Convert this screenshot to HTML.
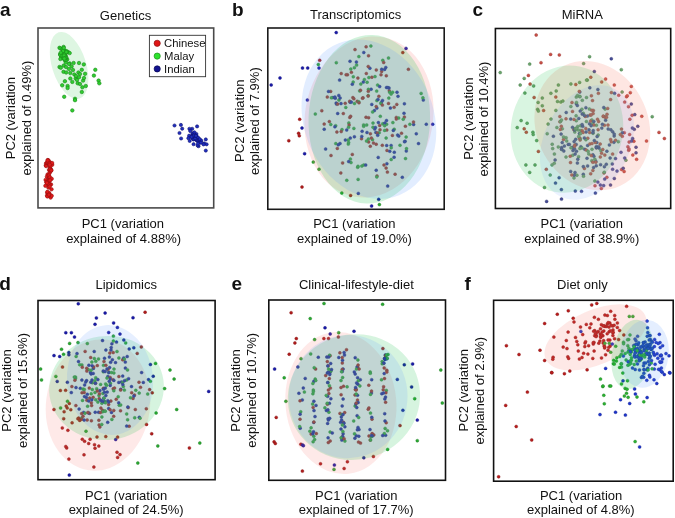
<!DOCTYPE html>
<html><head><meta charset="utf-8"><title>PCA plots</title>
<style>html,body{margin:0;padding:0;background:#fff;width:675px;height:518px;overflow:hidden}svg{display:block}</style>
</head><body>
<svg width="675" height="518" viewBox="0 0 675 518">
<rect width="675" height="518" fill="#fff"/>
<clipPath id="clipa"><rect x="38.0" y="28.0" width="175.7" height="179.9"/></clipPath>
<g clip-path="url(#clipa)">
<ellipse cx="69.1" cy="65.4" rx="17.0" ry="34.7" transform="rotate(-17.5 69.1 65.4)" fill="#5ad26e" fill-opacity="0.2"/>
<g fill="#30cc30" stroke="#1a8c1a" stroke-width="0.6">
<circle cx="61.2" cy="57.0" r="1.75"/>
<circle cx="64.7" cy="51.3" r="1.75"/>
<circle cx="60.5" cy="54.6" r="1.75"/>
<circle cx="65.2" cy="60.4" r="1.75"/>
<circle cx="59.5" cy="47.8" r="1.75"/>
<circle cx="65.1" cy="56.9" r="1.75"/>
<circle cx="67.2" cy="59.4" r="1.75"/>
<circle cx="62.7" cy="53.0" r="1.75"/>
<circle cx="68.0" cy="52.0" r="1.75"/>
<circle cx="60.5" cy="48.5" r="1.75"/>
<circle cx="63.5" cy="55.3" r="1.75"/>
<circle cx="62.5" cy="54.3" r="1.75"/>
<circle cx="64.4" cy="58.2" r="1.75"/>
<circle cx="65.6" cy="55.3" r="1.75"/>
<circle cx="60.4" cy="59.0" r="1.75"/>
<circle cx="60.2" cy="54.0" r="1.75"/>
<circle cx="60.3" cy="55.0" r="1.75"/>
<circle cx="61.9" cy="55.9" r="1.75"/>
<circle cx="69.7" cy="53.1" r="1.75"/>
<circle cx="63.6" cy="46.9" r="1.75"/>
<circle cx="63.3" cy="58.3" r="1.75"/>
<circle cx="63.4" cy="56.6" r="1.75"/>
<circle cx="62.4" cy="48.9" r="1.75"/>
<circle cx="63.5" cy="49.8" r="1.75"/>
<circle cx="66.4" cy="51.1" r="1.75"/>
<circle cx="64.6" cy="54.3" r="1.75"/>
<circle cx="64.5" cy="50.8" r="1.75"/>
<circle cx="65.0" cy="53.5" r="1.75"/>
<circle cx="66.3" cy="57.5" r="1.75"/>
<circle cx="62.7" cy="50.1" r="1.75"/>
<circle cx="65.2" cy="56.8" r="1.75"/>
<circle cx="66.1" cy="51.9" r="1.75"/>
<circle cx="64.8" cy="57.1" r="1.75"/>
<circle cx="64.0" cy="55.6" r="1.75"/>
<circle cx="63.0" cy="51.1" r="1.75"/>
<circle cx="60.8" cy="52.7" r="1.75"/>
<circle cx="65.8" cy="62.6" r="1.75"/>
<circle cx="66.1" cy="60.0" r="1.75"/>
<circle cx="65.4" cy="58.1" r="1.75"/>
<circle cx="64.3" cy="58.7" r="1.75"/>
<circle cx="66.4" cy="52.1" r="1.75"/>
<circle cx="63.7" cy="65.6" r="1.75"/>
<circle cx="64.6" cy="59.8" r="1.75"/>
<circle cx="63.8" cy="47.9" r="1.75"/>
<circle cx="69.7" cy="63.4" r="1.75"/>
<circle cx="64.3" cy="58.6" r="1.75"/>
<circle cx="59.5" cy="67.0" r="1.75"/>
<circle cx="60.8" cy="67.7" r="1.75"/>
<circle cx="63.5" cy="71.8" r="1.75"/>
<circle cx="66.2" cy="72.5" r="1.75"/>
<circle cx="70.3" cy="73.1" r="1.75"/>
<circle cx="68.9" cy="69.1" r="1.75"/>
<circle cx="71.6" cy="66.4" r="1.75"/>
<circle cx="73.6" cy="63.0" r="1.75"/>
<circle cx="79.0" cy="63.0" r="1.75"/>
<circle cx="83.8" cy="64.4" r="1.75"/>
<circle cx="74.3" cy="74.5" r="1.75"/>
<circle cx="78.4" cy="72.5" r="1.75"/>
<circle cx="81.8" cy="69.8" r="1.75"/>
<circle cx="85.1" cy="73.8" r="1.75"/>
<circle cx="75.7" cy="78.5" r="1.75"/>
<circle cx="79.0" cy="77.2" r="1.75"/>
<circle cx="83.1" cy="80.6" r="1.75"/>
<circle cx="70.3" cy="78.5" r="1.75"/>
<circle cx="72.3" cy="81.9" r="1.75"/>
<circle cx="64.9" cy="81.2" r="1.75"/>
<circle cx="62.2" cy="85.3" r="1.75"/>
<circle cx="67.6" cy="86.0" r="1.75"/>
<circle cx="67.6" cy="88.0" r="1.75"/>
<circle cx="77.7" cy="83.3" r="1.75"/>
<circle cx="82.4" cy="87.3" r="1.75"/>
<circle cx="85.8" cy="86.0" r="1.75"/>
<circle cx="81.8" cy="92.0" r="1.75"/>
<circle cx="64.2" cy="96.8" r="1.75"/>
<circle cx="75.0" cy="98.8" r="1.75"/>
<circle cx="75.0" cy="100.2" r="1.75"/>
<circle cx="95.3" cy="69.8" r="1.75"/>
<circle cx="93.9" cy="75.6" r="1.75"/>
<circle cx="98.6" cy="80.6" r="1.75"/>
<circle cx="99.3" cy="83.3" r="1.75"/>
<circle cx="72.3" cy="110.4" r="1.75"/>
<circle cx="76.0" cy="76.0" r="1.75"/>
<circle cx="80.0" cy="74.0" r="1.75"/>
<circle cx="77.0" cy="80.0" r="1.75"/>
<circle cx="66.0" cy="67.0" r="1.75"/>
<circle cx="69.0" cy="64.0" r="1.75"/>
<circle cx="73.0" cy="70.0" r="1.75"/>
<circle cx="80.0" cy="84.0" r="1.75"/>
<circle cx="84.0" cy="78.0" r="1.75"/>
</g>
<g fill="#e01a1a" stroke="#9a1010" stroke-width="0.6">
<circle cx="51.0" cy="184.4" r="1.75"/>
<circle cx="50.5" cy="195.7" r="1.75"/>
<circle cx="48.4" cy="187.6" r="1.75"/>
<circle cx="50.1" cy="184.7" r="1.75"/>
<circle cx="47.6" cy="174.5" r="1.75"/>
<circle cx="51.5" cy="189.3" r="1.75"/>
<circle cx="49.6" cy="194.2" r="1.75"/>
<circle cx="49.6" cy="173.0" r="1.75"/>
<circle cx="48.4" cy="183.6" r="1.75"/>
<circle cx="52.2" cy="164.8" r="1.75"/>
<circle cx="45.8" cy="165.4" r="1.75"/>
<circle cx="47.7" cy="184.4" r="1.75"/>
<circle cx="49.9" cy="162.2" r="1.75"/>
<circle cx="49.9" cy="167.0" r="1.75"/>
<circle cx="50.6" cy="197.6" r="1.75"/>
<circle cx="48.3" cy="176.1" r="1.75"/>
<circle cx="45.4" cy="185.8" r="1.75"/>
<circle cx="46.1" cy="163.3" r="1.75"/>
<circle cx="46.2" cy="166.1" r="1.75"/>
<circle cx="47.1" cy="162.7" r="1.75"/>
<circle cx="50.3" cy="166.6" r="1.75"/>
<circle cx="46.9" cy="176.7" r="1.75"/>
<circle cx="49.3" cy="178.5" r="1.75"/>
<circle cx="52.1" cy="163.0" r="1.75"/>
<circle cx="49.0" cy="169.9" r="1.75"/>
<circle cx="47.8" cy="160.1" r="1.75"/>
<circle cx="48.5" cy="179.5" r="1.75"/>
<circle cx="47.6" cy="162.6" r="1.75"/>
<circle cx="45.6" cy="179.9" r="1.75"/>
<circle cx="49.0" cy="176.8" r="1.75"/>
<circle cx="46.5" cy="182.2" r="1.75"/>
<circle cx="48.8" cy="162.7" r="1.75"/>
<circle cx="47.2" cy="192.8" r="1.75"/>
<circle cx="48.8" cy="195.6" r="1.75"/>
<circle cx="49.6" cy="186.4" r="1.75"/>
<circle cx="49.1" cy="181.3" r="1.75"/>
<circle cx="51.7" cy="195.8" r="1.75"/>
<circle cx="49.0" cy="175.5" r="1.75"/>
<circle cx="47.1" cy="195.6" r="1.75"/>
<circle cx="50.7" cy="169.3" r="1.75"/>
<circle cx="48.2" cy="183.5" r="1.75"/>
<circle cx="49.8" cy="177.3" r="1.75"/>
<circle cx="48.5" cy="160.4" r="1.75"/>
<circle cx="50.6" cy="171.2" r="1.75"/>
<circle cx="51.2" cy="170.0" r="1.75"/>
<circle cx="48.3" cy="195.5" r="1.75"/>
<circle cx="47.6" cy="160.4" r="1.75"/>
<circle cx="49.8" cy="164.7" r="1.75"/>
<circle cx="49.1" cy="193.0" r="1.75"/>
<circle cx="50.0" cy="169.3" r="1.75"/>
<circle cx="48.6" cy="194.8" r="1.75"/>
<circle cx="51.3" cy="170.4" r="1.75"/>
<circle cx="48.7" cy="180.9" r="1.75"/>
<circle cx="46.7" cy="182.2" r="1.75"/>
<circle cx="51.7" cy="178.8" r="1.75"/>
<circle cx="47.4" cy="191.8" r="1.75"/>
<circle cx="47.3" cy="196.4" r="1.75"/>
<circle cx="50.1" cy="180.3" r="1.75"/>
<circle cx="48.9" cy="194.7" r="1.75"/>
<circle cx="46.9" cy="182.9" r="1.75"/>
</g>
<g fill="#1f30c0" stroke="#101070" stroke-width="0.6">
<circle cx="195.4" cy="138.3" r="1.6"/>
<circle cx="195.9" cy="137.0" r="1.6"/>
<circle cx="195.4" cy="138.5" r="1.6"/>
<circle cx="199.3" cy="140.9" r="1.6"/>
<circle cx="206.6" cy="144.3" r="1.6"/>
<circle cx="193.5" cy="139.0" r="1.6"/>
<circle cx="196.0" cy="136.2" r="1.6"/>
<circle cx="193.6" cy="138.3" r="1.6"/>
<circle cx="200.7" cy="141.0" r="1.6"/>
<circle cx="196.7" cy="137.9" r="1.6"/>
<circle cx="198.3" cy="141.3" r="1.6"/>
<circle cx="193.3" cy="139.4" r="1.6"/>
<circle cx="193.9" cy="136.7" r="1.6"/>
<circle cx="193.8" cy="134.1" r="1.6"/>
<circle cx="192.2" cy="128.8" r="1.6"/>
<circle cx="195.1" cy="134.6" r="1.6"/>
<circle cx="204.2" cy="143.4" r="1.6"/>
<circle cx="189.4" cy="128.8" r="1.6"/>
<circle cx="196.1" cy="139.9" r="1.6"/>
<circle cx="193.6" cy="144.2" r="1.6"/>
<circle cx="196.4" cy="134.0" r="1.6"/>
<circle cx="192.3" cy="138.0" r="1.6"/>
<circle cx="196.3" cy="138.8" r="1.6"/>
<circle cx="195.1" cy="138.9" r="1.6"/>
<circle cx="190.2" cy="131.0" r="1.6"/>
<circle cx="193.5" cy="133.8" r="1.6"/>
<circle cx="193.6" cy="135.4" r="1.6"/>
<circle cx="197.5" cy="140.9" r="1.6"/>
<circle cx="193.6" cy="139.0" r="1.6"/>
<circle cx="197.3" cy="138.5" r="1.6"/>
<circle cx="197.6" cy="140.1" r="1.6"/>
<circle cx="193.9" cy="136.6" r="1.6"/>
<circle cx="200.1" cy="142.5" r="1.6"/>
<circle cx="193.8" cy="136.0" r="1.6"/>
<circle cx="192.8" cy="134.2" r="1.6"/>
<circle cx="201.2" cy="140.5" r="1.6"/>
<circle cx="196.4" cy="136.8" r="1.6"/>
<circle cx="198.5" cy="146.2" r="1.6"/>
<circle cx="196.6" cy="139.7" r="1.6"/>
<circle cx="192.5" cy="133.4" r="1.6"/>
<circle cx="195.7" cy="138.9" r="1.6"/>
<circle cx="197.6" cy="145.4" r="1.6"/>
<circle cx="193.6" cy="133.5" r="1.6"/>
<circle cx="197.9" cy="137.3" r="1.6"/>
<circle cx="195.7" cy="136.0" r="1.6"/>
<circle cx="195.1" cy="138.3" r="1.6"/>
<circle cx="191.1" cy="136.4" r="1.6"/>
<circle cx="192.4" cy="135.9" r="1.6"/>
<circle cx="194.4" cy="132.3" r="1.6"/>
<circle cx="194.3" cy="134.6" r="1.6"/>
<circle cx="199.7" cy="139.1" r="1.6"/>
<circle cx="201.0" cy="142.7" r="1.6"/>
<circle cx="198.0" cy="143.6" r="1.6"/>
<circle cx="192.3" cy="136.5" r="1.6"/>
<circle cx="193.9" cy="135.6" r="1.6"/>
<circle cx="189.7" cy="140.9" r="1.6"/>
<circle cx="189.1" cy="135.7" r="1.6"/>
<circle cx="195.7" cy="135.6" r="1.6"/>
<circle cx="191.5" cy="136.9" r="1.6"/>
<circle cx="196.0" cy="135.9" r="1.6"/>
<circle cx="174.5" cy="125.5" r="1.6"/>
<circle cx="180.9" cy="124.9" r="1.6"/>
<circle cx="182.2" cy="128.7" r="1.6"/>
<circle cx="179.5" cy="133.0" r="1.6"/>
<circle cx="181.1" cy="138.5" r="1.6"/>
<circle cx="197.1" cy="126.4" r="1.6"/>
<circle cx="205.8" cy="139.4" r="1.6"/>
<circle cx="205.8" cy="150.6" r="1.6"/>
<circle cx="203.5" cy="144.4" r="1.6"/>
<circle cx="188.4" cy="138.2" r="1.6"/>
</g>
</g>
<rect x="38.0" y="28.0" width="175.70" height="179.90" fill="none" stroke="#4a4a4a" stroke-width="1.6"/>
<clipPath id="clipb"><rect x="267.8" y="28.0" width="176.39999999999998" height="181.3"/></clipPath>
<g clip-path="url(#clipb)">
<circle cx="379.7" cy="125.4" r="1.5" fill="#b01c1c" stroke="#801414" stroke-width="0.4"/>
<circle cx="366.0" cy="117.2" r="1.5" fill="#b01c1c" stroke="#801414" stroke-width="0.4"/>
<circle cx="378.4" cy="122.6" r="1.5" fill="#1a1aa8" stroke="#10107a" stroke-width="0.4"/>
<circle cx="364.4" cy="79.5" r="1.5" fill="#2aa832" stroke="#1c7a22" stroke-width="0.4"/>
<circle cx="391.1" cy="145.5" r="1.5" fill="#1a1aa8" stroke="#10107a" stroke-width="0.4"/>
<circle cx="342.6" cy="162.9" r="1.5" fill="#b01c1c" stroke="#801414" stroke-width="0.4"/>
<circle cx="330.8" cy="124.5" r="1.5" fill="#2aa832" stroke="#1c7a22" stroke-width="0.4"/>
<circle cx="355.0" cy="49.6" r="1.5" fill="#b01c1c" stroke="#801414" stroke-width="0.4"/>
<circle cx="386.5" cy="87.5" r="1.5" fill="#1a1aa8" stroke="#10107a" stroke-width="0.4"/>
<circle cx="389.3" cy="90.8" r="1.5" fill="#b01c1c" stroke="#801414" stroke-width="0.4"/>
<circle cx="369.9" cy="68.2" r="1.5" fill="#1a1aa8" stroke="#10107a" stroke-width="0.4"/>
<circle cx="381.3" cy="102.5" r="1.5" fill="#1a1aa8" stroke="#10107a" stroke-width="0.4"/>
<circle cx="358.9" cy="56.6" r="1.5" fill="#2aa832" stroke="#1c7a22" stroke-width="0.4"/>
<circle cx="359.7" cy="90.9" r="1.5" fill="#2aa832" stroke="#1c7a22" stroke-width="0.4"/>
<circle cx="396.3" cy="117.4" r="1.5" fill="#b01c1c" stroke="#801414" stroke-width="0.4"/>
<circle cx="371.1" cy="89.2" r="1.5" fill="#1a1aa8" stroke="#10107a" stroke-width="0.4"/>
<circle cx="382.7" cy="123.8" r="1.5" fill="#2aa832" stroke="#1c7a22" stroke-width="0.4"/>
<circle cx="350.1" cy="102.2" r="1.5" fill="#1a1aa8" stroke="#10107a" stroke-width="0.4"/>
<circle cx="348.8" cy="122.9" r="1.5" fill="#2aa832" stroke="#1c7a22" stroke-width="0.4"/>
<circle cx="376.9" cy="100.6" r="1.5" fill="#2aa832" stroke="#1c7a22" stroke-width="0.4"/>
<circle cx="338.9" cy="100.1" r="1.5" fill="#2aa832" stroke="#1c7a22" stroke-width="0.4"/>
<circle cx="353.2" cy="82.1" r="1.5" fill="#2aa832" stroke="#1c7a22" stroke-width="0.4"/>
<circle cx="339.6" cy="80.1" r="1.5" fill="#1a1aa8" stroke="#10107a" stroke-width="0.4"/>
<circle cx="342.0" cy="129.6" r="1.5" fill="#2aa832" stroke="#1c7a22" stroke-width="0.4"/>
<circle cx="387.0" cy="150.4" r="1.5" fill="#b01c1c" stroke="#801414" stroke-width="0.4"/>
<circle cx="298.6" cy="133.3" r="1.5" fill="#b01c1c" stroke="#801414" stroke-width="0.4"/>
<circle cx="357.7" cy="167.3" r="1.5" fill="#2aa832" stroke="#1c7a22" stroke-width="0.4"/>
<circle cx="302.0" cy="128.0" r="1.5" fill="#1a1aa8" stroke="#10107a" stroke-width="0.4"/>
<circle cx="332.9" cy="97.6" r="1.5" fill="#1a1aa8" stroke="#10107a" stroke-width="0.4"/>
<circle cx="336.2" cy="103.1" r="1.5" fill="#1a1aa8" stroke="#10107a" stroke-width="0.4"/>
<circle cx="388.5" cy="103.4" r="1.5" fill="#b01c1c" stroke="#801414" stroke-width="0.4"/>
<circle cx="378.9" cy="96.3" r="1.5" fill="#b01c1c" stroke="#801414" stroke-width="0.4"/>
<circle cx="404.4" cy="117.1" r="1.5" fill="#b01c1c" stroke="#801414" stroke-width="0.4"/>
<circle cx="377.0" cy="175.9" r="1.5" fill="#b01c1c" stroke="#801414" stroke-width="0.4"/>
<circle cx="366.7" cy="124.9" r="1.5" fill="#2aa832" stroke="#1c7a22" stroke-width="0.4"/>
<circle cx="340.8" cy="172.9" r="1.5" fill="#b01c1c" stroke="#801414" stroke-width="0.4"/>
<circle cx="349.1" cy="125.0" r="1.5" fill="#b01c1c" stroke="#801414" stroke-width="0.4"/>
<circle cx="373.0" cy="123.1" r="1.5" fill="#2aa832" stroke="#1c7a22" stroke-width="0.4"/>
<circle cx="349.7" cy="101.2" r="1.5" fill="#b01c1c" stroke="#801414" stroke-width="0.4"/>
<circle cx="335.8" cy="143.6" r="1.5" fill="#2aa832" stroke="#1c7a22" stroke-width="0.4"/>
<circle cx="348.3" cy="144.1" r="1.5" fill="#2aa832" stroke="#1c7a22" stroke-width="0.4"/>
<circle cx="363.7" cy="165.0" r="1.5" fill="#2aa832" stroke="#1c7a22" stroke-width="0.4"/>
<circle cx="363.3" cy="82.1" r="1.5" fill="#1a1aa8" stroke="#10107a" stroke-width="0.4"/>
<circle cx="378.2" cy="157.4" r="1.5" fill="#1a1aa8" stroke="#10107a" stroke-width="0.4"/>
<circle cx="394.3" cy="152.2" r="1.5" fill="#1a1aa8" stroke="#10107a" stroke-width="0.4"/>
<circle cx="402.3" cy="177.3" r="1.5" fill="#1a1aa8" stroke="#10107a" stroke-width="0.4"/>
<circle cx="381.0" cy="74.8" r="1.5" fill="#b01c1c" stroke="#801414" stroke-width="0.4"/>
<circle cx="398.7" cy="118.0" r="1.5" fill="#2aa832" stroke="#1c7a22" stroke-width="0.4"/>
<circle cx="352.9" cy="97.6" r="1.5" fill="#b01c1c" stroke="#801414" stroke-width="0.4"/>
<circle cx="380.0" cy="129.7" r="1.5" fill="#b01c1c" stroke="#801414" stroke-width="0.4"/>
<circle cx="357.2" cy="101.3" r="1.5" fill="#b01c1c" stroke="#801414" stroke-width="0.4"/>
<circle cx="307.4" cy="100.0" r="1.5" fill="#1a1aa8" stroke="#10107a" stroke-width="0.4"/>
<circle cx="379.4" cy="204.6" r="1.5" fill="#2aa832" stroke="#1c7a22" stroke-width="0.4"/>
<circle cx="408.4" cy="69.3" r="1.5" fill="#b01c1c" stroke="#801414" stroke-width="0.4"/>
<circle cx="335.7" cy="125.7" r="1.5" fill="#2aa832" stroke="#1c7a22" stroke-width="0.4"/>
<circle cx="376.3" cy="69.9" r="1.5" fill="#b01c1c" stroke="#801414" stroke-width="0.4"/>
<circle cx="336.2" cy="32.6" r="1.5" fill="#1a1aa8" stroke="#10107a" stroke-width="0.4"/>
<circle cx="386.5" cy="120.5" r="1.5" fill="#1a1aa8" stroke="#10107a" stroke-width="0.4"/>
<circle cx="395.1" cy="174.2" r="1.5" fill="#b01c1c" stroke="#801414" stroke-width="0.4"/>
<circle cx="386.7" cy="145.5" r="1.5" fill="#1a1aa8" stroke="#10107a" stroke-width="0.4"/>
<circle cx="406.3" cy="151.0" r="1.5" fill="#1a1aa8" stroke="#10107a" stroke-width="0.4"/>
<circle cx="350.4" cy="159.1" r="1.5" fill="#2aa832" stroke="#1c7a22" stroke-width="0.4"/>
<circle cx="389.7" cy="92.3" r="1.5" fill="#2aa832" stroke="#1c7a22" stroke-width="0.4"/>
<circle cx="365.7" cy="165.0" r="1.5" fill="#1a1aa8" stroke="#10107a" stroke-width="0.4"/>
<circle cx="341.2" cy="73.6" r="1.5" fill="#b01c1c" stroke="#801414" stroke-width="0.4"/>
<circle cx="307.7" cy="68.0" r="1.5" fill="#1a1aa8" stroke="#10107a" stroke-width="0.4"/>
<circle cx="391.2" cy="147.8" r="1.5" fill="#2aa832" stroke="#1c7a22" stroke-width="0.4"/>
<circle cx="358.8" cy="101.8" r="1.5" fill="#2aa832" stroke="#1c7a22" stroke-width="0.4"/>
<circle cx="368.2" cy="95.6" r="1.5" fill="#2aa832" stroke="#1c7a22" stroke-width="0.4"/>
<circle cx="386.9" cy="163.7" r="1.5" fill="#1a1aa8" stroke="#10107a" stroke-width="0.4"/>
<circle cx="392.4" cy="135.4" r="1.5" fill="#b01c1c" stroke="#801414" stroke-width="0.4"/>
<circle cx="337.3" cy="148.4" r="1.5" fill="#b01c1c" stroke="#801414" stroke-width="0.4"/>
<circle cx="406.1" cy="137.0" r="1.5" fill="#2aa832" stroke="#1c7a22" stroke-width="0.4"/>
<circle cx="374.7" cy="129.0" r="1.5" fill="#1a1aa8" stroke="#10107a" stroke-width="0.4"/>
<circle cx="358.3" cy="193.4" r="1.5" fill="#1a1aa8" stroke="#10107a" stroke-width="0.4"/>
<circle cx="416.3" cy="133.8" r="1.5" fill="#1a1aa8" stroke="#10107a" stroke-width="0.4"/>
<circle cx="304.6" cy="153.7" r="1.5" fill="#1a1aa8" stroke="#10107a" stroke-width="0.4"/>
<circle cx="340.0" cy="143.5" r="1.5" fill="#1a1aa8" stroke="#10107a" stroke-width="0.4"/>
<circle cx="354.5" cy="103.5" r="1.5" fill="#2aa832" stroke="#1c7a22" stroke-width="0.4"/>
<circle cx="327.3" cy="97.0" r="1.5" fill="#b01c1c" stroke="#801414" stroke-width="0.4"/>
<circle cx="368.4" cy="139.0" r="1.5" fill="#2aa832" stroke="#1c7a22" stroke-width="0.4"/>
<circle cx="352.3" cy="84.2" r="1.5" fill="#1a1aa8" stroke="#10107a" stroke-width="0.4"/>
<circle cx="336.3" cy="62.7" r="1.5" fill="#2aa832" stroke="#1c7a22" stroke-width="0.4"/>
<circle cx="341.2" cy="131.6" r="1.5" fill="#b01c1c" stroke="#801414" stroke-width="0.4"/>
<circle cx="348.5" cy="127.3" r="1.5" fill="#2aa832" stroke="#1c7a22" stroke-width="0.4"/>
<circle cx="345.2" cy="103.3" r="1.5" fill="#b01c1c" stroke="#801414" stroke-width="0.4"/>
<circle cx="366.1" cy="46.8" r="1.5" fill="#b01c1c" stroke="#801414" stroke-width="0.4"/>
<circle cx="370.4" cy="133.8" r="1.5" fill="#b01c1c" stroke="#801414" stroke-width="0.4"/>
<circle cx="404.4" cy="103.8" r="1.5" fill="#1a1aa8" stroke="#10107a" stroke-width="0.4"/>
<circle cx="392.9" cy="122.6" r="1.5" fill="#2aa832" stroke="#1c7a22" stroke-width="0.4"/>
<circle cx="380.9" cy="103.4" r="1.5" fill="#2aa832" stroke="#1c7a22" stroke-width="0.4"/>
<circle cx="405.1" cy="141.3" r="1.5" fill="#1a1aa8" stroke="#10107a" stroke-width="0.4"/>
<circle cx="313.3" cy="162.1" r="1.5" fill="#2aa832" stroke="#1c7a22" stroke-width="0.4"/>
<circle cx="363.8" cy="52.5" r="1.5" fill="#1a1aa8" stroke="#10107a" stroke-width="0.4"/>
<circle cx="377.6" cy="85.1" r="1.5" fill="#2aa832" stroke="#1c7a22" stroke-width="0.4"/>
<circle cx="386.8" cy="130.0" r="1.5" fill="#b01c1c" stroke="#801414" stroke-width="0.4"/>
<circle cx="341.8" cy="193.0" r="1.5" fill="#2aa832" stroke="#1c7a22" stroke-width="0.4"/>
<circle cx="382.3" cy="145.3" r="1.5" fill="#b01c1c" stroke="#801414" stroke-width="0.4"/>
<circle cx="360.5" cy="90.2" r="1.5" fill="#b01c1c" stroke="#801414" stroke-width="0.4"/>
<circle cx="351.0" cy="162.6" r="1.5" fill="#2aa832" stroke="#1c7a22" stroke-width="0.4"/>
<circle cx="386.6" cy="124.2" r="1.5" fill="#2aa832" stroke="#1c7a22" stroke-width="0.4"/>
<circle cx="372.5" cy="139.7" r="1.5" fill="#2aa832" stroke="#1c7a22" stroke-width="0.4"/>
<circle cx="363.6" cy="124.9" r="1.5" fill="#2aa832" stroke="#1c7a22" stroke-width="0.4"/>
<circle cx="357.9" cy="78.1" r="1.5" fill="#b01c1c" stroke="#801414" stroke-width="0.4"/>
<circle cx="302.5" cy="68.0" r="1.5" fill="#1a1aa8" stroke="#10107a" stroke-width="0.4"/>
<circle cx="376.9" cy="108.1" r="1.5" fill="#1a1aa8" stroke="#10107a" stroke-width="0.4"/>
<circle cx="368.4" cy="89.3" r="1.5" fill="#2aa832" stroke="#1c7a22" stroke-width="0.4"/>
<circle cx="330.7" cy="91.4" r="1.5" fill="#b01c1c" stroke="#801414" stroke-width="0.4"/>
<circle cx="389.8" cy="151.3" r="1.5" fill="#1a1aa8" stroke="#10107a" stroke-width="0.4"/>
<circle cx="325.6" cy="149.0" r="1.5" fill="#1a1aa8" stroke="#10107a" stroke-width="0.4"/>
<circle cx="409.9" cy="124.3" r="1.5" fill="#2aa832" stroke="#1c7a22" stroke-width="0.4"/>
<circle cx="384.8" cy="123.1" r="1.5" fill="#1a1aa8" stroke="#10107a" stroke-width="0.4"/>
<circle cx="388.8" cy="98.1" r="1.5" fill="#2aa832" stroke="#1c7a22" stroke-width="0.4"/>
<circle cx="335.3" cy="98.2" r="1.5" fill="#1a1aa8" stroke="#10107a" stroke-width="0.4"/>
<circle cx="346.8" cy="180.3" r="1.5" fill="#2aa832" stroke="#1c7a22" stroke-width="0.4"/>
<circle cx="336.6" cy="104.1" r="1.5" fill="#1a1aa8" stroke="#10107a" stroke-width="0.4"/>
<circle cx="351.4" cy="72.3" r="1.5" fill="#b01c1c" stroke="#801414" stroke-width="0.4"/>
<circle cx="396.8" cy="104.4" r="1.5" fill="#b01c1c" stroke="#801414" stroke-width="0.4"/>
<circle cx="382.4" cy="105.1" r="1.5" fill="#b01c1c" stroke="#801414" stroke-width="0.4"/>
<circle cx="349.8" cy="117.4" r="1.5" fill="#b01c1c" stroke="#801414" stroke-width="0.4"/>
<circle cx="402.8" cy="52.6" r="1.5" fill="#b01c1c" stroke="#801414" stroke-width="0.4"/>
<circle cx="413.6" cy="124.5" r="1.5" fill="#1a1aa8" stroke="#10107a" stroke-width="0.4"/>
<circle cx="379.2" cy="132.7" r="1.5" fill="#2aa832" stroke="#1c7a22" stroke-width="0.4"/>
<circle cx="398.0" cy="96.3" r="1.5" fill="#1a1aa8" stroke="#10107a" stroke-width="0.4"/>
<circle cx="376.2" cy="144.2" r="1.5" fill="#b01c1c" stroke="#801414" stroke-width="0.4"/>
<circle cx="350.3" cy="138.1" r="1.5" fill="#1a1aa8" stroke="#10107a" stroke-width="0.4"/>
<circle cx="324.2" cy="124.1" r="1.5" fill="#b01c1c" stroke="#801414" stroke-width="0.4"/>
<circle cx="331.0" cy="155.5" r="1.5" fill="#b01c1c" stroke="#801414" stroke-width="0.4"/>
<circle cx="370.3" cy="146.2" r="1.5" fill="#b01c1c" stroke="#801414" stroke-width="0.4"/>
<circle cx="381.7" cy="71.4" r="1.5" fill="#b01c1c" stroke="#801414" stroke-width="0.4"/>
<circle cx="376.2" cy="106.6" r="1.5" fill="#b01c1c" stroke="#801414" stroke-width="0.4"/>
<circle cx="384.6" cy="130.4" r="1.5" fill="#2aa832" stroke="#1c7a22" stroke-width="0.4"/>
<circle cx="337.7" cy="113.5" r="1.5" fill="#1a1aa8" stroke="#10107a" stroke-width="0.4"/>
<circle cx="394.1" cy="107.3" r="1.5" fill="#b01c1c" stroke="#801414" stroke-width="0.4"/>
<circle cx="376.8" cy="176.9" r="1.5" fill="#2aa832" stroke="#1c7a22" stroke-width="0.4"/>
<circle cx="375.0" cy="76.6" r="1.5" fill="#2aa832" stroke="#1c7a22" stroke-width="0.4"/>
<circle cx="384.6" cy="69.4" r="1.5" fill="#1a1aa8" stroke="#10107a" stroke-width="0.4"/>
<circle cx="392.6" cy="92.2" r="1.5" fill="#2aa832" stroke="#1c7a22" stroke-width="0.4"/>
<circle cx="386.1" cy="138.0" r="1.5" fill="#2aa832" stroke="#1c7a22" stroke-width="0.4"/>
<circle cx="338.8" cy="95.4" r="1.5" fill="#1a1aa8" stroke="#10107a" stroke-width="0.4"/>
<circle cx="347.5" cy="74.8" r="1.5" fill="#b01c1c" stroke="#801414" stroke-width="0.4"/>
<circle cx="356.6" cy="65.1" r="1.5" fill="#2aa832" stroke="#1c7a22" stroke-width="0.4"/>
<circle cx="367.0" cy="132.5" r="1.5" fill="#1a1aa8" stroke="#10107a" stroke-width="0.4"/>
<circle cx="390.4" cy="108.0" r="1.5" fill="#1a1aa8" stroke="#10107a" stroke-width="0.4"/>
<circle cx="421.1" cy="93.4" r="1.5" fill="#2aa832" stroke="#1c7a22" stroke-width="0.4"/>
<circle cx="361.5" cy="138.7" r="1.5" fill="#b01c1c" stroke="#801414" stroke-width="0.4"/>
<circle cx="368.9" cy="77.6" r="1.5" fill="#2aa832" stroke="#1c7a22" stroke-width="0.4"/>
<circle cx="315.3" cy="114.0" r="1.5" fill="#2aa832" stroke="#1c7a22" stroke-width="0.4"/>
<circle cx="384.0" cy="165.0" r="1.5" fill="#b01c1c" stroke="#801414" stroke-width="0.4"/>
<circle cx="432.7" cy="124.2" r="1.5" fill="#1a1aa8" stroke="#10107a" stroke-width="0.4"/>
<circle cx="391.1" cy="94.1" r="1.5" fill="#2aa832" stroke="#1c7a22" stroke-width="0.4"/>
<circle cx="368.5" cy="55.8" r="1.5" fill="#b01c1c" stroke="#801414" stroke-width="0.4"/>
<circle cx="280.0" cy="77.9" r="1.5" fill="#1a1aa8" stroke="#10107a" stroke-width="0.4"/>
<circle cx="375.9" cy="132.4" r="1.5" fill="#1a1aa8" stroke="#10107a" stroke-width="0.4"/>
<circle cx="391.2" cy="159.5" r="1.5" fill="#2aa832" stroke="#1c7a22" stroke-width="0.4"/>
<circle cx="341.0" cy="103.6" r="1.5" fill="#1a1aa8" stroke="#10107a" stroke-width="0.4"/>
<circle cx="299.7" cy="119.3" r="1.5" fill="#b01c1c" stroke="#801414" stroke-width="0.4"/>
<circle cx="371.9" cy="77.2" r="1.5" fill="#b01c1c" stroke="#801414" stroke-width="0.4"/>
<circle cx="353.3" cy="76.8" r="1.5" fill="#2aa832" stroke="#1c7a22" stroke-width="0.4"/>
<circle cx="288.8" cy="140.7" r="1.5" fill="#b01c1c" stroke="#801414" stroke-width="0.4"/>
<circle cx="328.5" cy="91.4" r="1.5" fill="#1a1aa8" stroke="#10107a" stroke-width="0.4"/>
<circle cx="377.3" cy="133.0" r="1.5" fill="#b01c1c" stroke="#801414" stroke-width="0.4"/>
<circle cx="413.5" cy="122.0" r="1.5" fill="#b01c1c" stroke="#801414" stroke-width="0.4"/>
<circle cx="350.6" cy="195.5" r="1.5" fill="#b01c1c" stroke="#801414" stroke-width="0.4"/>
<circle cx="387.4" cy="172.1" r="1.5" fill="#b01c1c" stroke="#801414" stroke-width="0.4"/>
<circle cx="405.5" cy="158.6" r="1.5" fill="#2aa832" stroke="#1c7a22" stroke-width="0.4"/>
<circle cx="404.5" cy="141.7" r="1.5" fill="#1a1aa8" stroke="#10107a" stroke-width="0.4"/>
<circle cx="373.0" cy="127.2" r="1.5" fill="#2aa832" stroke="#1c7a22" stroke-width="0.4"/>
<circle cx="384.6" cy="125.7" r="1.5" fill="#2aa832" stroke="#1c7a22" stroke-width="0.4"/>
<circle cx="382.8" cy="60.3" r="1.5" fill="#2aa832" stroke="#1c7a22" stroke-width="0.4"/>
<circle cx="367.1" cy="82.2" r="1.5" fill="#2aa832" stroke="#1c7a22" stroke-width="0.4"/>
<circle cx="388.5" cy="58.0" r="1.5" fill="#2aa832" stroke="#1c7a22" stroke-width="0.4"/>
<circle cx="406.0" cy="48.4" r="1.5" fill="#1a1aa8" stroke="#10107a" stroke-width="0.4"/>
<circle cx="394.2" cy="129.2" r="1.5" fill="#2aa832" stroke="#1c7a22" stroke-width="0.4"/>
<circle cx="401.5" cy="133.2" r="1.5" fill="#b01c1c" stroke="#801414" stroke-width="0.4"/>
<circle cx="363.0" cy="97.8" r="1.5" fill="#b01c1c" stroke="#801414" stroke-width="0.4"/>
<circle cx="405.4" cy="126.2" r="1.5" fill="#b01c1c" stroke="#801414" stroke-width="0.4"/>
<circle cx="397.6" cy="135.1" r="1.5" fill="#1a1aa8" stroke="#10107a" stroke-width="0.4"/>
<circle cx="376.2" cy="170.2" r="1.5" fill="#1a1aa8" stroke="#10107a" stroke-width="0.4"/>
<circle cx="350.0" cy="61.3" r="1.5" fill="#1a1aa8" stroke="#10107a" stroke-width="0.4"/>
<circle cx="299.3" cy="135.8" r="1.5" fill="#b01c1c" stroke="#801414" stroke-width="0.4"/>
<circle cx="368.6" cy="117.7" r="1.5" fill="#b01c1c" stroke="#801414" stroke-width="0.4"/>
<circle cx="361.8" cy="166.1" r="1.5" fill="#2aa832" stroke="#1c7a22" stroke-width="0.4"/>
<circle cx="329.3" cy="121.6" r="1.5" fill="#b01c1c" stroke="#801414" stroke-width="0.4"/>
<circle cx="375.4" cy="127.5" r="1.5" fill="#1a1aa8" stroke="#10107a" stroke-width="0.4"/>
<circle cx="386.3" cy="75.8" r="1.5" fill="#b01c1c" stroke="#801414" stroke-width="0.4"/>
<circle cx="348.6" cy="142.5" r="1.5" fill="#2aa832" stroke="#1c7a22" stroke-width="0.4"/>
<circle cx="324.2" cy="129.2" r="1.5" fill="#1a1aa8" stroke="#10107a" stroke-width="0.4"/>
<circle cx="319.0" cy="169.2" r="1.5" fill="#2aa832" stroke="#1c7a22" stroke-width="0.4"/>
<circle cx="353.9" cy="128.4" r="1.5" fill="#2aa832" stroke="#1c7a22" stroke-width="0.4"/>
<circle cx="346.7" cy="130.0" r="1.5" fill="#1a1aa8" stroke="#10107a" stroke-width="0.4"/>
<circle cx="363.7" cy="126.3" r="1.5" fill="#2aa832" stroke="#1c7a22" stroke-width="0.4"/>
<circle cx="423.3" cy="100.0" r="1.5" fill="#1a1aa8" stroke="#10107a" stroke-width="0.4"/>
<circle cx="380.3" cy="116.3" r="1.5" fill="#2aa832" stroke="#1c7a22" stroke-width="0.4"/>
<circle cx="389.0" cy="87.9" r="1.5" fill="#1a1aa8" stroke="#10107a" stroke-width="0.4"/>
<circle cx="362.5" cy="98.2" r="1.5" fill="#b01c1c" stroke="#801414" stroke-width="0.4"/>
<circle cx="352.3" cy="154.4" r="1.5" fill="#b01c1c" stroke="#801414" stroke-width="0.4"/>
<circle cx="376.7" cy="91.1" r="1.5" fill="#2aa832" stroke="#1c7a22" stroke-width="0.4"/>
<circle cx="359.0" cy="102.8" r="1.5" fill="#b01c1c" stroke="#801414" stroke-width="0.4"/>
<circle cx="361.8" cy="136.4" r="1.5" fill="#1a1aa8" stroke="#10107a" stroke-width="0.4"/>
<circle cx="394.1" cy="157.2" r="1.5" fill="#1a1aa8" stroke="#10107a" stroke-width="0.4"/>
<circle cx="331.4" cy="97.8" r="1.5" fill="#2aa832" stroke="#1c7a22" stroke-width="0.4"/>
<circle cx="319.7" cy="60.3" r="1.5" fill="#b01c1c" stroke="#801414" stroke-width="0.4"/>
<circle cx="382.5" cy="100.4" r="1.5" fill="#1a1aa8" stroke="#10107a" stroke-width="0.4"/>
<circle cx="334.9" cy="126.8" r="1.5" fill="#1a1aa8" stroke="#10107a" stroke-width="0.4"/>
<circle cx="368.2" cy="66.5" r="1.5" fill="#b01c1c" stroke="#801414" stroke-width="0.4"/>
<circle cx="374.4" cy="110.6" r="1.5" fill="#1a1aa8" stroke="#10107a" stroke-width="0.4"/>
<circle cx="372.6" cy="111.9" r="1.5" fill="#2aa832" stroke="#1c7a22" stroke-width="0.4"/>
<circle cx="337.7" cy="104.1" r="1.5" fill="#b01c1c" stroke="#801414" stroke-width="0.4"/>
<circle cx="378.7" cy="199.3" r="1.5" fill="#1a1aa8" stroke="#10107a" stroke-width="0.4"/>
<circle cx="403.2" cy="119.2" r="1.5" fill="#2aa832" stroke="#1c7a22" stroke-width="0.4"/>
<circle cx="397.0" cy="92.2" r="1.5" fill="#1a1aa8" stroke="#10107a" stroke-width="0.4"/>
<circle cx="404.0" cy="113.3" r="1.5" fill="#1a1aa8" stroke="#10107a" stroke-width="0.4"/>
<circle cx="350.6" cy="116.2" r="1.5" fill="#b01c1c" stroke="#801414" stroke-width="0.4"/>
<circle cx="356.4" cy="62.0" r="1.5" fill="#1a1aa8" stroke="#10107a" stroke-width="0.4"/>
<circle cx="368.3" cy="91.3" r="1.5" fill="#b01c1c" stroke="#801414" stroke-width="0.4"/>
<circle cx="368.6" cy="141.9" r="1.5" fill="#b01c1c" stroke="#801414" stroke-width="0.4"/>
<circle cx="400.0" cy="145.3" r="1.5" fill="#2aa832" stroke="#1c7a22" stroke-width="0.4"/>
<circle cx="370.9" cy="46.0" r="1.5" fill="#2aa832" stroke="#1c7a22" stroke-width="0.4"/>
<circle cx="366.3" cy="73.5" r="1.5" fill="#b01c1c" stroke="#801414" stroke-width="0.4"/>
<circle cx="336.9" cy="132.0" r="1.5" fill="#b01c1c" stroke="#801414" stroke-width="0.4"/>
<circle cx="398.8" cy="136.1" r="1.5" fill="#1a1aa8" stroke="#10107a" stroke-width="0.4"/>
<circle cx="358.1" cy="179.4" r="1.5" fill="#2aa832" stroke="#1c7a22" stroke-width="0.4"/>
<circle cx="360.8" cy="84.1" r="1.5" fill="#2aa832" stroke="#1c7a22" stroke-width="0.4"/>
<circle cx="371.4" cy="138.0" r="1.5" fill="#b01c1c" stroke="#801414" stroke-width="0.4"/>
<circle cx="345.8" cy="107.4" r="1.5" fill="#2aa832" stroke="#1c7a22" stroke-width="0.4"/>
<circle cx="386.1" cy="168.1" r="1.5" fill="#b01c1c" stroke="#801414" stroke-width="0.4"/>
<circle cx="358.0" cy="166.3" r="1.5" fill="#2aa832" stroke="#1c7a22" stroke-width="0.4"/>
<circle cx="362.1" cy="131.3" r="1.5" fill="#1a1aa8" stroke="#10107a" stroke-width="0.4"/>
<circle cx="354.4" cy="136.8" r="1.5" fill="#1a1aa8" stroke="#10107a" stroke-width="0.4"/>
<circle cx="343.3" cy="113.6" r="1.5" fill="#b01c1c" stroke="#801414" stroke-width="0.4"/>
<circle cx="422.9" cy="97.8" r="1.5" fill="#2aa832" stroke="#1c7a22" stroke-width="0.4"/>
<circle cx="387.8" cy="87.6" r="1.5" fill="#1a1aa8" stroke="#10107a" stroke-width="0.4"/>
<circle cx="385.8" cy="67.4" r="1.5" fill="#1a1aa8" stroke="#10107a" stroke-width="0.4"/>
<circle cx="378.0" cy="99.4" r="1.5" fill="#1a1aa8" stroke="#10107a" stroke-width="0.4"/>
<circle cx="366.5" cy="141.0" r="1.5" fill="#2aa832" stroke="#1c7a22" stroke-width="0.4"/>
<circle cx="396.3" cy="119.0" r="1.5" fill="#b01c1c" stroke="#801414" stroke-width="0.4"/>
<circle cx="302.0" cy="187.0" r="1.5" fill="#b01c1c" stroke="#801414" stroke-width="0.4"/>
<circle cx="353.9" cy="98.7" r="1.5" fill="#b01c1c" stroke="#801414" stroke-width="0.4"/>
<circle cx="381.7" cy="69.2" r="1.5" fill="#1a1aa8" stroke="#10107a" stroke-width="0.4"/>
<circle cx="354.4" cy="67.7" r="1.5" fill="#2aa832" stroke="#1c7a22" stroke-width="0.4"/>
<circle cx="340.1" cy="97.9" r="1.5" fill="#1a1aa8" stroke="#10107a" stroke-width="0.4"/>
<circle cx="351.4" cy="102.1" r="1.5" fill="#1a1aa8" stroke="#10107a" stroke-width="0.4"/>
<circle cx="371.8" cy="104.4" r="1.5" fill="#1a1aa8" stroke="#10107a" stroke-width="0.4"/>
<circle cx="426.3" cy="124.2" r="1.5" fill="#1a1aa8" stroke="#10107a" stroke-width="0.4"/>
<circle cx="334.9" cy="97.1" r="1.5" fill="#1a1aa8" stroke="#10107a" stroke-width="0.4"/>
<circle cx="348.7" cy="161.6" r="1.5" fill="#1a1aa8" stroke="#10107a" stroke-width="0.4"/>
<circle cx="383.7" cy="62.5" r="1.5" fill="#b01c1c" stroke="#801414" stroke-width="0.4"/>
<circle cx="406.5" cy="148.6" r="1.5" fill="#2aa832" stroke="#1c7a22" stroke-width="0.4"/>
<circle cx="319.0" cy="68.0" r="1.5" fill="#1a1aa8" stroke="#10107a" stroke-width="0.4"/>
<circle cx="371.6" cy="206.0" r="1.5" fill="#1a1aa8" stroke="#10107a" stroke-width="0.4"/>
<circle cx="338.3" cy="144.8" r="1.5" fill="#1a1aa8" stroke="#10107a" stroke-width="0.4"/>
<circle cx="393.3" cy="130.4" r="1.5" fill="#1a1aa8" stroke="#10107a" stroke-width="0.4"/>
<circle cx="318.3" cy="64.5" r="1.5" fill="#2aa832" stroke="#1c7a22" stroke-width="0.4"/>
<circle cx="373.5" cy="143.1" r="1.5" fill="#b01c1c" stroke="#801414" stroke-width="0.4"/>
<circle cx="379.7" cy="86.6" r="1.5" fill="#1a1aa8" stroke="#10107a" stroke-width="0.4"/>
<circle cx="348.3" cy="139.9" r="1.5" fill="#2aa832" stroke="#1c7a22" stroke-width="0.4"/>
<circle cx="271.2" cy="84.9" r="1.5" fill="#1a1aa8" stroke="#10107a" stroke-width="0.4"/>
<circle cx="346.1" cy="74.7" r="1.5" fill="#b01c1c" stroke="#801414" stroke-width="0.4"/>
<circle cx="350.8" cy="69.1" r="1.5" fill="#2aa832" stroke="#1c7a22" stroke-width="0.4"/>
<circle cx="387.7" cy="186.1" r="1.5" fill="#1a1aa8" stroke="#10107a" stroke-width="0.4"/>
<circle cx="368.1" cy="96.1" r="1.5" fill="#b01c1c" stroke="#801414" stroke-width="0.4"/>
<circle cx="377.7" cy="135.3" r="1.5" fill="#1a1aa8" stroke="#10107a" stroke-width="0.4"/>
<circle cx="418.5" cy="143.6" r="1.5" fill="#1a1aa8" stroke="#10107a" stroke-width="0.4"/>
<circle cx="321.8" cy="110.7" r="1.5" fill="#b01c1c" stroke="#801414" stroke-width="0.4"/>
<circle cx="345.4" cy="140.0" r="1.5" fill="#1a1aa8" stroke="#10107a" stroke-width="0.4"/>
<ellipse cx="369" cy="117" rx="64" ry="81" transform="rotate(10 369 117)" fill="#F8766D" fill-opacity="0.18"/>
<ellipse cx="369.3" cy="119.3" rx="60.8" ry="84.3" transform="rotate(2.1 369.3 119.3)" fill="#00BA38" fill-opacity="0.18"/>
<ellipse cx="368.9" cy="119.2" rx="64.8" ry="81.8" transform="rotate(-21.7 368.9 119.2)" fill="#619CFF" fill-opacity="0.18"/>
</g>
<rect x="267.8" y="28.0" width="176.40" height="181.30" fill="none" stroke="#1a1a1a" stroke-width="1.6"/>
<clipPath id="clipc"><rect x="495.4" y="28.5" width="175.30000000000007" height="180.0"/></clipPath>
<g clip-path="url(#clipc)">
<circle cx="586.5" cy="97.5" r="1.5" fill="#6aa46c" stroke="#3e7442" stroke-width="0.4"/>
<circle cx="590.7" cy="173.8" r="1.5" fill="#c85046" stroke="#963030" stroke-width="0.4"/>
<circle cx="591.8" cy="160.7" r="1.5" fill="#6aa46c" stroke="#3e7442" stroke-width="0.4"/>
<circle cx="600.9" cy="150.6" r="1.5" fill="#6aa46c" stroke="#3e7442" stroke-width="0.4"/>
<circle cx="557.5" cy="101.5" r="1.5" fill="#6aa46c" stroke="#3e7442" stroke-width="0.4"/>
<circle cx="583.3" cy="113.2" r="1.5" fill="#6aa46c" stroke="#3e7442" stroke-width="0.4"/>
<circle cx="632.1" cy="115.3" r="1.5" fill="#c85046" stroke="#963030" stroke-width="0.4"/>
<circle cx="566.1" cy="137.7" r="1.5" fill="#6aa46c" stroke="#3e7442" stroke-width="0.4"/>
<circle cx="576.9" cy="175.2" r="1.5" fill="#6aa46c" stroke="#3e7442" stroke-width="0.4"/>
<circle cx="580.9" cy="146.7" r="1.5" fill="#454c98" stroke="#2a2e66" stroke-width="0.4"/>
<circle cx="604.4" cy="166.7" r="1.5" fill="#454c98" stroke="#2a2e66" stroke-width="0.4"/>
<circle cx="558.3" cy="146.9" r="1.5" fill="#6aa46c" stroke="#3e7442" stroke-width="0.4"/>
<circle cx="580.1" cy="140.0" r="1.5" fill="#c85046" stroke="#963030" stroke-width="0.4"/>
<circle cx="584.4" cy="168.5" r="1.5" fill="#c85046" stroke="#963030" stroke-width="0.4"/>
<circle cx="546.3" cy="169.3" r="1.5" fill="#c85046" stroke="#963030" stroke-width="0.4"/>
<circle cx="618.7" cy="95.3" r="1.5" fill="#c85046" stroke="#963030" stroke-width="0.4"/>
<circle cx="593.1" cy="113.6" r="1.5" fill="#c85046" stroke="#963030" stroke-width="0.4"/>
<circle cx="601.3" cy="188.4" r="1.5" fill="#c85046" stroke="#963030" stroke-width="0.4"/>
<circle cx="524.2" cy="78.4" r="1.5" fill="#6aa46c" stroke="#3e7442" stroke-width="0.4"/>
<circle cx="566.2" cy="112.5" r="1.5" fill="#454c98" stroke="#2a2e66" stroke-width="0.4"/>
<circle cx="598.6" cy="121.6" r="1.5" fill="#c85046" stroke="#963030" stroke-width="0.4"/>
<circle cx="613.9" cy="142.3" r="1.5" fill="#454c98" stroke="#2a2e66" stroke-width="0.4"/>
<circle cx="591.4" cy="95.8" r="1.5" fill="#c85046" stroke="#963030" stroke-width="0.4"/>
<circle cx="559.9" cy="121.8" r="1.5" fill="#c85046" stroke="#963030" stroke-width="0.4"/>
<circle cx="589.0" cy="129.8" r="1.5" fill="#454c98" stroke="#2a2e66" stroke-width="0.4"/>
<circle cx="578.6" cy="156.7" r="1.5" fill="#6aa46c" stroke="#3e7442" stroke-width="0.4"/>
<circle cx="561.7" cy="149.3" r="1.5" fill="#6aa46c" stroke="#3e7442" stroke-width="0.4"/>
<circle cx="614.2" cy="136.0" r="1.5" fill="#454c98" stroke="#2a2e66" stroke-width="0.4"/>
<circle cx="576.2" cy="144.4" r="1.5" fill="#454c98" stroke="#2a2e66" stroke-width="0.4"/>
<circle cx="588.8" cy="153.9" r="1.5" fill="#6aa46c" stroke="#3e7442" stroke-width="0.4"/>
<circle cx="579.4" cy="133.6" r="1.5" fill="#454c98" stroke="#2a2e66" stroke-width="0.4"/>
<circle cx="575.8" cy="84.5" r="1.5" fill="#c85046" stroke="#963030" stroke-width="0.4"/>
<circle cx="596.8" cy="142.5" r="1.5" fill="#454c98" stroke="#2a2e66" stroke-width="0.4"/>
<circle cx="568.2" cy="144.4" r="1.5" fill="#454c98" stroke="#2a2e66" stroke-width="0.4"/>
<circle cx="552.0" cy="164.9" r="1.5" fill="#6aa46c" stroke="#3e7442" stroke-width="0.4"/>
<circle cx="583.3" cy="174.3" r="1.5" fill="#454c98" stroke="#2a2e66" stroke-width="0.4"/>
<circle cx="606.9" cy="151.2" r="1.5" fill="#454c98" stroke="#2a2e66" stroke-width="0.4"/>
<circle cx="548.1" cy="124.1" r="1.5" fill="#6aa46c" stroke="#3e7442" stroke-width="0.4"/>
<circle cx="562.3" cy="128.8" r="1.5" fill="#6aa46c" stroke="#3e7442" stroke-width="0.4"/>
<circle cx="595.9" cy="161.4" r="1.5" fill="#454c98" stroke="#2a2e66" stroke-width="0.4"/>
<circle cx="592.7" cy="123.6" r="1.5" fill="#6aa46c" stroke="#3e7442" stroke-width="0.4"/>
<circle cx="583.5" cy="176.2" r="1.5" fill="#6aa46c" stroke="#3e7442" stroke-width="0.4"/>
<circle cx="600.6" cy="164.7" r="1.5" fill="#454c98" stroke="#2a2e66" stroke-width="0.4"/>
<circle cx="574.8" cy="144.9" r="1.5" fill="#c85046" stroke="#963030" stroke-width="0.4"/>
<circle cx="593.0" cy="133.3" r="1.5" fill="#6aa46c" stroke="#3e7442" stroke-width="0.4"/>
<circle cx="587.3" cy="80.1" r="1.5" fill="#6aa46c" stroke="#3e7442" stroke-width="0.4"/>
<circle cx="586.6" cy="80.1" r="1.5" fill="#6aa46c" stroke="#3e7442" stroke-width="0.4"/>
<circle cx="606.3" cy="164.2" r="1.5" fill="#454c98" stroke="#2a2e66" stroke-width="0.4"/>
<circle cx="592.9" cy="154.8" r="1.5" fill="#454c98" stroke="#2a2e66" stroke-width="0.4"/>
<circle cx="603.3" cy="116.6" r="1.5" fill="#c85046" stroke="#963030" stroke-width="0.4"/>
<circle cx="612.6" cy="169.2" r="1.5" fill="#454c98" stroke="#2a2e66" stroke-width="0.4"/>
<circle cx="589.5" cy="123.8" r="1.5" fill="#454c98" stroke="#2a2e66" stroke-width="0.4"/>
<circle cx="580.9" cy="130.4" r="1.5" fill="#6aa46c" stroke="#3e7442" stroke-width="0.4"/>
<circle cx="605.3" cy="116.9" r="1.5" fill="#6aa46c" stroke="#3e7442" stroke-width="0.4"/>
<circle cx="560.3" cy="129.4" r="1.5" fill="#c85046" stroke="#963030" stroke-width="0.4"/>
<circle cx="587.6" cy="165.9" r="1.5" fill="#454c98" stroke="#2a2e66" stroke-width="0.4"/>
<circle cx="582.3" cy="130.7" r="1.5" fill="#c85046" stroke="#963030" stroke-width="0.4"/>
<circle cx="596.5" cy="147.7" r="1.5" fill="#c85046" stroke="#963030" stroke-width="0.4"/>
<circle cx="611.3" cy="141.8" r="1.5" fill="#c85046" stroke="#963030" stroke-width="0.4"/>
<circle cx="566.7" cy="140.9" r="1.5" fill="#6aa46c" stroke="#3e7442" stroke-width="0.4"/>
<circle cx="560.4" cy="121.6" r="1.5" fill="#6aa46c" stroke="#3e7442" stroke-width="0.4"/>
<circle cx="605.6" cy="120.2" r="1.5" fill="#454c98" stroke="#2a2e66" stroke-width="0.4"/>
<circle cx="627.9" cy="146.7" r="1.5" fill="#c85046" stroke="#963030" stroke-width="0.4"/>
<circle cx="574.0" cy="177.9" r="1.5" fill="#6aa46c" stroke="#3e7442" stroke-width="0.4"/>
<circle cx="536.2" cy="35.0" r="1.5" fill="#c85046" stroke="#963030" stroke-width="0.4"/>
<circle cx="582.0" cy="147.9" r="1.5" fill="#6aa46c" stroke="#3e7442" stroke-width="0.4"/>
<circle cx="563.8" cy="151.0" r="1.5" fill="#454c98" stroke="#2a2e66" stroke-width="0.4"/>
<circle cx="628.7" cy="150.3" r="1.5" fill="#c85046" stroke="#963030" stroke-width="0.4"/>
<circle cx="632.4" cy="128.0" r="1.5" fill="#454c98" stroke="#2a2e66" stroke-width="0.4"/>
<circle cx="576.3" cy="103.7" r="1.5" fill="#454c98" stroke="#2a2e66" stroke-width="0.4"/>
<circle cx="611.4" cy="92.6" r="1.5" fill="#c85046" stroke="#963030" stroke-width="0.4"/>
<circle cx="582.3" cy="100.3" r="1.5" fill="#6aa46c" stroke="#3e7442" stroke-width="0.4"/>
<circle cx="564.4" cy="146.0" r="1.5" fill="#454c98" stroke="#2a2e66" stroke-width="0.4"/>
<circle cx="626.5" cy="96.7" r="1.5" fill="#c85046" stroke="#963030" stroke-width="0.4"/>
<circle cx="612.3" cy="163.9" r="1.5" fill="#454c98" stroke="#2a2e66" stroke-width="0.4"/>
<circle cx="610.5" cy="185.0" r="1.5" fill="#454c98" stroke="#2a2e66" stroke-width="0.4"/>
<circle cx="577.7" cy="126.4" r="1.5" fill="#6aa46c" stroke="#3e7442" stroke-width="0.4"/>
<circle cx="575.3" cy="191.0" r="1.5" fill="#454c98" stroke="#2a2e66" stroke-width="0.4"/>
<circle cx="615.6" cy="140.2" r="1.5" fill="#c85046" stroke="#963030" stroke-width="0.4"/>
<circle cx="622.3" cy="136.3" r="1.5" fill="#c85046" stroke="#963030" stroke-width="0.4"/>
<circle cx="570.5" cy="162.6" r="1.5" fill="#c85046" stroke="#963030" stroke-width="0.4"/>
<circle cx="622.1" cy="92.0" r="1.5" fill="#6aa46c" stroke="#3e7442" stroke-width="0.4"/>
<circle cx="592.5" cy="100.6" r="1.5" fill="#c85046" stroke="#963030" stroke-width="0.4"/>
<circle cx="560.8" cy="102.0" r="1.5" fill="#6aa46c" stroke="#3e7442" stroke-width="0.4"/>
<circle cx="574.8" cy="132.0" r="1.5" fill="#6aa46c" stroke="#3e7442" stroke-width="0.4"/>
<circle cx="589.7" cy="132.6" r="1.5" fill="#c85046" stroke="#963030" stroke-width="0.4"/>
<circle cx="593.9" cy="156.3" r="1.5" fill="#454c98" stroke="#2a2e66" stroke-width="0.4"/>
<circle cx="580.4" cy="138.8" r="1.5" fill="#6aa46c" stroke="#3e7442" stroke-width="0.4"/>
<circle cx="611.3" cy="58.8" r="1.5" fill="#454c98" stroke="#2a2e66" stroke-width="0.4"/>
<circle cx="581.9" cy="109.2" r="1.5" fill="#6aa46c" stroke="#3e7442" stroke-width="0.4"/>
<circle cx="538.4" cy="151.4" r="1.5" fill="#c85046" stroke="#963030" stroke-width="0.4"/>
<circle cx="555.5" cy="183.1" r="1.5" fill="#454c98" stroke="#2a2e66" stroke-width="0.4"/>
<circle cx="576.3" cy="120.7" r="1.5" fill="#6aa46c" stroke="#3e7442" stroke-width="0.4"/>
<circle cx="528.4" cy="75.4" r="1.5" fill="#c85046" stroke="#963030" stroke-width="0.4"/>
<circle cx="561.5" cy="120.0" r="1.5" fill="#6aa46c" stroke="#3e7442" stroke-width="0.4"/>
<circle cx="558.4" cy="85.0" r="1.5" fill="#6aa46c" stroke="#3e7442" stroke-width="0.4"/>
<circle cx="579.8" cy="92.0" r="1.5" fill="#454c98" stroke="#2a2e66" stroke-width="0.4"/>
<circle cx="559.9" cy="116.5" r="1.5" fill="#c85046" stroke="#963030" stroke-width="0.4"/>
<circle cx="575.5" cy="129.3" r="1.5" fill="#6aa46c" stroke="#3e7442" stroke-width="0.4"/>
<circle cx="537.6" cy="109.3" r="1.5" fill="#6aa46c" stroke="#3e7442" stroke-width="0.4"/>
<circle cx="600.3" cy="156.9" r="1.5" fill="#c85046" stroke="#963030" stroke-width="0.4"/>
<circle cx="583.1" cy="132.5" r="1.5" fill="#c85046" stroke="#963030" stroke-width="0.4"/>
<circle cx="664.4" cy="138.5" r="1.5" fill="#c85046" stroke="#963030" stroke-width="0.4"/>
<circle cx="587.6" cy="145.5" r="1.5" fill="#454c98" stroke="#2a2e66" stroke-width="0.4"/>
<circle cx="576.3" cy="97.1" r="1.5" fill="#6aa46c" stroke="#3e7442" stroke-width="0.4"/>
<circle cx="586.1" cy="131.9" r="1.5" fill="#454c98" stroke="#2a2e66" stroke-width="0.4"/>
<circle cx="550.2" cy="175.0" r="1.5" fill="#6aa46c" stroke="#3e7442" stroke-width="0.4"/>
<circle cx="569.4" cy="144.4" r="1.5" fill="#454c98" stroke="#2a2e66" stroke-width="0.4"/>
<circle cx="593.2" cy="130.6" r="1.5" fill="#454c98" stroke="#2a2e66" stroke-width="0.4"/>
<circle cx="615.5" cy="158.6" r="1.5" fill="#454c98" stroke="#2a2e66" stroke-width="0.4"/>
<circle cx="554.2" cy="163.3" r="1.5" fill="#6aa46c" stroke="#3e7442" stroke-width="0.4"/>
<circle cx="580.5" cy="125.7" r="1.5" fill="#6aa46c" stroke="#3e7442" stroke-width="0.4"/>
<circle cx="562.9" cy="101.0" r="1.5" fill="#6aa46c" stroke="#3e7442" stroke-width="0.4"/>
<circle cx="591.8" cy="119.9" r="1.5" fill="#6aa46c" stroke="#3e7442" stroke-width="0.4"/>
<circle cx="595.0" cy="185.7" r="1.5" fill="#c85046" stroke="#963030" stroke-width="0.4"/>
<circle cx="570.7" cy="171.4" r="1.5" fill="#454c98" stroke="#2a2e66" stroke-width="0.4"/>
<circle cx="607.0" cy="114.3" r="1.5" fill="#c85046" stroke="#963030" stroke-width="0.4"/>
<circle cx="573.0" cy="150.6" r="1.5" fill="#454c98" stroke="#2a2e66" stroke-width="0.4"/>
<circle cx="595.3" cy="142.5" r="1.5" fill="#c85046" stroke="#963030" stroke-width="0.4"/>
<circle cx="602.8" cy="149.5" r="1.5" fill="#c85046" stroke="#963030" stroke-width="0.4"/>
<circle cx="632.6" cy="138.5" r="1.5" fill="#454c98" stroke="#2a2e66" stroke-width="0.4"/>
<circle cx="609.4" cy="144.9" r="1.5" fill="#454c98" stroke="#2a2e66" stroke-width="0.4"/>
<circle cx="610.6" cy="99.6" r="1.5" fill="#c85046" stroke="#963030" stroke-width="0.4"/>
<circle cx="590.8" cy="77.2" r="1.5" fill="#c85046" stroke="#963030" stroke-width="0.4"/>
<circle cx="579.4" cy="138.1" r="1.5" fill="#c85046" stroke="#963030" stroke-width="0.4"/>
<circle cx="561.6" cy="147.6" r="1.5" fill="#454c98" stroke="#2a2e66" stroke-width="0.4"/>
<circle cx="577.3" cy="105.5" r="1.5" fill="#454c98" stroke="#2a2e66" stroke-width="0.4"/>
<circle cx="579.9" cy="148.5" r="1.5" fill="#6aa46c" stroke="#3e7442" stroke-width="0.4"/>
<circle cx="572.3" cy="147.3" r="1.5" fill="#454c98" stroke="#2a2e66" stroke-width="0.4"/>
<circle cx="589.4" cy="109.0" r="1.5" fill="#6aa46c" stroke="#3e7442" stroke-width="0.4"/>
<circle cx="552.2" cy="144.2" r="1.5" fill="#6aa46c" stroke="#3e7442" stroke-width="0.4"/>
<circle cx="599.0" cy="148.1" r="1.5" fill="#454c98" stroke="#2a2e66" stroke-width="0.4"/>
<circle cx="592.8" cy="162.2" r="1.5" fill="#c85046" stroke="#963030" stroke-width="0.4"/>
<circle cx="538.4" cy="111.0" r="1.5" fill="#6aa46c" stroke="#3e7442" stroke-width="0.4"/>
<circle cx="578.4" cy="130.0" r="1.5" fill="#6aa46c" stroke="#3e7442" stroke-width="0.4"/>
<circle cx="593.6" cy="167.5" r="1.5" fill="#454c98" stroke="#2a2e66" stroke-width="0.4"/>
<circle cx="561.5" cy="199.1" r="1.5" fill="#454c98" stroke="#2a2e66" stroke-width="0.4"/>
<circle cx="551.0" cy="119.1" r="1.5" fill="#6aa46c" stroke="#3e7442" stroke-width="0.4"/>
<circle cx="584.8" cy="149.3" r="1.5" fill="#454c98" stroke="#2a2e66" stroke-width="0.4"/>
<circle cx="603.3" cy="116.1" r="1.5" fill="#c85046" stroke="#963030" stroke-width="0.4"/>
<circle cx="594.9" cy="159.2" r="1.5" fill="#6aa46c" stroke="#3e7442" stroke-width="0.4"/>
<circle cx="500.2" cy="72.6" r="1.5" fill="#6aa46c" stroke="#3e7442" stroke-width="0.4"/>
<circle cx="559.1" cy="177.7" r="1.5" fill="#454c98" stroke="#2a2e66" stroke-width="0.4"/>
<circle cx="585.8" cy="128.4" r="1.5" fill="#c85046" stroke="#963030" stroke-width="0.4"/>
<circle cx="556.2" cy="90.9" r="1.5" fill="#6aa46c" stroke="#3e7442" stroke-width="0.4"/>
<circle cx="571.0" cy="147.8" r="1.5" fill="#6aa46c" stroke="#3e7442" stroke-width="0.4"/>
<circle cx="636.0" cy="147.2" r="1.5" fill="#454c98" stroke="#2a2e66" stroke-width="0.4"/>
<circle cx="553.4" cy="136.2" r="1.5" fill="#454c98" stroke="#2a2e66" stroke-width="0.4"/>
<circle cx="652.2" cy="116.7" r="1.5" fill="#6aa46c" stroke="#3e7442" stroke-width="0.4"/>
<circle cx="576.5" cy="151.2" r="1.5" fill="#454c98" stroke="#2a2e66" stroke-width="0.4"/>
<circle cx="587.8" cy="138.2" r="1.5" fill="#c85046" stroke="#963030" stroke-width="0.4"/>
<circle cx="625.9" cy="160.2" r="1.5" fill="#6aa46c" stroke="#3e7442" stroke-width="0.4"/>
<circle cx="585.9" cy="139.7" r="1.5" fill="#6aa46c" stroke="#3e7442" stroke-width="0.4"/>
<circle cx="575.7" cy="139.3" r="1.5" fill="#454c98" stroke="#2a2e66" stroke-width="0.4"/>
<circle cx="629.9" cy="119.2" r="1.5" fill="#c85046" stroke="#963030" stroke-width="0.4"/>
<circle cx="541.0" cy="62.7" r="1.5" fill="#c85046" stroke="#963030" stroke-width="0.4"/>
<circle cx="563.5" cy="139.5" r="1.5" fill="#c85046" stroke="#963030" stroke-width="0.4"/>
<circle cx="612.7" cy="131.8" r="1.5" fill="#454c98" stroke="#2a2e66" stroke-width="0.4"/>
<circle cx="580.4" cy="133.7" r="1.5" fill="#6aa46c" stroke="#3e7442" stroke-width="0.4"/>
<circle cx="629.0" cy="149.0" r="1.5" fill="#c85046" stroke="#963030" stroke-width="0.4"/>
<circle cx="592.0" cy="149.3" r="1.5" fill="#6aa46c" stroke="#3e7442" stroke-width="0.4"/>
<circle cx="596.3" cy="146.7" r="1.5" fill="#454c98" stroke="#2a2e66" stroke-width="0.4"/>
<circle cx="596.4" cy="125.2" r="1.5" fill="#6aa46c" stroke="#3e7442" stroke-width="0.4"/>
<circle cx="630.3" cy="92.7" r="1.5" fill="#c85046" stroke="#963030" stroke-width="0.4"/>
<circle cx="598.1" cy="129.7" r="1.5" fill="#c85046" stroke="#963030" stroke-width="0.4"/>
<circle cx="572.0" cy="102.5" r="1.5" fill="#c85046" stroke="#963030" stroke-width="0.4"/>
<circle cx="572.7" cy="155.2" r="1.5" fill="#6aa46c" stroke="#3e7442" stroke-width="0.4"/>
<circle cx="597.9" cy="89.5" r="1.5" fill="#454c98" stroke="#2a2e66" stroke-width="0.4"/>
<circle cx="605.4" cy="117.2" r="1.5" fill="#c85046" stroke="#963030" stroke-width="0.4"/>
<circle cx="603.6" cy="185.6" r="1.5" fill="#454c98" stroke="#2a2e66" stroke-width="0.4"/>
<circle cx="576.1" cy="115.8" r="1.5" fill="#6aa46c" stroke="#3e7442" stroke-width="0.4"/>
<circle cx="590.0" cy="115.0" r="1.5" fill="#c85046" stroke="#963030" stroke-width="0.4"/>
<circle cx="577.4" cy="163.0" r="1.5" fill="#454c98" stroke="#2a2e66" stroke-width="0.4"/>
<circle cx="576.5" cy="102.4" r="1.5" fill="#6aa46c" stroke="#3e7442" stroke-width="0.4"/>
<circle cx="610.9" cy="129.8" r="1.5" fill="#454c98" stroke="#2a2e66" stroke-width="0.4"/>
<circle cx="575.0" cy="172.5" r="1.5" fill="#454c98" stroke="#2a2e66" stroke-width="0.4"/>
<circle cx="587.4" cy="116.0" r="1.5" fill="#454c98" stroke="#2a2e66" stroke-width="0.4"/>
<circle cx="597.5" cy="119.2" r="1.5" fill="#c85046" stroke="#963030" stroke-width="0.4"/>
<circle cx="574.5" cy="148.8" r="1.5" fill="#454c98" stroke="#2a2e66" stroke-width="0.4"/>
<circle cx="629.6" cy="134.5" r="1.5" fill="#c85046" stroke="#963030" stroke-width="0.4"/>
<circle cx="578.7" cy="136.5" r="1.5" fill="#6aa46c" stroke="#3e7442" stroke-width="0.4"/>
<circle cx="590.6" cy="121.1" r="1.5" fill="#c85046" stroke="#963030" stroke-width="0.4"/>
<circle cx="524.2" cy="128.8" r="1.5" fill="#c85046" stroke="#963030" stroke-width="0.4"/>
<circle cx="634.8" cy="114.6" r="1.5" fill="#454c98" stroke="#2a2e66" stroke-width="0.4"/>
<circle cx="544.5" cy="187.5" r="1.5" fill="#6aa46c" stroke="#3e7442" stroke-width="0.4"/>
<circle cx="585.3" cy="116.4" r="1.5" fill="#c85046" stroke="#963030" stroke-width="0.4"/>
<circle cx="552.7" cy="148.6" r="1.5" fill="#6aa46c" stroke="#3e7442" stroke-width="0.4"/>
<circle cx="563.5" cy="136.9" r="1.5" fill="#6aa46c" stroke="#3e7442" stroke-width="0.4"/>
<circle cx="554.4" cy="154.0" r="1.5" fill="#6aa46c" stroke="#3e7442" stroke-width="0.4"/>
<circle cx="535.0" cy="164.9" r="1.5" fill="#6aa46c" stroke="#3e7442" stroke-width="0.4"/>
<circle cx="633.9" cy="141.3" r="1.5" fill="#c85046" stroke="#963030" stroke-width="0.4"/>
<circle cx="595.4" cy="193.1" r="1.5" fill="#454c98" stroke="#2a2e66" stroke-width="0.4"/>
<circle cx="586.4" cy="121.5" r="1.5" fill="#6aa46c" stroke="#3e7442" stroke-width="0.4"/>
<circle cx="574.0" cy="119.4" r="1.5" fill="#c85046" stroke="#963030" stroke-width="0.4"/>
<circle cx="542.3" cy="105.8" r="1.5" fill="#6aa46c" stroke="#3e7442" stroke-width="0.4"/>
<circle cx="582.7" cy="126.3" r="1.5" fill="#454c98" stroke="#2a2e66" stroke-width="0.4"/>
<circle cx="594.3" cy="71.5" r="1.5" fill="#454c98" stroke="#2a2e66" stroke-width="0.4"/>
<circle cx="601.7" cy="81.9" r="1.5" fill="#c85046" stroke="#963030" stroke-width="0.4"/>
<circle cx="570.9" cy="83.9" r="1.5" fill="#6aa46c" stroke="#3e7442" stroke-width="0.4"/>
<circle cx="566.0" cy="118.8" r="1.5" fill="#c85046" stroke="#963030" stroke-width="0.4"/>
<circle cx="606.9" cy="177.3" r="1.5" fill="#c85046" stroke="#963030" stroke-width="0.4"/>
<circle cx="526.3" cy="132.2" r="1.5" fill="#c85046" stroke="#963030" stroke-width="0.4"/>
<circle cx="574.1" cy="141.6" r="1.5" fill="#454c98" stroke="#2a2e66" stroke-width="0.4"/>
<circle cx="561.1" cy="134.1" r="1.5" fill="#454c98" stroke="#2a2e66" stroke-width="0.4"/>
<circle cx="598.2" cy="135.1" r="1.5" fill="#6aa46c" stroke="#3e7442" stroke-width="0.4"/>
<circle cx="614.3" cy="85.0" r="1.5" fill="#c85046" stroke="#963030" stroke-width="0.4"/>
<circle cx="573.8" cy="129.6" r="1.5" fill="#c85046" stroke="#963030" stroke-width="0.4"/>
<circle cx="624.3" cy="132.7" r="1.5" fill="#c85046" stroke="#963030" stroke-width="0.4"/>
<circle cx="593.4" cy="110.4" r="1.5" fill="#c85046" stroke="#963030" stroke-width="0.4"/>
<circle cx="570.9" cy="106.5" r="1.5" fill="#6aa46c" stroke="#3e7442" stroke-width="0.4"/>
<circle cx="579.3" cy="91.4" r="1.5" fill="#c85046" stroke="#963030" stroke-width="0.4"/>
<circle cx="583.6" cy="63.6" r="1.5" fill="#6aa46c" stroke="#3e7442" stroke-width="0.4"/>
<circle cx="646.5" cy="141.0" r="1.5" fill="#c85046" stroke="#963030" stroke-width="0.4"/>
<circle cx="627.3" cy="95.8" r="1.5" fill="#c85046" stroke="#963030" stroke-width="0.4"/>
<circle cx="536.7" cy="140.6" r="1.5" fill="#6aa46c" stroke="#3e7442" stroke-width="0.4"/>
<circle cx="594.3" cy="140.5" r="1.5" fill="#454c98" stroke="#2a2e66" stroke-width="0.4"/>
<circle cx="593.9" cy="121.4" r="1.5" fill="#454c98" stroke="#2a2e66" stroke-width="0.4"/>
<circle cx="529.7" cy="172.4" r="1.5" fill="#6aa46c" stroke="#3e7442" stroke-width="0.4"/>
<circle cx="562.2" cy="142.6" r="1.5" fill="#454c98" stroke="#2a2e66" stroke-width="0.4"/>
<circle cx="631.3" cy="86.4" r="1.5" fill="#c85046" stroke="#963030" stroke-width="0.4"/>
<circle cx="600.2" cy="144.0" r="1.5" fill="#c85046" stroke="#963030" stroke-width="0.4"/>
<circle cx="550.6" cy="54.4" r="1.5" fill="#c85046" stroke="#963030" stroke-width="0.4"/>
<circle cx="636.6" cy="159.3" r="1.5" fill="#c85046" stroke="#963030" stroke-width="0.4"/>
<circle cx="521.1" cy="120.6" r="1.5" fill="#6aa46c" stroke="#3e7442" stroke-width="0.4"/>
<circle cx="605.1" cy="109.1" r="1.5" fill="#6aa46c" stroke="#3e7442" stroke-width="0.4"/>
<circle cx="584.4" cy="137.9" r="1.5" fill="#454c98" stroke="#2a2e66" stroke-width="0.4"/>
<circle cx="634.3" cy="129.3" r="1.5" fill="#454c98" stroke="#2a2e66" stroke-width="0.4"/>
<circle cx="636.0" cy="152.8" r="1.5" fill="#454c98" stroke="#2a2e66" stroke-width="0.4"/>
<circle cx="592.9" cy="132.6" r="1.5" fill="#454c98" stroke="#2a2e66" stroke-width="0.4"/>
<circle cx="614.3" cy="178.5" r="1.5" fill="#454c98" stroke="#2a2e66" stroke-width="0.4"/>
<circle cx="604.0" cy="172.9" r="1.5" fill="#c85046" stroke="#963030" stroke-width="0.4"/>
<circle cx="543.6" cy="110.5" r="1.5" fill="#c85046" stroke="#963030" stroke-width="0.4"/>
<circle cx="621.3" cy="69.7" r="1.5" fill="#6aa46c" stroke="#3e7442" stroke-width="0.4"/>
<circle cx="525.9" cy="164.9" r="1.5" fill="#6aa46c" stroke="#3e7442" stroke-width="0.4"/>
<circle cx="622.4" cy="132.7" r="1.5" fill="#454c98" stroke="#2a2e66" stroke-width="0.4"/>
<circle cx="604.8" cy="155.1" r="1.5" fill="#c85046" stroke="#963030" stroke-width="0.4"/>
<circle cx="532.9" cy="132.2" r="1.5" fill="#6aa46c" stroke="#3e7442" stroke-width="0.4"/>
<circle cx="586.3" cy="150.1" r="1.5" fill="#c85046" stroke="#963030" stroke-width="0.4"/>
<circle cx="550.9" cy="93.3" r="1.5" fill="#6aa46c" stroke="#3e7442" stroke-width="0.4"/>
<circle cx="600.4" cy="185.0" r="1.5" fill="#454c98" stroke="#2a2e66" stroke-width="0.4"/>
<circle cx="542.3" cy="98.0" r="1.5" fill="#6aa46c" stroke="#3e7442" stroke-width="0.4"/>
<circle cx="593.9" cy="125.0" r="1.5" fill="#c85046" stroke="#963030" stroke-width="0.4"/>
<circle cx="579.7" cy="96.6" r="1.5" fill="#6aa46c" stroke="#3e7442" stroke-width="0.4"/>
<circle cx="585.9" cy="107.7" r="1.5" fill="#454c98" stroke="#2a2e66" stroke-width="0.4"/>
<circle cx="610.6" cy="139.5" r="1.5" fill="#c85046" stroke="#963030" stroke-width="0.4"/>
<circle cx="591.1" cy="125.7" r="1.5" fill="#454c98" stroke="#2a2e66" stroke-width="0.4"/>
<circle cx="589.8" cy="143.9" r="1.5" fill="#c85046" stroke="#963030" stroke-width="0.4"/>
<circle cx="610.1" cy="158.0" r="1.5" fill="#454c98" stroke="#2a2e66" stroke-width="0.4"/>
<circle cx="637.8" cy="126.3" r="1.5" fill="#454c98" stroke="#2a2e66" stroke-width="0.4"/>
<circle cx="603.8" cy="107.5" r="1.5" fill="#454c98" stroke="#2a2e66" stroke-width="0.4"/>
<circle cx="604.4" cy="125.2" r="1.5" fill="#c85046" stroke="#963030" stroke-width="0.4"/>
<circle cx="606.5" cy="117.3" r="1.5" fill="#c85046" stroke="#963030" stroke-width="0.4"/>
<circle cx="624.1" cy="171.5" r="1.5" fill="#c85046" stroke="#963030" stroke-width="0.4"/>
<circle cx="621.5" cy="129.1" r="1.5" fill="#c85046" stroke="#963030" stroke-width="0.4"/>
<circle cx="608.0" cy="125.1" r="1.5" fill="#c85046" stroke="#963030" stroke-width="0.4"/>
<circle cx="589.6" cy="56.7" r="1.5" fill="#6aa46c" stroke="#3e7442" stroke-width="0.4"/>
<circle cx="587.0" cy="158.3" r="1.5" fill="#454c98" stroke="#2a2e66" stroke-width="0.4"/>
<circle cx="595.7" cy="162.2" r="1.5" fill="#c85046" stroke="#963030" stroke-width="0.4"/>
<circle cx="578.8" cy="118.4" r="1.5" fill="#454c98" stroke="#2a2e66" stroke-width="0.4"/>
<circle cx="574.5" cy="129.9" r="1.5" fill="#454c98" stroke="#2a2e66" stroke-width="0.4"/>
<circle cx="556.9" cy="127.5" r="1.5" fill="#6aa46c" stroke="#3e7442" stroke-width="0.4"/>
<circle cx="607.7" cy="108.4" r="1.5" fill="#c85046" stroke="#963030" stroke-width="0.4"/>
<circle cx="572.5" cy="127.3" r="1.5" fill="#454c98" stroke="#2a2e66" stroke-width="0.4"/>
<circle cx="604.3" cy="172.2" r="1.5" fill="#6aa46c" stroke="#3e7442" stroke-width="0.4"/>
<circle cx="582.2" cy="114.1" r="1.5" fill="#454c98" stroke="#2a2e66" stroke-width="0.4"/>
<circle cx="561.6" cy="149.3" r="1.5" fill="#454c98" stroke="#2a2e66" stroke-width="0.4"/>
<circle cx="601.6" cy="153.2" r="1.5" fill="#c85046" stroke="#963030" stroke-width="0.4"/>
<circle cx="631.3" cy="104.0" r="1.5" fill="#454c98" stroke="#2a2e66" stroke-width="0.4"/>
<circle cx="577.5" cy="95.4" r="1.5" fill="#6aa46c" stroke="#3e7442" stroke-width="0.4"/>
<circle cx="614.6" cy="93.3" r="1.5" fill="#454c98" stroke="#2a2e66" stroke-width="0.4"/>
<circle cx="591.3" cy="155.6" r="1.5" fill="#c85046" stroke="#963030" stroke-width="0.4"/>
<circle cx="575.6" cy="128.9" r="1.5" fill="#6aa46c" stroke="#3e7442" stroke-width="0.4"/>
<circle cx="533.6" cy="85.9" r="1.5" fill="#6aa46c" stroke="#3e7442" stroke-width="0.4"/>
<circle cx="555.8" cy="97.0" r="1.5" fill="#c85046" stroke="#963030" stroke-width="0.4"/>
<circle cx="594.9" cy="181.0" r="1.5" fill="#6aa46c" stroke="#3e7442" stroke-width="0.4"/>
<circle cx="561.3" cy="126.2" r="1.5" fill="#c85046" stroke="#963030" stroke-width="0.4"/>
<circle cx="598.4" cy="146.7" r="1.5" fill="#454c98" stroke="#2a2e66" stroke-width="0.4"/>
<circle cx="582.1" cy="124.6" r="1.5" fill="#454c98" stroke="#2a2e66" stroke-width="0.4"/>
<circle cx="589.8" cy="87.8" r="1.5" fill="#454c98" stroke="#2a2e66" stroke-width="0.4"/>
<circle cx="527.1" cy="123.2" r="1.5" fill="#6aa46c" stroke="#3e7442" stroke-width="0.4"/>
<circle cx="597.9" cy="182.1" r="1.5" fill="#454c98" stroke="#2a2e66" stroke-width="0.4"/>
<circle cx="559.3" cy="54.9" r="1.5" fill="#c85046" stroke="#963030" stroke-width="0.4"/>
<circle cx="624.7" cy="102.1" r="1.5" fill="#c85046" stroke="#963030" stroke-width="0.4"/>
<circle cx="628.5" cy="106.7" r="1.5" fill="#c85046" stroke="#963030" stroke-width="0.4"/>
<circle cx="620.3" cy="134.6" r="1.5" fill="#c85046" stroke="#963030" stroke-width="0.4"/>
<circle cx="574.2" cy="175.2" r="1.5" fill="#454c98" stroke="#2a2e66" stroke-width="0.4"/>
<circle cx="596.3" cy="147.7" r="1.5" fill="#454c98" stroke="#2a2e66" stroke-width="0.4"/>
<circle cx="530.1" cy="84.1" r="1.5" fill="#c85046" stroke="#963030" stroke-width="0.4"/>
<circle cx="555.1" cy="159.9" r="1.5" fill="#454c98" stroke="#2a2e66" stroke-width="0.4"/>
<circle cx="592.9" cy="170.4" r="1.5" fill="#c85046" stroke="#963030" stroke-width="0.4"/>
<circle cx="602.4" cy="124.3" r="1.5" fill="#454c98" stroke="#2a2e66" stroke-width="0.4"/>
<circle cx="572.5" cy="111.4" r="1.5" fill="#c85046" stroke="#963030" stroke-width="0.4"/>
<circle cx="618.3" cy="141.7" r="1.5" fill="#6aa46c" stroke="#3e7442" stroke-width="0.4"/>
<circle cx="571.8" cy="174.9" r="1.5" fill="#c85046" stroke="#963030" stroke-width="0.4"/>
<circle cx="617.0" cy="171.1" r="1.5" fill="#454c98" stroke="#2a2e66" stroke-width="0.4"/>
<circle cx="641.8" cy="116.3" r="1.5" fill="#c85046" stroke="#963030" stroke-width="0.4"/>
<circle cx="604.7" cy="179.1" r="1.5" fill="#454c98" stroke="#2a2e66" stroke-width="0.4"/>
<circle cx="597.1" cy="136.5" r="1.5" fill="#454c98" stroke="#2a2e66" stroke-width="0.4"/>
<circle cx="592.0" cy="143.5" r="1.5" fill="#c85046" stroke="#963030" stroke-width="0.4"/>
<circle cx="621.0" cy="152.3" r="1.5" fill="#454c98" stroke="#2a2e66" stroke-width="0.4"/>
<circle cx="575.4" cy="128.7" r="1.5" fill="#6aa46c" stroke="#3e7442" stroke-width="0.4"/>
<circle cx="659.0" cy="132.4" r="1.5" fill="#c85046" stroke="#963030" stroke-width="0.4"/>
<circle cx="533.2" cy="134.5" r="1.5" fill="#6aa46c" stroke="#3e7442" stroke-width="0.4"/>
<circle cx="632.8" cy="155.0" r="1.5" fill="#c85046" stroke="#963030" stroke-width="0.4"/>
<circle cx="577.8" cy="159.2" r="1.5" fill="#454c98" stroke="#2a2e66" stroke-width="0.4"/>
<circle cx="547.2" cy="133.7" r="1.5" fill="#6aa46c" stroke="#3e7442" stroke-width="0.4"/>
<circle cx="574.6" cy="146.2" r="1.5" fill="#c85046" stroke="#963030" stroke-width="0.4"/>
<circle cx="546.6" cy="201.4" r="1.5" fill="#454c98" stroke="#2a2e66" stroke-width="0.4"/>
<circle cx="576.4" cy="128.4" r="1.5" fill="#6aa46c" stroke="#3e7442" stroke-width="0.4"/>
<circle cx="601.8" cy="128.1" r="1.5" fill="#454c98" stroke="#2a2e66" stroke-width="0.4"/>
<circle cx="624.7" cy="158.0" r="1.5" fill="#454c98" stroke="#2a2e66" stroke-width="0.4"/>
<circle cx="608.2" cy="128.9" r="1.5" fill="#454c98" stroke="#2a2e66" stroke-width="0.4"/>
<circle cx="598.4" cy="93.3" r="1.5" fill="#c85046" stroke="#963030" stroke-width="0.4"/>
<circle cx="580.0" cy="96.6" r="1.5" fill="#6aa46c" stroke="#3e7442" stroke-width="0.4"/>
<circle cx="570.7" cy="119.0" r="1.5" fill="#454c98" stroke="#2a2e66" stroke-width="0.4"/>
<circle cx="561.4" cy="189.6" r="1.5" fill="#454c98" stroke="#2a2e66" stroke-width="0.4"/>
<circle cx="614.2" cy="134.1" r="1.5" fill="#454c98" stroke="#2a2e66" stroke-width="0.4"/>
<circle cx="570.2" cy="156.2" r="1.5" fill="#c85046" stroke="#963030" stroke-width="0.4"/>
<circle cx="629.1" cy="142.0" r="1.5" fill="#c85046" stroke="#963030" stroke-width="0.4"/>
<circle cx="538.1" cy="102.4" r="1.5" fill="#6aa46c" stroke="#3e7442" stroke-width="0.4"/>
<circle cx="529.7" cy="64.1" r="1.5" fill="#6aa46c" stroke="#3e7442" stroke-width="0.4"/>
<circle cx="621.6" cy="169.5" r="1.5" fill="#c85046" stroke="#963030" stroke-width="0.4"/>
<circle cx="580.2" cy="111.1" r="1.5" fill="#454c98" stroke="#2a2e66" stroke-width="0.4"/>
<circle cx="631.6" cy="141.0" r="1.5" fill="#454c98" stroke="#2a2e66" stroke-width="0.4"/>
<circle cx="517.2" cy="127.6" r="1.5" fill="#6aa46c" stroke="#3e7442" stroke-width="0.4"/>
<circle cx="581.5" cy="191.3" r="1.5" fill="#454c98" stroke="#2a2e66" stroke-width="0.4"/>
<circle cx="584.4" cy="115.4" r="1.5" fill="#454c98" stroke="#2a2e66" stroke-width="0.4"/>
<circle cx="583.3" cy="166.6" r="1.5" fill="#454c98" stroke="#2a2e66" stroke-width="0.4"/>
<circle cx="591.8" cy="110.3" r="1.5" fill="#c85046" stroke="#963030" stroke-width="0.4"/>
<circle cx="596.3" cy="165.8" r="1.5" fill="#454c98" stroke="#2a2e66" stroke-width="0.4"/>
<circle cx="575.1" cy="154.1" r="1.5" fill="#454c98" stroke="#2a2e66" stroke-width="0.4"/>
<circle cx="524.9" cy="93.1" r="1.5" fill="#6aa46c" stroke="#3e7442" stroke-width="0.4"/>
<circle cx="588.1" cy="151.3" r="1.5" fill="#6aa46c" stroke="#3e7442" stroke-width="0.4"/>
<circle cx="612.6" cy="154.1" r="1.5" fill="#c85046" stroke="#963030" stroke-width="0.4"/>
<circle cx="591.1" cy="115.0" r="1.5" fill="#c85046" stroke="#963030" stroke-width="0.4"/>
<circle cx="566.0" cy="157.0" r="1.5" fill="#6aa46c" stroke="#3e7442" stroke-width="0.4"/>
<circle cx="555.9" cy="110.4" r="1.5" fill="#6aa46c" stroke="#3e7442" stroke-width="0.4"/>
<circle cx="534.1" cy="97.5" r="1.5" fill="#c85046" stroke="#963030" stroke-width="0.4"/>
<circle cx="623.2" cy="168.2" r="1.5" fill="#454c98" stroke="#2a2e66" stroke-width="0.4"/>
<circle cx="605.6" cy="79.0" r="1.5" fill="#c85046" stroke="#963030" stroke-width="0.4"/>
<circle cx="520.2" cy="85.0" r="1.5" fill="#6aa46c" stroke="#3e7442" stroke-width="0.4"/>
<circle cx="579.6" cy="82.4" r="1.5" fill="#6aa46c" stroke="#3e7442" stroke-width="0.4"/>
<ellipse cx="592.3" cy="125.7" rx="56.0" ry="66.3" transform="rotate(-24.6 592.3 125.7)" fill="#F87A64" fill-opacity="0.19"/>
<ellipse cx="566.9" cy="129.1" rx="56.0" ry="63.9" transform="rotate(11.5 566.9 129.1)" fill="#00BA38" fill-opacity="0.15"/>
<ellipse cx="587.0" cy="142.5" rx="43.0" ry="60.3" transform="rotate(26.8 587.0 142.5)" fill="#619CFF" fill-opacity="0.13"/>
</g>
<rect x="495.4" y="28.5" width="175.30" height="180.00" fill="none" stroke="#111" stroke-width="1.6"/>
<clipPath id="clipd"><rect x="38.0" y="300.5" width="177.1" height="179.2"/></clipPath>
<g clip-path="url(#clipd)">
<circle cx="111.5" cy="412.4" r="1.5" fill="#1a1aa8" stroke="#10107a" stroke-width="0.4"/>
<circle cx="81.9" cy="364.9" r="1.5" fill="#2aa832" stroke="#1c7a22" stroke-width="0.4"/>
<circle cx="115.7" cy="439.5" r="1.5" fill="#1a1aa8" stroke="#10107a" stroke-width="0.4"/>
<circle cx="105.1" cy="313.0" r="1.5" fill="#1a1aa8" stroke="#10107a" stroke-width="0.4"/>
<circle cx="139.0" cy="382.2" r="1.5" fill="#b01c1c" stroke="#801414" stroke-width="0.4"/>
<circle cx="114.0" cy="369.1" r="1.5" fill="#2aa832" stroke="#1c7a22" stroke-width="0.4"/>
<circle cx="107.8" cy="400.7" r="1.5" fill="#1a1aa8" stroke="#10107a" stroke-width="0.4"/>
<circle cx="100.9" cy="408.1" r="1.5" fill="#b01c1c" stroke="#801414" stroke-width="0.4"/>
<circle cx="148.5" cy="379.6" r="1.5" fill="#1a1aa8" stroke="#10107a" stroke-width="0.4"/>
<circle cx="107.9" cy="376.4" r="1.5" fill="#1a1aa8" stroke="#10107a" stroke-width="0.4"/>
<circle cx="95.7" cy="399.8" r="1.5" fill="#2aa832" stroke="#1c7a22" stroke-width="0.4"/>
<circle cx="69.3" cy="403.5" r="1.5" fill="#b01c1c" stroke="#801414" stroke-width="0.4"/>
<circle cx="133.0" cy="398.4" r="1.5" fill="#b01c1c" stroke="#801414" stroke-width="0.4"/>
<circle cx="108.9" cy="372.2" r="1.5" fill="#2aa832" stroke="#1c7a22" stroke-width="0.4"/>
<circle cx="110.4" cy="383.3" r="1.5" fill="#2aa832" stroke="#1c7a22" stroke-width="0.4"/>
<circle cx="81.7" cy="418.1" r="1.5" fill="#2aa832" stroke="#1c7a22" stroke-width="0.4"/>
<circle cx="119.2" cy="405.2" r="1.5" fill="#2aa832" stroke="#1c7a22" stroke-width="0.4"/>
<circle cx="102.6" cy="410.2" r="1.5" fill="#b01c1c" stroke="#801414" stroke-width="0.4"/>
<circle cx="78.3" cy="303.8" r="1.5" fill="#1a1aa8" stroke="#10107a" stroke-width="0.4"/>
<circle cx="91.2" cy="393.8" r="1.5" fill="#2aa832" stroke="#1c7a22" stroke-width="0.4"/>
<circle cx="91.1" cy="373.9" r="1.5" fill="#1a1aa8" stroke="#10107a" stroke-width="0.4"/>
<circle cx="120.8" cy="389.2" r="1.5" fill="#1a1aa8" stroke="#10107a" stroke-width="0.4"/>
<circle cx="117.0" cy="351.5" r="1.5" fill="#2aa832" stroke="#1c7a22" stroke-width="0.4"/>
<circle cx="113.2" cy="388.8" r="1.5" fill="#b01c1c" stroke="#801414" stroke-width="0.4"/>
<circle cx="84.6" cy="384.9" r="1.5" fill="#1a1aa8" stroke="#10107a" stroke-width="0.4"/>
<circle cx="97.9" cy="402.1" r="1.5" fill="#2aa832" stroke="#1c7a22" stroke-width="0.4"/>
<circle cx="63.7" cy="418.7" r="1.5" fill="#b01c1c" stroke="#801414" stroke-width="0.4"/>
<circle cx="141.6" cy="372.6" r="1.5" fill="#1a1aa8" stroke="#10107a" stroke-width="0.4"/>
<circle cx="111.9" cy="343.8" r="1.5" fill="#1a1aa8" stroke="#10107a" stroke-width="0.4"/>
<circle cx="92.3" cy="382.8" r="1.5" fill="#2aa832" stroke="#1c7a22" stroke-width="0.4"/>
<circle cx="127.6" cy="419.8" r="1.5" fill="#2aa832" stroke="#1c7a22" stroke-width="0.4"/>
<circle cx="86.6" cy="380.6" r="1.5" fill="#1a1aa8" stroke="#10107a" stroke-width="0.4"/>
<circle cx="67.2" cy="407.9" r="1.5" fill="#b01c1c" stroke="#801414" stroke-width="0.4"/>
<circle cx="104.8" cy="401.6" r="1.5" fill="#2aa832" stroke="#1c7a22" stroke-width="0.4"/>
<circle cx="85.1" cy="351.4" r="1.5" fill="#b01c1c" stroke="#801414" stroke-width="0.4"/>
<circle cx="150.4" cy="364.5" r="1.5" fill="#1a1aa8" stroke="#10107a" stroke-width="0.4"/>
<circle cx="88.2" cy="369.5" r="1.5" fill="#2aa832" stroke="#1c7a22" stroke-width="0.4"/>
<circle cx="147.7" cy="394.0" r="1.5" fill="#2aa832" stroke="#1c7a22" stroke-width="0.4"/>
<circle cx="139.3" cy="417.3" r="1.5" fill="#1a1aa8" stroke="#10107a" stroke-width="0.4"/>
<circle cx="120.5" cy="410.8" r="1.5" fill="#b01c1c" stroke="#801414" stroke-width="0.4"/>
<circle cx="120.0" cy="454.6" r="1.5" fill="#b01c1c" stroke="#801414" stroke-width="0.4"/>
<circle cx="77.0" cy="353.6" r="1.5" fill="#1a1aa8" stroke="#10107a" stroke-width="0.4"/>
<circle cx="113.2" cy="352.6" r="1.5" fill="#b01c1c" stroke="#801414" stroke-width="0.4"/>
<circle cx="93.4" cy="368.4" r="1.5" fill="#1a1aa8" stroke="#10107a" stroke-width="0.4"/>
<circle cx="111.2" cy="347.5" r="1.5" fill="#1a1aa8" stroke="#10107a" stroke-width="0.4"/>
<circle cx="117.6" cy="457.4" r="1.5" fill="#b01c1c" stroke="#801414" stroke-width="0.4"/>
<circle cx="109.6" cy="367.5" r="1.5" fill="#1a1aa8" stroke="#10107a" stroke-width="0.4"/>
<circle cx="71.4" cy="332.7" r="1.5" fill="#1a1aa8" stroke="#10107a" stroke-width="0.4"/>
<circle cx="174.1" cy="379.0" r="1.5" fill="#2aa832" stroke="#1c7a22" stroke-width="0.4"/>
<circle cx="131.7" cy="392.7" r="1.5" fill="#b01c1c" stroke="#801414" stroke-width="0.4"/>
<circle cx="99.9" cy="426.9" r="1.5" fill="#b01c1c" stroke="#801414" stroke-width="0.4"/>
<circle cx="68.9" cy="459.1" r="1.5" fill="#b01c1c" stroke="#801414" stroke-width="0.4"/>
<circle cx="101.9" cy="403.2" r="1.5" fill="#2aa832" stroke="#1c7a22" stroke-width="0.4"/>
<circle cx="105.9" cy="350.0" r="1.5" fill="#1a1aa8" stroke="#10107a" stroke-width="0.4"/>
<circle cx="95.7" cy="377.7" r="1.5" fill="#2aa832" stroke="#1c7a22" stroke-width="0.4"/>
<circle cx="80.3" cy="388.3" r="1.5" fill="#1a1aa8" stroke="#10107a" stroke-width="0.4"/>
<circle cx="104.4" cy="401.9" r="1.5" fill="#1a1aa8" stroke="#10107a" stroke-width="0.4"/>
<circle cx="117.4" cy="327.4" r="1.5" fill="#1a1aa8" stroke="#10107a" stroke-width="0.4"/>
<circle cx="82.0" cy="392.7" r="1.5" fill="#b01c1c" stroke="#801414" stroke-width="0.4"/>
<circle cx="125.4" cy="368.1" r="1.5" fill="#1a1aa8" stroke="#10107a" stroke-width="0.4"/>
<circle cx="60.6" cy="407.9" r="1.5" fill="#2aa832" stroke="#1c7a22" stroke-width="0.4"/>
<circle cx="78.7" cy="418.1" r="1.5" fill="#b01c1c" stroke="#801414" stroke-width="0.4"/>
<circle cx="92.3" cy="389.6" r="1.5" fill="#2aa832" stroke="#1c7a22" stroke-width="0.4"/>
<circle cx="87.6" cy="406.2" r="1.5" fill="#2aa832" stroke="#1c7a22" stroke-width="0.4"/>
<circle cx="128.2" cy="407.6" r="1.5" fill="#b01c1c" stroke="#801414" stroke-width="0.4"/>
<circle cx="76.1" cy="356.4" r="1.5" fill="#2aa832" stroke="#1c7a22" stroke-width="0.4"/>
<circle cx="149.6" cy="389.6" r="1.5" fill="#b01c1c" stroke="#801414" stroke-width="0.4"/>
<circle cx="102.6" cy="411.8" r="1.5" fill="#2aa832" stroke="#1c7a22" stroke-width="0.4"/>
<circle cx="141.3" cy="346.9" r="1.5" fill="#b01c1c" stroke="#801414" stroke-width="0.4"/>
<circle cx="66.7" cy="447.9" r="1.5" fill="#b01c1c" stroke="#801414" stroke-width="0.4"/>
<circle cx="139.2" cy="393.1" r="1.5" fill="#2aa832" stroke="#1c7a22" stroke-width="0.4"/>
<circle cx="110.1" cy="377.4" r="1.5" fill="#b01c1c" stroke="#801414" stroke-width="0.4"/>
<circle cx="55.9" cy="376.4" r="1.5" fill="#2aa832" stroke="#1c7a22" stroke-width="0.4"/>
<circle cx="93.1" cy="397.3" r="1.5" fill="#b01c1c" stroke="#801414" stroke-width="0.4"/>
<circle cx="110.6" cy="362.3" r="1.5" fill="#1a1aa8" stroke="#10107a" stroke-width="0.4"/>
<circle cx="102.5" cy="340.6" r="1.5" fill="#1a1aa8" stroke="#10107a" stroke-width="0.4"/>
<circle cx="79.1" cy="409.0" r="1.5" fill="#1a1aa8" stroke="#10107a" stroke-width="0.4"/>
<circle cx="99.2" cy="398.6" r="1.5" fill="#b01c1c" stroke="#801414" stroke-width="0.4"/>
<circle cx="96.7" cy="388.7" r="1.5" fill="#2aa832" stroke="#1c7a22" stroke-width="0.4"/>
<circle cx="103.8" cy="398.3" r="1.5" fill="#1a1aa8" stroke="#10107a" stroke-width="0.4"/>
<circle cx="104.0" cy="397.9" r="1.5" fill="#2aa832" stroke="#1c7a22" stroke-width="0.4"/>
<circle cx="126.6" cy="379.9" r="1.5" fill="#2aa832" stroke="#1c7a22" stroke-width="0.4"/>
<circle cx="145.1" cy="312.2" r="1.5" fill="#b01c1c" stroke="#801414" stroke-width="0.4"/>
<circle cx="83.0" cy="389.1" r="1.5" fill="#2aa832" stroke="#1c7a22" stroke-width="0.4"/>
<circle cx="95.5" cy="383.2" r="1.5" fill="#b01c1c" stroke="#801414" stroke-width="0.4"/>
<circle cx="95.2" cy="412.2" r="1.5" fill="#1a1aa8" stroke="#10107a" stroke-width="0.4"/>
<circle cx="66.2" cy="406.1" r="1.5" fill="#b01c1c" stroke="#801414" stroke-width="0.4"/>
<circle cx="95.8" cy="361.3" r="1.5" fill="#2aa832" stroke="#1c7a22" stroke-width="0.4"/>
<circle cx="107.7" cy="422.3" r="1.5" fill="#1a1aa8" stroke="#10107a" stroke-width="0.4"/>
<circle cx="81.7" cy="419.3" r="1.5" fill="#b01c1c" stroke="#801414" stroke-width="0.4"/>
<circle cx="120.6" cy="390.0" r="1.5" fill="#b01c1c" stroke="#801414" stroke-width="0.4"/>
<circle cx="110.9" cy="401.0" r="1.5" fill="#b01c1c" stroke="#801414" stroke-width="0.4"/>
<circle cx="110.3" cy="378.9" r="1.5" fill="#1a1aa8" stroke="#10107a" stroke-width="0.4"/>
<circle cx="101.9" cy="416.9" r="1.5" fill="#2aa832" stroke="#1c7a22" stroke-width="0.4"/>
<circle cx="62.5" cy="367.0" r="1.5" fill="#b01c1c" stroke="#801414" stroke-width="0.4"/>
<circle cx="105.9" cy="395.6" r="1.5" fill="#1a1aa8" stroke="#10107a" stroke-width="0.4"/>
<circle cx="105.4" cy="402.8" r="1.5" fill="#2aa832" stroke="#1c7a22" stroke-width="0.4"/>
<circle cx="121.4" cy="382.0" r="1.5" fill="#1a1aa8" stroke="#10107a" stroke-width="0.4"/>
<circle cx="88.7" cy="443.5" r="1.5" fill="#b01c1c" stroke="#801414" stroke-width="0.4"/>
<circle cx="99.1" cy="424.9" r="1.5" fill="#b01c1c" stroke="#801414" stroke-width="0.4"/>
<circle cx="65.8" cy="446.5" r="1.5" fill="#b01c1c" stroke="#801414" stroke-width="0.4"/>
<circle cx="122.7" cy="382.4" r="1.5" fill="#2aa832" stroke="#1c7a22" stroke-width="0.4"/>
<circle cx="128.6" cy="378.7" r="1.5" fill="#1a1aa8" stroke="#10107a" stroke-width="0.4"/>
<circle cx="133.8" cy="347.8" r="1.5" fill="#1a1aa8" stroke="#10107a" stroke-width="0.4"/>
<circle cx="124.4" cy="390.1" r="1.5" fill="#2aa832" stroke="#1c7a22" stroke-width="0.4"/>
<circle cx="113.0" cy="379.7" r="1.5" fill="#b01c1c" stroke="#801414" stroke-width="0.4"/>
<circle cx="90.8" cy="382.2" r="1.5" fill="#1a1aa8" stroke="#10107a" stroke-width="0.4"/>
<circle cx="94.3" cy="358.5" r="1.5" fill="#2aa832" stroke="#1c7a22" stroke-width="0.4"/>
<circle cx="63.5" cy="354.2" r="1.5" fill="#2aa832" stroke="#1c7a22" stroke-width="0.4"/>
<circle cx="76.0" cy="387.6" r="1.5" fill="#1a1aa8" stroke="#10107a" stroke-width="0.4"/>
<circle cx="108.8" cy="372.6" r="1.5" fill="#1a1aa8" stroke="#10107a" stroke-width="0.4"/>
<circle cx="84.6" cy="441.3" r="1.5" fill="#b01c1c" stroke="#801414" stroke-width="0.4"/>
<circle cx="92.0" cy="380.0" r="1.5" fill="#1a1aa8" stroke="#10107a" stroke-width="0.4"/>
<circle cx="93.7" cy="366.9" r="1.5" fill="#b01c1c" stroke="#801414" stroke-width="0.4"/>
<circle cx="126.7" cy="413.9" r="1.5" fill="#2aa832" stroke="#1c7a22" stroke-width="0.4"/>
<circle cx="100.6" cy="400.2" r="1.5" fill="#1a1aa8" stroke="#10107a" stroke-width="0.4"/>
<circle cx="95.0" cy="448.2" r="1.5" fill="#b01c1c" stroke="#801414" stroke-width="0.4"/>
<circle cx="90.7" cy="357.5" r="1.5" fill="#b01c1c" stroke="#801414" stroke-width="0.4"/>
<circle cx="101.8" cy="424.4" r="1.5" fill="#2aa832" stroke="#1c7a22" stroke-width="0.4"/>
<circle cx="111.5" cy="372.6" r="1.5" fill="#2aa832" stroke="#1c7a22" stroke-width="0.4"/>
<circle cx="67.9" cy="430.3" r="1.5" fill="#b01c1c" stroke="#801414" stroke-width="0.4"/>
<circle cx="111.0" cy="350.1" r="1.5" fill="#1a1aa8" stroke="#10107a" stroke-width="0.4"/>
<circle cx="86.7" cy="368.2" r="1.5" fill="#b01c1c" stroke="#801414" stroke-width="0.4"/>
<circle cx="208.7" cy="391.4" r="1.5" fill="#1a1aa8" stroke="#10107a" stroke-width="0.4"/>
<circle cx="150.4" cy="381.3" r="1.5" fill="#2aa832" stroke="#1c7a22" stroke-width="0.4"/>
<circle cx="102.1" cy="401.1" r="1.5" fill="#1a1aa8" stroke="#10107a" stroke-width="0.4"/>
<circle cx="102.9" cy="393.5" r="1.5" fill="#2aa832" stroke="#1c7a22" stroke-width="0.4"/>
<circle cx="114.5" cy="388.1" r="1.5" fill="#b01c1c" stroke="#801414" stroke-width="0.4"/>
<circle cx="109.8" cy="353.0" r="1.5" fill="#b01c1c" stroke="#801414" stroke-width="0.4"/>
<circle cx="59.7" cy="356.5" r="1.5" fill="#1a1aa8" stroke="#10107a" stroke-width="0.4"/>
<circle cx="137.2" cy="353.4" r="1.5" fill="#b01c1c" stroke="#801414" stroke-width="0.4"/>
<circle cx="90.4" cy="372.5" r="1.5" fill="#1a1aa8" stroke="#10107a" stroke-width="0.4"/>
<circle cx="105.8" cy="436.6" r="1.5" fill="#b01c1c" stroke="#801414" stroke-width="0.4"/>
<circle cx="113.7" cy="416.3" r="1.5" fill="#b01c1c" stroke="#801414" stroke-width="0.4"/>
<circle cx="125.3" cy="362.1" r="1.5" fill="#1a1aa8" stroke="#10107a" stroke-width="0.4"/>
<circle cx="117.6" cy="437.1" r="1.5" fill="#b01c1c" stroke="#801414" stroke-width="0.4"/>
<circle cx="134.7" cy="417.8" r="1.5" fill="#2aa832" stroke="#1c7a22" stroke-width="0.4"/>
<circle cx="87.2" cy="419.9" r="1.5" fill="#b01c1c" stroke="#801414" stroke-width="0.4"/>
<circle cx="125.7" cy="342.9" r="1.5" fill="#2aa832" stroke="#1c7a22" stroke-width="0.4"/>
<circle cx="103.3" cy="388.3" r="1.5" fill="#b01c1c" stroke="#801414" stroke-width="0.4"/>
<circle cx="79.7" cy="420.4" r="1.5" fill="#b01c1c" stroke="#801414" stroke-width="0.4"/>
<circle cx="156.1" cy="412.9" r="1.5" fill="#2aa832" stroke="#1c7a22" stroke-width="0.4"/>
<circle cx="133.0" cy="317.7" r="1.5" fill="#1a1aa8" stroke="#10107a" stroke-width="0.4"/>
<circle cx="108.6" cy="404.5" r="1.5" fill="#b01c1c" stroke="#801414" stroke-width="0.4"/>
<circle cx="113.8" cy="410.4" r="1.5" fill="#b01c1c" stroke="#801414" stroke-width="0.4"/>
<circle cx="109.4" cy="357.0" r="1.5" fill="#1a1aa8" stroke="#10107a" stroke-width="0.4"/>
<circle cx="86.8" cy="371.1" r="1.5" fill="#b01c1c" stroke="#801414" stroke-width="0.4"/>
<circle cx="99.9" cy="390.6" r="1.5" fill="#1a1aa8" stroke="#10107a" stroke-width="0.4"/>
<circle cx="146.3" cy="408.8" r="1.5" fill="#b01c1c" stroke="#801414" stroke-width="0.4"/>
<circle cx="123.7" cy="359.4" r="1.5" fill="#b01c1c" stroke="#801414" stroke-width="0.4"/>
<circle cx="151.7" cy="433.8" r="1.5" fill="#b01c1c" stroke="#801414" stroke-width="0.4"/>
<circle cx="199.8" cy="443.0" r="1.5" fill="#2aa832" stroke="#1c7a22" stroke-width="0.4"/>
<circle cx="113.9" cy="380.4" r="1.5" fill="#1a1aa8" stroke="#10107a" stroke-width="0.4"/>
<circle cx="189.4" cy="447.9" r="1.5" fill="#b01c1c" stroke="#801414" stroke-width="0.4"/>
<circle cx="116.5" cy="342.1" r="1.5" fill="#1a1aa8" stroke="#10107a" stroke-width="0.4"/>
<circle cx="88.9" cy="365.2" r="1.5" fill="#1a1aa8" stroke="#10107a" stroke-width="0.4"/>
<circle cx="118.2" cy="396.7" r="1.5" fill="#2aa832" stroke="#1c7a22" stroke-width="0.4"/>
<circle cx="105.3" cy="388.0" r="1.5" fill="#1a1aa8" stroke="#10107a" stroke-width="0.4"/>
<circle cx="83.6" cy="412.4" r="1.5" fill="#1a1aa8" stroke="#10107a" stroke-width="0.4"/>
<circle cx="84.5" cy="396.6" r="1.5" fill="#1a1aa8" stroke="#10107a" stroke-width="0.4"/>
<circle cx="82.3" cy="439.2" r="1.5" fill="#b01c1c" stroke="#801414" stroke-width="0.4"/>
<circle cx="103.5" cy="365.3" r="1.5" fill="#2aa832" stroke="#1c7a22" stroke-width="0.4"/>
<circle cx="57.2" cy="381.4" r="1.5" fill="#1a1aa8" stroke="#10107a" stroke-width="0.4"/>
<circle cx="105.6" cy="383.9" r="1.5" fill="#2aa832" stroke="#1c7a22" stroke-width="0.4"/>
<circle cx="94.9" cy="380.8" r="1.5" fill="#2aa832" stroke="#1c7a22" stroke-width="0.4"/>
<circle cx="103.3" cy="371.8" r="1.5" fill="#2aa832" stroke="#1c7a22" stroke-width="0.4"/>
<circle cx="164.6" cy="388.6" r="1.5" fill="#2aa832" stroke="#1c7a22" stroke-width="0.4"/>
<circle cx="89.7" cy="398.1" r="1.5" fill="#b01c1c" stroke="#801414" stroke-width="0.4"/>
<circle cx="122.7" cy="376.1" r="1.5" fill="#1a1aa8" stroke="#10107a" stroke-width="0.4"/>
<circle cx="108.7" cy="402.1" r="1.5" fill="#1a1aa8" stroke="#10107a" stroke-width="0.4"/>
<circle cx="77.9" cy="418.7" r="1.5" fill="#b01c1c" stroke="#801414" stroke-width="0.4"/>
<circle cx="40.6" cy="369.0" r="1.5" fill="#2aa832" stroke="#1c7a22" stroke-width="0.4"/>
<circle cx="129.2" cy="426.2" r="1.5" fill="#b01c1c" stroke="#801414" stroke-width="0.4"/>
<circle cx="89.6" cy="413.4" r="1.5" fill="#b01c1c" stroke="#801414" stroke-width="0.4"/>
<circle cx="94.2" cy="351.5" r="1.5" fill="#1a1aa8" stroke="#10107a" stroke-width="0.4"/>
<circle cx="95.0" cy="324.3" r="1.5" fill="#1a1aa8" stroke="#10107a" stroke-width="0.4"/>
<circle cx="91.3" cy="402.7" r="1.5" fill="#b01c1c" stroke="#801414" stroke-width="0.4"/>
<circle cx="129.2" cy="348.9" r="1.5" fill="#1a1aa8" stroke="#10107a" stroke-width="0.4"/>
<circle cx="70.8" cy="409.7" r="1.5" fill="#b01c1c" stroke="#801414" stroke-width="0.4"/>
<circle cx="113.8" cy="390.7" r="1.5" fill="#2aa832" stroke="#1c7a22" stroke-width="0.4"/>
<circle cx="108.7" cy="332.5" r="1.5" fill="#1a1aa8" stroke="#10107a" stroke-width="0.4"/>
<circle cx="104.5" cy="392.3" r="1.5" fill="#1a1aa8" stroke="#10107a" stroke-width="0.4"/>
<circle cx="65.8" cy="332.7" r="1.5" fill="#1a1aa8" stroke="#10107a" stroke-width="0.4"/>
<circle cx="85.0" cy="413.2" r="1.5" fill="#2aa832" stroke="#1c7a22" stroke-width="0.4"/>
<circle cx="68.9" cy="352.6" r="1.5" fill="#1a1aa8" stroke="#10107a" stroke-width="0.4"/>
<circle cx="81.7" cy="413.6" r="1.5" fill="#b01c1c" stroke="#801414" stroke-width="0.4"/>
<circle cx="91.0" cy="370.2" r="1.5" fill="#2aa832" stroke="#1c7a22" stroke-width="0.4"/>
<circle cx="75.5" cy="378.4" r="1.5" fill="#2aa832" stroke="#1c7a22" stroke-width="0.4"/>
<circle cx="98.5" cy="358.9" r="1.5" fill="#2aa832" stroke="#1c7a22" stroke-width="0.4"/>
<circle cx="99.0" cy="395.5" r="1.5" fill="#2aa832" stroke="#1c7a22" stroke-width="0.4"/>
<circle cx="71.3" cy="392.6" r="1.5" fill="#1a1aa8" stroke="#10107a" stroke-width="0.4"/>
<circle cx="104.0" cy="361.5" r="1.5" fill="#b01c1c" stroke="#801414" stroke-width="0.4"/>
<circle cx="98.6" cy="412.2" r="1.5" fill="#1a1aa8" stroke="#10107a" stroke-width="0.4"/>
<circle cx="127.8" cy="407.0" r="1.5" fill="#1a1aa8" stroke="#10107a" stroke-width="0.4"/>
<circle cx="97.0" cy="436.9" r="1.5" fill="#b01c1c" stroke="#801414" stroke-width="0.4"/>
<circle cx="103.3" cy="370.9" r="1.5" fill="#1a1aa8" stroke="#10107a" stroke-width="0.4"/>
<circle cx="110.2" cy="385.4" r="1.5" fill="#1a1aa8" stroke="#10107a" stroke-width="0.4"/>
<circle cx="117.0" cy="452.2" r="1.5" fill="#b01c1c" stroke="#801414" stroke-width="0.4"/>
<circle cx="82.3" cy="367.2" r="1.5" fill="#b01c1c" stroke="#801414" stroke-width="0.4"/>
<circle cx="152.2" cy="392.8" r="1.5" fill="#b01c1c" stroke="#801414" stroke-width="0.4"/>
<circle cx="86.4" cy="397.6" r="1.5" fill="#1a1aa8" stroke="#10107a" stroke-width="0.4"/>
<circle cx="113.4" cy="336.1" r="1.5" fill="#2aa832" stroke="#1c7a22" stroke-width="0.4"/>
<circle cx="108.7" cy="408.5" r="1.5" fill="#1a1aa8" stroke="#10107a" stroke-width="0.4"/>
<circle cx="107.2" cy="392.1" r="1.5" fill="#1a1aa8" stroke="#10107a" stroke-width="0.4"/>
<circle cx="83.0" cy="416.3" r="1.5" fill="#b01c1c" stroke="#801414" stroke-width="0.4"/>
<circle cx="88.5" cy="412.9" r="1.5" fill="#1a1aa8" stroke="#10107a" stroke-width="0.4"/>
<circle cx="91.4" cy="420.8" r="1.5" fill="#b01c1c" stroke="#801414" stroke-width="0.4"/>
<circle cx="127.5" cy="369.9" r="1.5" fill="#2aa832" stroke="#1c7a22" stroke-width="0.4"/>
<circle cx="116.2" cy="399.3" r="1.5" fill="#b01c1c" stroke="#801414" stroke-width="0.4"/>
<circle cx="111.9" cy="419.4" r="1.5" fill="#2aa832" stroke="#1c7a22" stroke-width="0.4"/>
<circle cx="126.7" cy="426.1" r="1.5" fill="#1a1aa8" stroke="#10107a" stroke-width="0.4"/>
<circle cx="118.8" cy="382.4" r="1.5" fill="#1a1aa8" stroke="#10107a" stroke-width="0.4"/>
<circle cx="86.0" cy="431.2" r="1.5" fill="#2aa832" stroke="#1c7a22" stroke-width="0.4"/>
<circle cx="61.5" cy="349.2" r="1.5" fill="#2aa832" stroke="#1c7a22" stroke-width="0.4"/>
<circle cx="155.5" cy="363.4" r="1.5" fill="#2aa832" stroke="#1c7a22" stroke-width="0.4"/>
<circle cx="124.5" cy="380.7" r="1.5" fill="#1a1aa8" stroke="#10107a" stroke-width="0.4"/>
<circle cx="75.5" cy="377.1" r="1.5" fill="#2aa832" stroke="#1c7a22" stroke-width="0.4"/>
<circle cx="87.9" cy="412.4" r="1.5" fill="#b01c1c" stroke="#801414" stroke-width="0.4"/>
<circle cx="95.0" cy="392.5" r="1.5" fill="#2aa832" stroke="#1c7a22" stroke-width="0.4"/>
<circle cx="113.6" cy="322.9" r="1.5" fill="#1a1aa8" stroke="#10107a" stroke-width="0.4"/>
<circle cx="108.0" cy="369.3" r="1.5" fill="#b01c1c" stroke="#801414" stroke-width="0.4"/>
<circle cx="123.8" cy="340.0" r="1.5" fill="#1a1aa8" stroke="#10107a" stroke-width="0.4"/>
<circle cx="135.8" cy="390.3" r="1.5" fill="#2aa832" stroke="#1c7a22" stroke-width="0.4"/>
<circle cx="137.8" cy="463.0" r="1.5" fill="#2aa832" stroke="#1c7a22" stroke-width="0.4"/>
<circle cx="74.9" cy="380.2" r="1.5" fill="#b01c1c" stroke="#801414" stroke-width="0.4"/>
<circle cx="78.0" cy="342.6" r="1.5" fill="#2aa832" stroke="#1c7a22" stroke-width="0.4"/>
<circle cx="110.1" cy="409.8" r="1.5" fill="#b01c1c" stroke="#801414" stroke-width="0.4"/>
<circle cx="140.0" cy="418.2" r="1.5" fill="#2aa832" stroke="#1c7a22" stroke-width="0.4"/>
<circle cx="143.3" cy="382.4" r="1.5" fill="#1a1aa8" stroke="#10107a" stroke-width="0.4"/>
<circle cx="60.4" cy="390.5" r="1.5" fill="#b01c1c" stroke="#801414" stroke-width="0.4"/>
<circle cx="68.9" cy="354.8" r="1.5" fill="#1a1aa8" stroke="#10107a" stroke-width="0.4"/>
<circle cx="74.5" cy="337.0" r="1.5" fill="#1a1aa8" stroke="#10107a" stroke-width="0.4"/>
<circle cx="134.5" cy="395.1" r="1.5" fill="#b01c1c" stroke="#801414" stroke-width="0.4"/>
<circle cx="85.7" cy="382.0" r="1.5" fill="#1a1aa8" stroke="#10107a" stroke-width="0.4"/>
<circle cx="104.5" cy="358.2" r="1.5" fill="#1a1aa8" stroke="#10107a" stroke-width="0.4"/>
<circle cx="112.4" cy="359.8" r="1.5" fill="#1a1aa8" stroke="#10107a" stroke-width="0.4"/>
<circle cx="95.4" cy="383.3" r="1.5" fill="#1a1aa8" stroke="#10107a" stroke-width="0.4"/>
<circle cx="86.9" cy="400.3" r="1.5" fill="#b01c1c" stroke="#801414" stroke-width="0.4"/>
<circle cx="98.9" cy="420.2" r="1.5" fill="#b01c1c" stroke="#801414" stroke-width="0.4"/>
<circle cx="118.9" cy="376.5" r="1.5" fill="#b01c1c" stroke="#801414" stroke-width="0.4"/>
<circle cx="107.0" cy="378.1" r="1.5" fill="#2aa832" stroke="#1c7a22" stroke-width="0.4"/>
<circle cx="107.0" cy="368.9" r="1.5" fill="#1a1aa8" stroke="#10107a" stroke-width="0.4"/>
<circle cx="153.2" cy="376.2" r="1.5" fill="#1a1aa8" stroke="#10107a" stroke-width="0.4"/>
<circle cx="92.1" cy="365.7" r="1.5" fill="#1a1aa8" stroke="#10107a" stroke-width="0.4"/>
<circle cx="123.3" cy="386.5" r="1.5" fill="#2aa832" stroke="#1c7a22" stroke-width="0.4"/>
<circle cx="103.5" cy="389.2" r="1.5" fill="#1a1aa8" stroke="#10107a" stroke-width="0.4"/>
<circle cx="176.7" cy="409.5" r="1.5" fill="#2aa832" stroke="#1c7a22" stroke-width="0.4"/>
<circle cx="87.3" cy="343.6" r="1.5" fill="#2aa832" stroke="#1c7a22" stroke-width="0.4"/>
<circle cx="69.6" cy="343.4" r="1.5" fill="#2aa832" stroke="#1c7a22" stroke-width="0.4"/>
<circle cx="106.7" cy="385.2" r="1.5" fill="#2aa832" stroke="#1c7a22" stroke-width="0.4"/>
<circle cx="69.3" cy="475.1" r="1.5" fill="#1a1aa8" stroke="#10107a" stroke-width="0.4"/>
<circle cx="67.4" cy="382.2" r="1.5" fill="#1a1aa8" stroke="#10107a" stroke-width="0.4"/>
<circle cx="115.5" cy="362.6" r="1.5" fill="#1a1aa8" stroke="#10107a" stroke-width="0.4"/>
<circle cx="122.6" cy="359.8" r="1.5" fill="#b01c1c" stroke="#801414" stroke-width="0.4"/>
<circle cx="88.7" cy="400.9" r="1.5" fill="#1a1aa8" stroke="#10107a" stroke-width="0.4"/>
<circle cx="109.2" cy="381.3" r="1.5" fill="#1a1aa8" stroke="#10107a" stroke-width="0.4"/>
<circle cx="104.7" cy="411.0" r="1.5" fill="#2aa832" stroke="#1c7a22" stroke-width="0.4"/>
<circle cx="89.3" cy="388.1" r="1.5" fill="#b01c1c" stroke="#801414" stroke-width="0.4"/>
<circle cx="71.9" cy="386.6" r="1.5" fill="#b01c1c" stroke="#801414" stroke-width="0.4"/>
<circle cx="118.7" cy="402.8" r="1.5" fill="#1a1aa8" stroke="#10107a" stroke-width="0.4"/>
<circle cx="87.3" cy="394.3" r="1.5" fill="#1a1aa8" stroke="#10107a" stroke-width="0.4"/>
<circle cx="113.4" cy="341.0" r="1.5" fill="#2aa832" stroke="#1c7a22" stroke-width="0.4"/>
<circle cx="67.5" cy="401.2" r="1.5" fill="#2aa832" stroke="#1c7a22" stroke-width="0.4"/>
<circle cx="113.9" cy="372.9" r="1.5" fill="#2aa832" stroke="#1c7a22" stroke-width="0.4"/>
<circle cx="130.5" cy="397.7" r="1.5" fill="#2aa832" stroke="#1c7a22" stroke-width="0.4"/>
<circle cx="54.0" cy="355.6" r="1.5" fill="#1a1aa8" stroke="#10107a" stroke-width="0.4"/>
<circle cx="84.3" cy="389.4" r="1.5" fill="#2aa832" stroke="#1c7a22" stroke-width="0.4"/>
<circle cx="100.4" cy="412.6" r="1.5" fill="#b01c1c" stroke="#801414" stroke-width="0.4"/>
<circle cx="97.3" cy="365.6" r="1.5" fill="#b01c1c" stroke="#801414" stroke-width="0.4"/>
<circle cx="157.8" cy="445.9" r="1.5" fill="#2aa832" stroke="#1c7a22" stroke-width="0.4"/>
<circle cx="91.8" cy="399.7" r="1.5" fill="#1a1aa8" stroke="#10107a" stroke-width="0.4"/>
<circle cx="91.9" cy="362.0" r="1.5" fill="#2aa832" stroke="#1c7a22" stroke-width="0.4"/>
<circle cx="140.5" cy="387.3" r="1.5" fill="#b01c1c" stroke="#801414" stroke-width="0.4"/>
<circle cx="62.3" cy="427.9" r="1.5" fill="#b01c1c" stroke="#801414" stroke-width="0.4"/>
<circle cx="93.9" cy="467.0" r="1.5" fill="#b01c1c" stroke="#801414" stroke-width="0.4"/>
<circle cx="64.1" cy="411.7" r="1.5" fill="#b01c1c" stroke="#801414" stroke-width="0.4"/>
<circle cx="97.3" cy="390.9" r="1.5" fill="#b01c1c" stroke="#801414" stroke-width="0.4"/>
<circle cx="81.9" cy="380.1" r="1.5" fill="#1a1aa8" stroke="#10107a" stroke-width="0.4"/>
<circle cx="135.3" cy="409.5" r="1.5" fill="#b01c1c" stroke="#801414" stroke-width="0.4"/>
<circle cx="98.8" cy="446.1" r="1.5" fill="#b01c1c" stroke="#801414" stroke-width="0.4"/>
<circle cx="72.1" cy="422.8" r="1.5" fill="#b01c1c" stroke="#801414" stroke-width="0.4"/>
<circle cx="54.0" cy="409.5" r="1.5" fill="#b01c1c" stroke="#801414" stroke-width="0.4"/>
<circle cx="170.0" cy="370.0" r="1.5" fill="#2aa832" stroke="#1c7a22" stroke-width="0.4"/>
<circle cx="118.9" cy="357.9" r="1.5" fill="#2aa832" stroke="#1c7a22" stroke-width="0.4"/>
<circle cx="133.9" cy="396.1" r="1.5" fill="#1a1aa8" stroke="#10107a" stroke-width="0.4"/>
<circle cx="105.1" cy="371.6" r="1.5" fill="#1a1aa8" stroke="#10107a" stroke-width="0.4"/>
<circle cx="123.7" cy="357.9" r="1.5" fill="#1a1aa8" stroke="#10107a" stroke-width="0.4"/>
<circle cx="100.6" cy="384.4" r="1.5" fill="#2aa832" stroke="#1c7a22" stroke-width="0.4"/>
<circle cx="84.2" cy="420.1" r="1.5" fill="#1a1aa8" stroke="#10107a" stroke-width="0.4"/>
<circle cx="41.5" cy="379.9" r="1.5" fill="#2aa832" stroke="#1c7a22" stroke-width="0.4"/>
<circle cx="120.7" cy="404.9" r="1.5" fill="#2aa832" stroke="#1c7a22" stroke-width="0.4"/>
<circle cx="84.0" cy="454.8" r="1.5" fill="#b01c1c" stroke="#801414" stroke-width="0.4"/>
<circle cx="75.9" cy="405.6" r="1.5" fill="#b01c1c" stroke="#801414" stroke-width="0.4"/>
<circle cx="94.5" cy="444.7" r="1.5" fill="#b01c1c" stroke="#801414" stroke-width="0.4"/>
<circle cx="96.4" cy="317.9" r="1.5" fill="#1a1aa8" stroke="#10107a" stroke-width="0.4"/>
<circle cx="74.3" cy="377.1" r="1.5" fill="#2aa832" stroke="#1c7a22" stroke-width="0.4"/>
<circle cx="105.3" cy="411.2" r="1.5" fill="#2aa832" stroke="#1c7a22" stroke-width="0.4"/>
<circle cx="124.3" cy="358.9" r="1.5" fill="#2aa832" stroke="#1c7a22" stroke-width="0.4"/>
<circle cx="146.5" cy="424.4" r="1.5" fill="#b01c1c" stroke="#801414" stroke-width="0.4"/>
<circle cx="105.9" cy="365.3" r="1.5" fill="#b01c1c" stroke="#801414" stroke-width="0.4"/>
<circle cx="79.7" cy="364.8" r="1.5" fill="#2aa832" stroke="#1c7a22" stroke-width="0.4"/>
<circle cx="120.0" cy="334.1" r="1.5" fill="#1a1aa8" stroke="#10107a" stroke-width="0.4"/>
<circle cx="84.2" cy="392.5" r="1.5" fill="#b01c1c" stroke="#801414" stroke-width="0.4"/>
<circle cx="99.4" cy="393.8" r="1.5" fill="#b01c1c" stroke="#801414" stroke-width="0.4"/>
<circle cx="131.5" cy="386.6" r="1.5" fill="#1a1aa8" stroke="#10107a" stroke-width="0.4"/>
<circle cx="65.6" cy="390.3" r="1.5" fill="#b01c1c" stroke="#801414" stroke-width="0.4"/>
<circle cx="93.2" cy="373.4" r="1.5" fill="#1a1aa8" stroke="#10107a" stroke-width="0.4"/>
<circle cx="122.8" cy="384.4" r="1.5" fill="#1a1aa8" stroke="#10107a" stroke-width="0.4"/>
<circle cx="82.5" cy="400.4" r="1.5" fill="#2aa832" stroke="#1c7a22" stroke-width="0.4"/>
<circle cx="78.5" cy="361.5" r="1.5" fill="#1a1aa8" stroke="#10107a" stroke-width="0.4"/>
<circle cx="90.1" cy="439.2" r="1.5" fill="#b01c1c" stroke="#801414" stroke-width="0.4"/>
<circle cx="127.2" cy="356.5" r="1.5" fill="#1a1aa8" stroke="#10107a" stroke-width="0.4"/>
<circle cx="97.9" cy="379.6" r="1.5" fill="#1a1aa8" stroke="#10107a" stroke-width="0.4"/>
<circle cx="91.6" cy="405.6" r="1.5" fill="#b01c1c" stroke="#801414" stroke-width="0.4"/>
<ellipse cx="98" cy="405" rx="52" ry="66" transform="rotate(8 98 405)" fill="#F8766D" fill-opacity="0.16"/>
<ellipse cx="106.5" cy="388" rx="57.5" ry="52" transform="rotate(-8 106.5 388)" fill="#00BA38" fill-opacity="0.16"/>
<ellipse cx="110" cy="380" rx="43" ry="55" transform="rotate(-5 110 380)" fill="#619CFF" fill-opacity="0.16"/>
</g>
<rect x="38.0" y="300.5" width="177.10" height="179.20" fill="none" stroke="#111" stroke-width="1.6"/>
<clipPath id="clipe"><rect x="268.8" y="300.0" width="176.7" height="180.3"/></clipPath>
<g clip-path="url(#clipe)">
<circle cx="355.1" cy="406.0" r="1.5" fill="#2aa832" stroke="#1c7a22" stroke-width="0.4"/>
<circle cx="330.1" cy="355.7" r="1.5" fill="#b01c1c" stroke="#801414" stroke-width="0.4"/>
<circle cx="357.6" cy="367.1" r="1.5" fill="#b01c1c" stroke="#801414" stroke-width="0.4"/>
<circle cx="386.9" cy="358.7" r="1.5" fill="#1a1aa8" stroke="#10107a" stroke-width="0.4"/>
<circle cx="284.2" cy="377.8" r="1.5" fill="#2aa832" stroke="#1c7a22" stroke-width="0.4"/>
<circle cx="363.8" cy="457.8" r="1.5" fill="#1a1aa8" stroke="#10107a" stroke-width="0.4"/>
<circle cx="330.9" cy="398.7" r="1.5" fill="#1a1aa8" stroke="#10107a" stroke-width="0.4"/>
<circle cx="328.9" cy="412.2" r="1.5" fill="#2aa832" stroke="#1c7a22" stroke-width="0.4"/>
<circle cx="381.5" cy="379.8" r="1.5" fill="#2aa832" stroke="#1c7a22" stroke-width="0.4"/>
<circle cx="276.2" cy="417.4" r="1.5" fill="#b01c1c" stroke="#801414" stroke-width="0.4"/>
<circle cx="316.0" cy="405.4" r="1.5" fill="#1a1aa8" stroke="#10107a" stroke-width="0.4"/>
<circle cx="274.6" cy="369.0" r="1.5" fill="#1a1aa8" stroke="#10107a" stroke-width="0.4"/>
<circle cx="329.3" cy="378.6" r="1.5" fill="#b01c1c" stroke="#801414" stroke-width="0.4"/>
<circle cx="344.9" cy="441.1" r="1.5" fill="#2aa832" stroke="#1c7a22" stroke-width="0.4"/>
<circle cx="357.6" cy="377.7" r="1.5" fill="#1a1aa8" stroke="#10107a" stroke-width="0.4"/>
<circle cx="298.9" cy="393.3" r="1.5" fill="#1a1aa8" stroke="#10107a" stroke-width="0.4"/>
<circle cx="372.3" cy="434.1" r="1.5" fill="#b01c1c" stroke="#801414" stroke-width="0.4"/>
<circle cx="386.3" cy="390.4" r="1.5" fill="#2aa832" stroke="#1c7a22" stroke-width="0.4"/>
<circle cx="330.1" cy="432.0" r="1.5" fill="#2aa832" stroke="#1c7a22" stroke-width="0.4"/>
<circle cx="328.9" cy="393.6" r="1.5" fill="#b01c1c" stroke="#801414" stroke-width="0.4"/>
<circle cx="347.1" cy="386.8" r="1.5" fill="#2aa832" stroke="#1c7a22" stroke-width="0.4"/>
<circle cx="328.0" cy="382.6" r="1.5" fill="#2aa832" stroke="#1c7a22" stroke-width="0.4"/>
<circle cx="343.1" cy="369.0" r="1.5" fill="#1a1aa8" stroke="#10107a" stroke-width="0.4"/>
<circle cx="385.3" cy="355.0" r="1.5" fill="#1a1aa8" stroke="#10107a" stroke-width="0.4"/>
<circle cx="368.2" cy="409.3" r="1.5" fill="#b01c1c" stroke="#801414" stroke-width="0.4"/>
<circle cx="385.5" cy="397.1" r="1.5" fill="#1a1aa8" stroke="#10107a" stroke-width="0.4"/>
<circle cx="315.2" cy="379.0" r="1.5" fill="#2aa832" stroke="#1c7a22" stroke-width="0.4"/>
<circle cx="315.6" cy="369.0" r="1.5" fill="#b01c1c" stroke="#801414" stroke-width="0.4"/>
<circle cx="324.9" cy="407.8" r="1.5" fill="#2aa832" stroke="#1c7a22" stroke-width="0.4"/>
<circle cx="324.0" cy="303.5" r="1.5" fill="#2aa832" stroke="#1c7a22" stroke-width="0.4"/>
<circle cx="356.3" cy="435.8" r="1.5" fill="#1a1aa8" stroke="#10107a" stroke-width="0.4"/>
<circle cx="341.0" cy="380.6" r="1.5" fill="#2aa832" stroke="#1c7a22" stroke-width="0.4"/>
<circle cx="313.8" cy="422.4" r="1.5" fill="#1a1aa8" stroke="#10107a" stroke-width="0.4"/>
<circle cx="382.6" cy="304.3" r="1.5" fill="#2aa832" stroke="#1c7a22" stroke-width="0.4"/>
<circle cx="313.9" cy="422.0" r="1.5" fill="#b01c1c" stroke="#801414" stroke-width="0.4"/>
<circle cx="385.1" cy="359.4" r="1.5" fill="#1a1aa8" stroke="#10107a" stroke-width="0.4"/>
<circle cx="338.7" cy="332.7" r="1.5" fill="#2aa832" stroke="#1c7a22" stroke-width="0.4"/>
<circle cx="300.7" cy="411.8" r="1.5" fill="#2aa832" stroke="#1c7a22" stroke-width="0.4"/>
<circle cx="384.6" cy="358.2" r="1.5" fill="#b01c1c" stroke="#801414" stroke-width="0.4"/>
<circle cx="330.4" cy="388.1" r="1.5" fill="#b01c1c" stroke="#801414" stroke-width="0.4"/>
<circle cx="386.2" cy="422.7" r="1.5" fill="#b01c1c" stroke="#801414" stroke-width="0.4"/>
<circle cx="371.4" cy="393.0" r="1.5" fill="#1a1aa8" stroke="#10107a" stroke-width="0.4"/>
<circle cx="384.7" cy="413.7" r="1.5" fill="#1a1aa8" stroke="#10107a" stroke-width="0.4"/>
<circle cx="357.1" cy="366.9" r="1.5" fill="#1a1aa8" stroke="#10107a" stroke-width="0.4"/>
<circle cx="385.0" cy="420.9" r="1.5" fill="#1a1aa8" stroke="#10107a" stroke-width="0.4"/>
<circle cx="300.9" cy="444.2" r="1.5" fill="#b01c1c" stroke="#801414" stroke-width="0.4"/>
<circle cx="354.9" cy="438.2" r="1.5" fill="#1a1aa8" stroke="#10107a" stroke-width="0.4"/>
<circle cx="382.2" cy="361.6" r="1.5" fill="#2aa832" stroke="#1c7a22" stroke-width="0.4"/>
<circle cx="342.3" cy="363.0" r="1.5" fill="#b01c1c" stroke="#801414" stroke-width="0.4"/>
<circle cx="341.0" cy="429.1" r="1.5" fill="#1a1aa8" stroke="#10107a" stroke-width="0.4"/>
<circle cx="328.4" cy="390.1" r="1.5" fill="#b01c1c" stroke="#801414" stroke-width="0.4"/>
<circle cx="417.3" cy="420.1" r="1.5" fill="#1a1aa8" stroke="#10107a" stroke-width="0.4"/>
<circle cx="358.8" cy="436.2" r="1.5" fill="#1a1aa8" stroke="#10107a" stroke-width="0.4"/>
<circle cx="329.5" cy="355.2" r="1.5" fill="#2aa832" stroke="#1c7a22" stroke-width="0.4"/>
<circle cx="385.1" cy="428.4" r="1.5" fill="#2aa832" stroke="#1c7a22" stroke-width="0.4"/>
<circle cx="385.6" cy="435.2" r="1.5" fill="#1a1aa8" stroke="#10107a" stroke-width="0.4"/>
<circle cx="302.3" cy="399.9" r="1.5" fill="#1a1aa8" stroke="#10107a" stroke-width="0.4"/>
<circle cx="326.4" cy="410.5" r="1.5" fill="#1a1aa8" stroke="#10107a" stroke-width="0.4"/>
<circle cx="384.5" cy="378.6" r="1.5" fill="#b01c1c" stroke="#801414" stroke-width="0.4"/>
<circle cx="327.7" cy="382.5" r="1.5" fill="#1a1aa8" stroke="#10107a" stroke-width="0.4"/>
<circle cx="343.6" cy="423.5" r="1.5" fill="#1a1aa8" stroke="#10107a" stroke-width="0.4"/>
<circle cx="360.5" cy="443.1" r="1.5" fill="#b01c1c" stroke="#801414" stroke-width="0.4"/>
<circle cx="312.9" cy="393.8" r="1.5" fill="#2aa832" stroke="#1c7a22" stroke-width="0.4"/>
<circle cx="343.4" cy="422.2" r="1.5" fill="#b01c1c" stroke="#801414" stroke-width="0.4"/>
<circle cx="357.9" cy="384.2" r="1.5" fill="#1a1aa8" stroke="#10107a" stroke-width="0.4"/>
<circle cx="274.1" cy="441.8" r="1.5" fill="#b01c1c" stroke="#801414" stroke-width="0.4"/>
<circle cx="302.4" cy="471.1" r="1.5" fill="#b01c1c" stroke="#801414" stroke-width="0.4"/>
<circle cx="354.5" cy="433.8" r="1.5" fill="#2aa832" stroke="#1c7a22" stroke-width="0.4"/>
<circle cx="343.1" cy="433.7" r="1.5" fill="#1a1aa8" stroke="#10107a" stroke-width="0.4"/>
<circle cx="310.7" cy="353.9" r="1.5" fill="#2aa832" stroke="#1c7a22" stroke-width="0.4"/>
<circle cx="340.0" cy="413.4" r="1.5" fill="#b01c1c" stroke="#801414" stroke-width="0.4"/>
<circle cx="356.5" cy="369.1" r="1.5" fill="#2aa832" stroke="#1c7a22" stroke-width="0.4"/>
<circle cx="387.6" cy="449.4" r="1.5" fill="#2aa832" stroke="#1c7a22" stroke-width="0.4"/>
<circle cx="370.2" cy="371.9" r="1.5" fill="#2aa832" stroke="#1c7a22" stroke-width="0.4"/>
<circle cx="370.3" cy="373.3" r="1.5" fill="#2aa832" stroke="#1c7a22" stroke-width="0.4"/>
<circle cx="328.5" cy="338.6" r="1.5" fill="#b01c1c" stroke="#801414" stroke-width="0.4"/>
<circle cx="357.9" cy="360.0" r="1.5" fill="#2aa832" stroke="#1c7a22" stroke-width="0.4"/>
<circle cx="327.9" cy="409.8" r="1.5" fill="#1a1aa8" stroke="#10107a" stroke-width="0.4"/>
<circle cx="342.3" cy="436.9" r="1.5" fill="#b01c1c" stroke="#801414" stroke-width="0.4"/>
<circle cx="342.6" cy="377.5" r="1.5" fill="#2aa832" stroke="#1c7a22" stroke-width="0.4"/>
<circle cx="400.0" cy="425.6" r="1.5" fill="#b01c1c" stroke="#801414" stroke-width="0.4"/>
<circle cx="291.1" cy="312.7" r="1.5" fill="#b01c1c" stroke="#801414" stroke-width="0.4"/>
<circle cx="383.7" cy="363.3" r="1.5" fill="#1a1aa8" stroke="#10107a" stroke-width="0.4"/>
<circle cx="357.1" cy="415.7" r="1.5" fill="#1a1aa8" stroke="#10107a" stroke-width="0.4"/>
<circle cx="385.9" cy="392.7" r="1.5" fill="#b01c1c" stroke="#801414" stroke-width="0.4"/>
<circle cx="370.5" cy="394.4" r="1.5" fill="#2aa832" stroke="#1c7a22" stroke-width="0.4"/>
<circle cx="369.0" cy="435.9" r="1.5" fill="#b01c1c" stroke="#801414" stroke-width="0.4"/>
<circle cx="313.8" cy="436.2" r="1.5" fill="#2aa832" stroke="#1c7a22" stroke-width="0.4"/>
<circle cx="382.2" cy="363.8" r="1.5" fill="#2aa832" stroke="#1c7a22" stroke-width="0.4"/>
<circle cx="327.6" cy="396.3" r="1.5" fill="#1a1aa8" stroke="#10107a" stroke-width="0.4"/>
<circle cx="285.9" cy="401.3" r="1.5" fill="#2aa832" stroke="#1c7a22" stroke-width="0.4"/>
<circle cx="313.3" cy="390.0" r="1.5" fill="#2aa832" stroke="#1c7a22" stroke-width="0.4"/>
<circle cx="325.7" cy="375.6" r="1.5" fill="#b01c1c" stroke="#801414" stroke-width="0.4"/>
<circle cx="341.1" cy="394.7" r="1.5" fill="#b01c1c" stroke="#801414" stroke-width="0.4"/>
<circle cx="327.6" cy="423.4" r="1.5" fill="#1a1aa8" stroke="#10107a" stroke-width="0.4"/>
<circle cx="296.3" cy="338.6" r="1.5" fill="#b01c1c" stroke="#801414" stroke-width="0.4"/>
<circle cx="355.9" cy="404.1" r="1.5" fill="#1a1aa8" stroke="#10107a" stroke-width="0.4"/>
<circle cx="314.2" cy="367.7" r="1.5" fill="#2aa832" stroke="#1c7a22" stroke-width="0.4"/>
<circle cx="313.1" cy="407.4" r="1.5" fill="#b01c1c" stroke="#801414" stroke-width="0.4"/>
<circle cx="326.8" cy="357.0" r="1.5" fill="#1a1aa8" stroke="#10107a" stroke-width="0.4"/>
<circle cx="355.2" cy="357.7" r="1.5" fill="#1a1aa8" stroke="#10107a" stroke-width="0.4"/>
<circle cx="300.1" cy="414.2" r="1.5" fill="#1a1aa8" stroke="#10107a" stroke-width="0.4"/>
<circle cx="330.0" cy="372.4" r="1.5" fill="#1a1aa8" stroke="#10107a" stroke-width="0.4"/>
<circle cx="442.3" cy="403.0" r="1.5" fill="#2aa832" stroke="#1c7a22" stroke-width="0.4"/>
<circle cx="370.2" cy="440.1" r="1.5" fill="#b01c1c" stroke="#801414" stroke-width="0.4"/>
<circle cx="330.2" cy="333.9" r="1.5" fill="#1a1aa8" stroke="#10107a" stroke-width="0.4"/>
<circle cx="334.0" cy="469.4" r="1.5" fill="#2aa832" stroke="#1c7a22" stroke-width="0.4"/>
<circle cx="384.2" cy="373.6" r="1.5" fill="#1a1aa8" stroke="#10107a" stroke-width="0.4"/>
<circle cx="328.7" cy="357.0" r="1.5" fill="#1a1aa8" stroke="#10107a" stroke-width="0.4"/>
<circle cx="358.1" cy="365.1" r="1.5" fill="#b01c1c" stroke="#801414" stroke-width="0.4"/>
<circle cx="411.6" cy="386.9" r="1.5" fill="#1a1aa8" stroke="#10107a" stroke-width="0.4"/>
<circle cx="275.3" cy="443.5" r="1.5" fill="#b01c1c" stroke="#801414" stroke-width="0.4"/>
<circle cx="338.4" cy="337.0" r="1.5" fill="#b01c1c" stroke="#801414" stroke-width="0.4"/>
<circle cx="342.4" cy="438.5" r="1.5" fill="#b01c1c" stroke="#801414" stroke-width="0.4"/>
<circle cx="354.3" cy="371.9" r="1.5" fill="#1a1aa8" stroke="#10107a" stroke-width="0.4"/>
<circle cx="385.6" cy="355.5" r="1.5" fill="#b01c1c" stroke="#801414" stroke-width="0.4"/>
<circle cx="355.0" cy="394.9" r="1.5" fill="#b01c1c" stroke="#801414" stroke-width="0.4"/>
<circle cx="328.1" cy="437.8" r="1.5" fill="#1a1aa8" stroke="#10107a" stroke-width="0.4"/>
<circle cx="313.9" cy="381.3" r="1.5" fill="#1a1aa8" stroke="#10107a" stroke-width="0.4"/>
<circle cx="357.5" cy="400.1" r="1.5" fill="#b01c1c" stroke="#801414" stroke-width="0.4"/>
<circle cx="331.0" cy="371.0" r="1.5" fill="#2aa832" stroke="#1c7a22" stroke-width="0.4"/>
<circle cx="343.1" cy="399.0" r="1.5" fill="#1a1aa8" stroke="#10107a" stroke-width="0.4"/>
<circle cx="382.9" cy="348.6" r="1.5" fill="#b01c1c" stroke="#801414" stroke-width="0.4"/>
<circle cx="359.0" cy="429.6" r="1.5" fill="#1a1aa8" stroke="#10107a" stroke-width="0.4"/>
<circle cx="357.5" cy="395.2" r="1.5" fill="#1a1aa8" stroke="#10107a" stroke-width="0.4"/>
<circle cx="344.1" cy="468.5" r="1.5" fill="#b01c1c" stroke="#801414" stroke-width="0.4"/>
<circle cx="397.3" cy="379.4" r="1.5" fill="#1a1aa8" stroke="#10107a" stroke-width="0.4"/>
<circle cx="358.1" cy="402.5" r="1.5" fill="#1a1aa8" stroke="#10107a" stroke-width="0.4"/>
<circle cx="370.5" cy="413.1" r="1.5" fill="#2aa832" stroke="#1c7a22" stroke-width="0.4"/>
<circle cx="311.1" cy="434.1" r="1.5" fill="#b01c1c" stroke="#801414" stroke-width="0.4"/>
<circle cx="303.3" cy="388.0" r="1.5" fill="#1a1aa8" stroke="#10107a" stroke-width="0.4"/>
<circle cx="385.8" cy="357.9" r="1.5" fill="#2aa832" stroke="#1c7a22" stroke-width="0.4"/>
<circle cx="342.7" cy="436.5" r="1.5" fill="#1a1aa8" stroke="#10107a" stroke-width="0.4"/>
<circle cx="384.2" cy="367.9" r="1.5" fill="#b01c1c" stroke="#801414" stroke-width="0.4"/>
<circle cx="373.4" cy="456.5" r="1.5" fill="#b01c1c" stroke="#801414" stroke-width="0.4"/>
<circle cx="384.3" cy="433.5" r="1.5" fill="#2aa832" stroke="#1c7a22" stroke-width="0.4"/>
<circle cx="360.3" cy="379.7" r="1.5" fill="#1a1aa8" stroke="#10107a" stroke-width="0.4"/>
<circle cx="357.4" cy="429.8" r="1.5" fill="#1a1aa8" stroke="#10107a" stroke-width="0.4"/>
<circle cx="372.0" cy="419.2" r="1.5" fill="#b01c1c" stroke="#801414" stroke-width="0.4"/>
<circle cx="371.8" cy="417.3" r="1.5" fill="#1a1aa8" stroke="#10107a" stroke-width="0.4"/>
<circle cx="386.8" cy="370.2" r="1.5" fill="#b01c1c" stroke="#801414" stroke-width="0.4"/>
<circle cx="342.5" cy="360.2" r="1.5" fill="#1a1aa8" stroke="#10107a" stroke-width="0.4"/>
<circle cx="330.7" cy="363.5" r="1.5" fill="#1a1aa8" stroke="#10107a" stroke-width="0.4"/>
<circle cx="342.2" cy="357.6" r="1.5" fill="#b01c1c" stroke="#801414" stroke-width="0.4"/>
<circle cx="383.8" cy="363.0" r="1.5" fill="#1a1aa8" stroke="#10107a" stroke-width="0.4"/>
<circle cx="327.3" cy="373.0" r="1.5" fill="#1a1aa8" stroke="#10107a" stroke-width="0.4"/>
<circle cx="384.8" cy="398.9" r="1.5" fill="#1a1aa8" stroke="#10107a" stroke-width="0.4"/>
<circle cx="328.2" cy="365.7" r="1.5" fill="#b01c1c" stroke="#801414" stroke-width="0.4"/>
<circle cx="340.6" cy="422.3" r="1.5" fill="#1a1aa8" stroke="#10107a" stroke-width="0.4"/>
<circle cx="313.4" cy="391.5" r="1.5" fill="#2aa832" stroke="#1c7a22" stroke-width="0.4"/>
<circle cx="440.8" cy="370.0" r="1.5" fill="#2aa832" stroke="#1c7a22" stroke-width="0.4"/>
<circle cx="305.2" cy="378.4" r="1.5" fill="#1a1aa8" stroke="#10107a" stroke-width="0.4"/>
<circle cx="327.4" cy="404.2" r="1.5" fill="#b01c1c" stroke="#801414" stroke-width="0.4"/>
<circle cx="330.2" cy="440.9" r="1.5" fill="#b01c1c" stroke="#801414" stroke-width="0.4"/>
<circle cx="314.6" cy="439.6" r="1.5" fill="#2aa832" stroke="#1c7a22" stroke-width="0.4"/>
<circle cx="309.9" cy="431.2" r="1.5" fill="#2aa832" stroke="#1c7a22" stroke-width="0.4"/>
<circle cx="329.4" cy="403.3" r="1.5" fill="#1a1aa8" stroke="#10107a" stroke-width="0.4"/>
<circle cx="331.5" cy="369.5" r="1.5" fill="#1a1aa8" stroke="#10107a" stroke-width="0.4"/>
<circle cx="341.0" cy="387.6" r="1.5" fill="#b01c1c" stroke="#801414" stroke-width="0.4"/>
<circle cx="302.5" cy="444.9" r="1.5" fill="#1a1aa8" stroke="#10107a" stroke-width="0.4"/>
<circle cx="342.0" cy="414.6" r="1.5" fill="#2aa832" stroke="#1c7a22" stroke-width="0.4"/>
<circle cx="387.2" cy="358.2" r="1.5" fill="#2aa832" stroke="#1c7a22" stroke-width="0.4"/>
<circle cx="371.5" cy="391.1" r="1.5" fill="#b01c1c" stroke="#801414" stroke-width="0.4"/>
<circle cx="373.8" cy="434.9" r="1.5" fill="#b01c1c" stroke="#801414" stroke-width="0.4"/>
<circle cx="359.1" cy="368.9" r="1.5" fill="#b01c1c" stroke="#801414" stroke-width="0.4"/>
<circle cx="384.6" cy="358.6" r="1.5" fill="#1a1aa8" stroke="#10107a" stroke-width="0.4"/>
<circle cx="353.7" cy="420.9" r="1.5" fill="#2aa832" stroke="#1c7a22" stroke-width="0.4"/>
<circle cx="414.7" cy="398.7" r="1.5" fill="#2aa832" stroke="#1c7a22" stroke-width="0.4"/>
<circle cx="417.3" cy="440.7" r="1.5" fill="#2aa832" stroke="#1c7a22" stroke-width="0.4"/>
<circle cx="342.2" cy="369.4" r="1.5" fill="#b01c1c" stroke="#801414" stroke-width="0.4"/>
<circle cx="381.8" cy="393.7" r="1.5" fill="#1a1aa8" stroke="#10107a" stroke-width="0.4"/>
<circle cx="355.2" cy="374.0" r="1.5" fill="#1a1aa8" stroke="#10107a" stroke-width="0.4"/>
<circle cx="341.3" cy="416.9" r="1.5" fill="#1a1aa8" stroke="#10107a" stroke-width="0.4"/>
<circle cx="404.3" cy="364.8" r="1.5" fill="#1a1aa8" stroke="#10107a" stroke-width="0.4"/>
<circle cx="344.9" cy="426.8" r="1.5" fill="#1a1aa8" stroke="#10107a" stroke-width="0.4"/>
<circle cx="327.8" cy="365.9" r="1.5" fill="#1a1aa8" stroke="#10107a" stroke-width="0.4"/>
<circle cx="344.7" cy="412.6" r="1.5" fill="#b01c1c" stroke="#801414" stroke-width="0.4"/>
<circle cx="342.2" cy="371.6" r="1.5" fill="#1a1aa8" stroke="#10107a" stroke-width="0.4"/>
<circle cx="358.0" cy="427.4" r="1.5" fill="#1a1aa8" stroke="#10107a" stroke-width="0.4"/>
<circle cx="387.5" cy="430.8" r="1.5" fill="#2aa832" stroke="#1c7a22" stroke-width="0.4"/>
<circle cx="332.3" cy="432.9" r="1.5" fill="#1a1aa8" stroke="#10107a" stroke-width="0.4"/>
<circle cx="344.5" cy="355.1" r="1.5" fill="#1a1aa8" stroke="#10107a" stroke-width="0.4"/>
<circle cx="347.4" cy="461.8" r="1.5" fill="#b01c1c" stroke="#801414" stroke-width="0.4"/>
<circle cx="325.0" cy="327.8" r="1.5" fill="#1a1aa8" stroke="#10107a" stroke-width="0.4"/>
<circle cx="370.6" cy="440.0" r="1.5" fill="#2aa832" stroke="#1c7a22" stroke-width="0.4"/>
<circle cx="356.2" cy="403.1" r="1.5" fill="#b01c1c" stroke="#801414" stroke-width="0.4"/>
<circle cx="356.2" cy="394.0" r="1.5" fill="#2aa832" stroke="#1c7a22" stroke-width="0.4"/>
<circle cx="314.6" cy="339.6" r="1.5" fill="#2aa832" stroke="#1c7a22" stroke-width="0.4"/>
<circle cx="314.0" cy="410.6" r="1.5" fill="#1a1aa8" stroke="#10107a" stroke-width="0.4"/>
<circle cx="343.0" cy="414.6" r="1.5" fill="#1a1aa8" stroke="#10107a" stroke-width="0.4"/>
<circle cx="328.1" cy="418.7" r="1.5" fill="#1a1aa8" stroke="#10107a" stroke-width="0.4"/>
<circle cx="328.3" cy="372.1" r="1.5" fill="#1a1aa8" stroke="#10107a" stroke-width="0.4"/>
<circle cx="356.8" cy="407.6" r="1.5" fill="#1a1aa8" stroke="#10107a" stroke-width="0.4"/>
<circle cx="355.3" cy="389.5" r="1.5" fill="#b01c1c" stroke="#801414" stroke-width="0.4"/>
<circle cx="372.3" cy="436.1" r="1.5" fill="#1a1aa8" stroke="#10107a" stroke-width="0.4"/>
<circle cx="289.2" cy="354.2" r="1.5" fill="#b01c1c" stroke="#801414" stroke-width="0.4"/>
<circle cx="372.1" cy="433.6" r="1.5" fill="#b01c1c" stroke="#801414" stroke-width="0.4"/>
<circle cx="370.0" cy="429.6" r="1.5" fill="#1a1aa8" stroke="#10107a" stroke-width="0.4"/>
<circle cx="327.3" cy="361.6" r="1.5" fill="#b01c1c" stroke="#801414" stroke-width="0.4"/>
<circle cx="356.1" cy="389.3" r="1.5" fill="#b01c1c" stroke="#801414" stroke-width="0.4"/>
<circle cx="310.2" cy="318.6" r="1.5" fill="#2aa832" stroke="#1c7a22" stroke-width="0.4"/>
<circle cx="294.9" cy="342.9" r="1.5" fill="#b01c1c" stroke="#801414" stroke-width="0.4"/>
<circle cx="300.0" cy="419.2" r="1.5" fill="#b01c1c" stroke="#801414" stroke-width="0.4"/>
<circle cx="311.1" cy="427.8" r="1.5" fill="#2aa832" stroke="#1c7a22" stroke-width="0.4"/>
<circle cx="328.4" cy="419.9" r="1.5" fill="#1a1aa8" stroke="#10107a" stroke-width="0.4"/>
<circle cx="312.6" cy="404.0" r="1.5" fill="#2aa832" stroke="#1c7a22" stroke-width="0.4"/>
<circle cx="316.3" cy="433.6" r="1.5" fill="#b01c1c" stroke="#801414" stroke-width="0.4"/>
<circle cx="344.1" cy="352.5" r="1.5" fill="#1a1aa8" stroke="#10107a" stroke-width="0.4"/>
<circle cx="315.8" cy="380.5" r="1.5" fill="#2aa832" stroke="#1c7a22" stroke-width="0.4"/>
<circle cx="334.4" cy="465.0" r="1.5" fill="#1a1aa8" stroke="#10107a" stroke-width="0.4"/>
<circle cx="388.0" cy="354.5" r="1.5" fill="#2aa832" stroke="#1c7a22" stroke-width="0.4"/>
<circle cx="383.2" cy="389.7" r="1.5" fill="#b01c1c" stroke="#801414" stroke-width="0.4"/>
<circle cx="358.3" cy="380.7" r="1.5" fill="#2aa832" stroke="#1c7a22" stroke-width="0.4"/>
<circle cx="300.0" cy="400.8" r="1.5" fill="#b01c1c" stroke="#801414" stroke-width="0.4"/>
<circle cx="329.4" cy="385.7" r="1.5" fill="#2aa832" stroke="#1c7a22" stroke-width="0.4"/>
<circle cx="312.8" cy="433.7" r="1.5" fill="#1a1aa8" stroke="#10107a" stroke-width="0.4"/>
<circle cx="329.7" cy="418.3" r="1.5" fill="#1a1aa8" stroke="#10107a" stroke-width="0.4"/>
<circle cx="371.7" cy="379.7" r="1.5" fill="#1a1aa8" stroke="#10107a" stroke-width="0.4"/>
<circle cx="343.5" cy="386.2" r="1.5" fill="#b01c1c" stroke="#801414" stroke-width="0.4"/>
<circle cx="402.9" cy="410.3" r="1.5" fill="#1a1aa8" stroke="#10107a" stroke-width="0.4"/>
<circle cx="386.9" cy="372.0" r="1.5" fill="#b01c1c" stroke="#801414" stroke-width="0.4"/>
<circle cx="312.9" cy="383.5" r="1.5" fill="#2aa832" stroke="#1c7a22" stroke-width="0.4"/>
<circle cx="341.8" cy="440.1" r="1.5" fill="#1a1aa8" stroke="#10107a" stroke-width="0.4"/>
<circle cx="328.6" cy="369.1" r="1.5" fill="#2aa832" stroke="#1c7a22" stroke-width="0.4"/>
<circle cx="323.9" cy="338.6" r="1.5" fill="#b01c1c" stroke="#801414" stroke-width="0.4"/>
<circle cx="356.6" cy="382.9" r="1.5" fill="#1a1aa8" stroke="#10107a" stroke-width="0.4"/>
<circle cx="313.5" cy="431.7" r="1.5" fill="#1a1aa8" stroke="#10107a" stroke-width="0.4"/>
<circle cx="304.4" cy="392.0" r="1.5" fill="#2aa832" stroke="#1c7a22" stroke-width="0.4"/>
<circle cx="313.9" cy="401.2" r="1.5" fill="#1a1aa8" stroke="#10107a" stroke-width="0.4"/>
<circle cx="300.2" cy="428.2" r="1.5" fill="#1a1aa8" stroke="#10107a" stroke-width="0.4"/>
<circle cx="343.9" cy="423.1" r="1.5" fill="#1a1aa8" stroke="#10107a" stroke-width="0.4"/>
<circle cx="315.0" cy="416.6" r="1.5" fill="#1a1aa8" stroke="#10107a" stroke-width="0.4"/>
<circle cx="339.9" cy="352.8" r="1.5" fill="#b01c1c" stroke="#801414" stroke-width="0.4"/>
<circle cx="385.6" cy="402.2" r="1.5" fill="#b01c1c" stroke="#801414" stroke-width="0.4"/>
<circle cx="320.5" cy="463.8" r="1.5" fill="#b01c1c" stroke="#801414" stroke-width="0.4"/>
<circle cx="358.7" cy="417.5" r="1.5" fill="#2aa832" stroke="#1c7a22" stroke-width="0.4"/>
<circle cx="341.1" cy="437.7" r="1.5" fill="#2aa832" stroke="#1c7a22" stroke-width="0.4"/>
<circle cx="328.3" cy="442.6" r="1.5" fill="#b01c1c" stroke="#801414" stroke-width="0.4"/>
<circle cx="368.9" cy="407.9" r="1.5" fill="#b01c1c" stroke="#801414" stroke-width="0.4"/>
<circle cx="297.9" cy="366.9" r="1.5" fill="#1a1aa8" stroke="#10107a" stroke-width="0.4"/>
<circle cx="326.2" cy="395.4" r="1.5" fill="#2aa832" stroke="#1c7a22" stroke-width="0.4"/>
<circle cx="338.8" cy="357.5" r="1.5" fill="#1a1aa8" stroke="#10107a" stroke-width="0.4"/>
<circle cx="303.4" cy="445.7" r="1.5" fill="#1a1aa8" stroke="#10107a" stroke-width="0.4"/>
<circle cx="383.6" cy="386.7" r="1.5" fill="#b01c1c" stroke="#801414" stroke-width="0.4"/>
<circle cx="299.7" cy="426.5" r="1.5" fill="#2aa832" stroke="#1c7a22" stroke-width="0.4"/>
<circle cx="341.6" cy="420.1" r="1.5" fill="#1a1aa8" stroke="#10107a" stroke-width="0.4"/>
<circle cx="359.9" cy="385.9" r="1.5" fill="#2aa832" stroke="#1c7a22" stroke-width="0.4"/>
<circle cx="382.7" cy="435.6" r="1.5" fill="#1a1aa8" stroke="#10107a" stroke-width="0.4"/>
<circle cx="313.1" cy="441.7" r="1.5" fill="#2aa832" stroke="#1c7a22" stroke-width="0.4"/>
<circle cx="386.5" cy="355.0" r="1.5" fill="#2aa832" stroke="#1c7a22" stroke-width="0.4"/>
<circle cx="342.2" cy="405.9" r="1.5" fill="#1a1aa8" stroke="#10107a" stroke-width="0.4"/>
<circle cx="412.6" cy="363.9" r="1.5" fill="#1a1aa8" stroke="#10107a" stroke-width="0.4"/>
<circle cx="344.1" cy="438.7" r="1.5" fill="#b01c1c" stroke="#801414" stroke-width="0.4"/>
<circle cx="358.5" cy="442.1" r="1.5" fill="#b01c1c" stroke="#801414" stroke-width="0.4"/>
<circle cx="368.8" cy="385.2" r="1.5" fill="#b01c1c" stroke="#801414" stroke-width="0.4"/>
<circle cx="371.3" cy="436.7" r="1.5" fill="#2aa832" stroke="#1c7a22" stroke-width="0.4"/>
<circle cx="356.1" cy="390.0" r="1.5" fill="#b01c1c" stroke="#801414" stroke-width="0.4"/>
<circle cx="355.6" cy="387.4" r="1.5" fill="#1a1aa8" stroke="#10107a" stroke-width="0.4"/>
<circle cx="318.3" cy="357.2" r="1.5" fill="#1a1aa8" stroke="#10107a" stroke-width="0.4"/>
<circle cx="341.6" cy="371.7" r="1.5" fill="#2aa832" stroke="#1c7a22" stroke-width="0.4"/>
<circle cx="383.5" cy="393.0" r="1.5" fill="#1a1aa8" stroke="#10107a" stroke-width="0.4"/>
<circle cx="301.0" cy="358.7" r="1.5" fill="#2aa832" stroke="#1c7a22" stroke-width="0.4"/>
<circle cx="342.4" cy="424.9" r="1.5" fill="#2aa832" stroke="#1c7a22" stroke-width="0.4"/>
<circle cx="342.9" cy="431.5" r="1.5" fill="#2aa832" stroke="#1c7a22" stroke-width="0.4"/>
<circle cx="354.0" cy="331.3" r="1.5" fill="#1a1aa8" stroke="#10107a" stroke-width="0.4"/>
<circle cx="346.5" cy="349.7" r="1.5" fill="#b01c1c" stroke="#801414" stroke-width="0.4"/>
<circle cx="371.6" cy="435.6" r="1.5" fill="#1a1aa8" stroke="#10107a" stroke-width="0.4"/>
<circle cx="329.8" cy="374.5" r="1.5" fill="#1a1aa8" stroke="#10107a" stroke-width="0.4"/>
<circle cx="327.2" cy="403.2" r="1.5" fill="#2aa832" stroke="#1c7a22" stroke-width="0.4"/>
<ellipse cx="340.9" cy="403.0" rx="55.4" ry="71.1" transform="rotate(-6.4 340.9 403.0)" fill="#F8766D" fill-opacity="0.16"/>
<ellipse cx="353.9" cy="397.1" rx="66.4" ry="62.7" transform="rotate(-15.2 353.9 397.1)" fill="#00BA38" fill-opacity="0.16"/>
<ellipse cx="348.1" cy="396.6" rx="59.4" ry="61.6" transform="rotate(5.2 348.1 396.6)" fill="#619CFF" fill-opacity="0.16"/>
</g>
<rect x="268.8" y="300.0" width="176.70" height="180.30" fill="none" stroke="#111" stroke-width="1.6"/>
<clipPath id="clipf"><rect x="493.6" y="300.3" width="179.60000000000002" height="180.89999999999998"/></clipPath>
<g clip-path="url(#clipf)">
<circle cx="648.4" cy="354.4" r="1.5" fill="#1c34cc" stroke="#101c88" stroke-width="0.4"/>
<circle cx="576.8" cy="341.4" r="1.5" fill="#b81c1c" stroke="#841414" stroke-width="0.4"/>
<circle cx="625.1" cy="388.4" r="1.5" fill="#2cb032" stroke="#1c8022" stroke-width="0.4"/>
<circle cx="639.2" cy="355.9" r="1.5" fill="#1c34cc" stroke="#101c88" stroke-width="0.4"/>
<circle cx="631.4" cy="360.2" r="1.5" fill="#2cb032" stroke="#1c8022" stroke-width="0.4"/>
<circle cx="614.5" cy="338.7" r="1.5" fill="#b81c1c" stroke="#841414" stroke-width="0.4"/>
<circle cx="639.6" cy="446.9" r="1.5" fill="#1c34cc" stroke="#101c88" stroke-width="0.4"/>
<circle cx="610.2" cy="346.1" r="1.5" fill="#b81c1c" stroke="#841414" stroke-width="0.4"/>
<circle cx="649.8" cy="344.2" r="1.5" fill="#1c34cc" stroke="#101c88" stroke-width="0.4"/>
<circle cx="553.9" cy="337.1" r="1.5" fill="#b81c1c" stroke="#841414" stroke-width="0.4"/>
<circle cx="615.7" cy="346.2" r="1.5" fill="#2cb032" stroke="#1c8022" stroke-width="0.4"/>
<circle cx="630.0" cy="334.9" r="1.5" fill="#2cb032" stroke="#1c8022" stroke-width="0.4"/>
<circle cx="567.8" cy="356.8" r="1.5" fill="#b81c1c" stroke="#841414" stroke-width="0.4"/>
<circle cx="579.4" cy="359.0" r="1.5" fill="#b81c1c" stroke="#841414" stroke-width="0.4"/>
<circle cx="634.2" cy="364.5" r="1.5" fill="#2cb032" stroke="#1c8022" stroke-width="0.4"/>
<circle cx="640.6" cy="350.7" r="1.5" fill="#2cb032" stroke="#1c8022" stroke-width="0.4"/>
<circle cx="551.6" cy="372.6" r="1.5" fill="#b81c1c" stroke="#841414" stroke-width="0.4"/>
<circle cx="659.7" cy="369.7" r="1.5" fill="#1c34cc" stroke="#101c88" stroke-width="0.4"/>
<circle cx="622.8" cy="373.0" r="1.5" fill="#2cb032" stroke="#1c8022" stroke-width="0.4"/>
<circle cx="594.7" cy="330.6" r="1.5" fill="#b81c1c" stroke="#841414" stroke-width="0.4"/>
<circle cx="586.3" cy="324.4" r="1.5" fill="#b81c1c" stroke="#841414" stroke-width="0.4"/>
<circle cx="594.0" cy="342.4" r="1.5" fill="#b81c1c" stroke="#841414" stroke-width="0.4"/>
<circle cx="569.8" cy="371.0" r="1.5" fill="#b81c1c" stroke="#841414" stroke-width="0.4"/>
<circle cx="657.1" cy="353.7" r="1.5" fill="#1c34cc" stroke="#101c88" stroke-width="0.4"/>
<circle cx="654.6" cy="339.4" r="1.5" fill="#1c34cc" stroke="#101c88" stroke-width="0.4"/>
<circle cx="604.1" cy="345.9" r="1.5" fill="#b81c1c" stroke="#841414" stroke-width="0.4"/>
<circle cx="647.1" cy="369.8" r="1.5" fill="#1c34cc" stroke="#101c88" stroke-width="0.4"/>
<circle cx="600.8" cy="337.5" r="1.5" fill="#b81c1c" stroke="#841414" stroke-width="0.4"/>
<circle cx="638.5" cy="354.9" r="1.5" fill="#1c34cc" stroke="#101c88" stroke-width="0.4"/>
<circle cx="619.6" cy="367.4" r="1.5" fill="#2cb032" stroke="#1c8022" stroke-width="0.4"/>
<circle cx="651.3" cy="363.0" r="1.5" fill="#2cb032" stroke="#1c8022" stroke-width="0.4"/>
<circle cx="624.4" cy="396.0" r="1.5" fill="#2cb032" stroke="#1c8022" stroke-width="0.4"/>
<circle cx="649.3" cy="358.2" r="1.5" fill="#1c34cc" stroke="#101c88" stroke-width="0.4"/>
<circle cx="505.7" cy="405.4" r="1.5" fill="#b81c1c" stroke="#841414" stroke-width="0.4"/>
<circle cx="599.9" cy="341.1" r="1.5" fill="#b81c1c" stroke="#841414" stroke-width="0.4"/>
<circle cx="598.3" cy="331.4" r="1.5" fill="#b81c1c" stroke="#841414" stroke-width="0.4"/>
<circle cx="609.8" cy="322.9" r="1.5" fill="#b81c1c" stroke="#841414" stroke-width="0.4"/>
<circle cx="634.3" cy="345.3" r="1.5" fill="#1c34cc" stroke="#101c88" stroke-width="0.4"/>
<circle cx="643.7" cy="377.3" r="1.5" fill="#1c34cc" stroke="#101c88" stroke-width="0.4"/>
<circle cx="654.0" cy="379.8" r="1.5" fill="#1c34cc" stroke="#101c88" stroke-width="0.4"/>
<circle cx="643.8" cy="401.8" r="1.5" fill="#2cb032" stroke="#1c8022" stroke-width="0.4"/>
<circle cx="627.9" cy="365.2" r="1.5" fill="#2cb032" stroke="#1c8022" stroke-width="0.4"/>
<circle cx="646.8" cy="347.0" r="1.5" fill="#1c34cc" stroke="#101c88" stroke-width="0.4"/>
<circle cx="598.8" cy="343.2" r="1.5" fill="#b81c1c" stroke="#841414" stroke-width="0.4"/>
<circle cx="603.8" cy="395.3" r="1.5" fill="#2cb032" stroke="#1c8022" stroke-width="0.4"/>
<circle cx="623.5" cy="342.2" r="1.5" fill="#2cb032" stroke="#1c8022" stroke-width="0.4"/>
<circle cx="625.4" cy="415.1" r="1.5" fill="#1c34cc" stroke="#101c88" stroke-width="0.4"/>
<circle cx="563.2" cy="347.1" r="1.5" fill="#b81c1c" stroke="#841414" stroke-width="0.4"/>
<circle cx="506.4" cy="345.7" r="1.5" fill="#b81c1c" stroke="#841414" stroke-width="0.4"/>
<circle cx="629.7" cy="403.5" r="1.5" fill="#1c34cc" stroke="#101c88" stroke-width="0.4"/>
<circle cx="608.0" cy="350.2" r="1.5" fill="#b81c1c" stroke="#841414" stroke-width="0.4"/>
<circle cx="631.2" cy="349.9" r="1.5" fill="#2cb032" stroke="#1c8022" stroke-width="0.4"/>
<circle cx="591.0" cy="323.9" r="1.5" fill="#b81c1c" stroke="#841414" stroke-width="0.4"/>
<circle cx="644.0" cy="363.1" r="1.5" fill="#1c34cc" stroke="#101c88" stroke-width="0.4"/>
<circle cx="618.6" cy="339.6" r="1.5" fill="#b81c1c" stroke="#841414" stroke-width="0.4"/>
<circle cx="649.3" cy="347.0" r="1.5" fill="#1c34cc" stroke="#101c88" stroke-width="0.4"/>
<circle cx="647.2" cy="336.2" r="1.5" fill="#1c34cc" stroke="#101c88" stroke-width="0.4"/>
<circle cx="612.6" cy="326.1" r="1.5" fill="#b81c1c" stroke="#841414" stroke-width="0.4"/>
<circle cx="649.3" cy="353.1" r="1.5" fill="#1c34cc" stroke="#101c88" stroke-width="0.4"/>
<circle cx="607.4" cy="323.9" r="1.5" fill="#b81c1c" stroke="#841414" stroke-width="0.4"/>
<circle cx="647.8" cy="368.2" r="1.5" fill="#1c34cc" stroke="#101c88" stroke-width="0.4"/>
<circle cx="585.0" cy="343.1" r="1.5" fill="#b81c1c" stroke="#841414" stroke-width="0.4"/>
<circle cx="609.3" cy="343.3" r="1.5" fill="#2cb032" stroke="#1c8022" stroke-width="0.4"/>
<circle cx="648.1" cy="369.9" r="1.5" fill="#2cb032" stroke="#1c8022" stroke-width="0.4"/>
<circle cx="645.6" cy="354.5" r="1.5" fill="#1c34cc" stroke="#101c88" stroke-width="0.4"/>
<circle cx="601.5" cy="357.9" r="1.5" fill="#b81c1c" stroke="#841414" stroke-width="0.4"/>
<circle cx="640.8" cy="359.7" r="1.5" fill="#2cb032" stroke="#1c8022" stroke-width="0.4"/>
<circle cx="568.1" cy="332.1" r="1.5" fill="#b81c1c" stroke="#841414" stroke-width="0.4"/>
<circle cx="574.0" cy="321.9" r="1.5" fill="#b81c1c" stroke="#841414" stroke-width="0.4"/>
<circle cx="619.8" cy="356.5" r="1.5" fill="#2cb032" stroke="#1c8022" stroke-width="0.4"/>
<circle cx="617.4" cy="322.9" r="1.5" fill="#b81c1c" stroke="#841414" stroke-width="0.4"/>
<circle cx="608.8" cy="347.3" r="1.5" fill="#b81c1c" stroke="#841414" stroke-width="0.4"/>
<circle cx="568.6" cy="358.4" r="1.5" fill="#b81c1c" stroke="#841414" stroke-width="0.4"/>
<circle cx="636.0" cy="340.7" r="1.5" fill="#1c34cc" stroke="#101c88" stroke-width="0.4"/>
<circle cx="580.9" cy="331.4" r="1.5" fill="#1c34cc" stroke="#101c88" stroke-width="0.4"/>
<circle cx="651.3" cy="349.4" r="1.5" fill="#1c34cc" stroke="#101c88" stroke-width="0.4"/>
<circle cx="582.7" cy="334.6" r="1.5" fill="#b81c1c" stroke="#841414" stroke-width="0.4"/>
<circle cx="649.7" cy="346.4" r="1.5" fill="#1c34cc" stroke="#101c88" stroke-width="0.4"/>
<circle cx="609.9" cy="340.1" r="1.5" fill="#b81c1c" stroke="#841414" stroke-width="0.4"/>
<circle cx="654.4" cy="346.6" r="1.5" fill="#1c34cc" stroke="#101c88" stroke-width="0.4"/>
<circle cx="660.2" cy="355.7" r="1.5" fill="#1c34cc" stroke="#101c88" stroke-width="0.4"/>
<circle cx="647.2" cy="347.8" r="1.5" fill="#1c34cc" stroke="#101c88" stroke-width="0.4"/>
<circle cx="498.6" cy="476.8" r="1.5" fill="#b81c1c" stroke="#841414" stroke-width="0.4"/>
<circle cx="654.6" cy="355.3" r="1.5" fill="#1c34cc" stroke="#101c88" stroke-width="0.4"/>
<circle cx="600.0" cy="414.6" r="1.5" fill="#1c34cc" stroke="#101c88" stroke-width="0.4"/>
<circle cx="615.5" cy="412.2" r="1.5" fill="#1c34cc" stroke="#101c88" stroke-width="0.4"/>
<circle cx="616.8" cy="357.8" r="1.5" fill="#2cb032" stroke="#1c8022" stroke-width="0.4"/>
<circle cx="634.6" cy="347.8" r="1.5" fill="#1c34cc" stroke="#101c88" stroke-width="0.4"/>
<circle cx="657.8" cy="358.2" r="1.5" fill="#1c34cc" stroke="#101c88" stroke-width="0.4"/>
<circle cx="527.4" cy="392.1" r="1.5" fill="#b81c1c" stroke="#841414" stroke-width="0.4"/>
<circle cx="646.9" cy="348.8" r="1.5" fill="#1c34cc" stroke="#101c88" stroke-width="0.4"/>
<circle cx="603.6" cy="340.6" r="1.5" fill="#b81c1c" stroke="#841414" stroke-width="0.4"/>
<circle cx="632.8" cy="349.3" r="1.5" fill="#2cb032" stroke="#1c8022" stroke-width="0.4"/>
<circle cx="613.0" cy="329.9" r="1.5" fill="#b81c1c" stroke="#841414" stroke-width="0.4"/>
<circle cx="626.1" cy="359.9" r="1.5" fill="#2cb032" stroke="#1c8022" stroke-width="0.4"/>
<circle cx="632.9" cy="316.4" r="1.5" fill="#2cb032" stroke="#1c8022" stroke-width="0.4"/>
<circle cx="609.6" cy="386.0" r="1.5" fill="#2cb032" stroke="#1c8022" stroke-width="0.4"/>
<circle cx="613.7" cy="360.3" r="1.5" fill="#2cb032" stroke="#1c8022" stroke-width="0.4"/>
<circle cx="650.2" cy="344.7" r="1.5" fill="#1c34cc" stroke="#101c88" stroke-width="0.4"/>
<circle cx="639.0" cy="358.7" r="1.5" fill="#1c34cc" stroke="#101c88" stroke-width="0.4"/>
<circle cx="654.3" cy="369.1" r="1.5" fill="#1c34cc" stroke="#101c88" stroke-width="0.4"/>
<circle cx="646.4" cy="350.7" r="1.5" fill="#2cb032" stroke="#1c8022" stroke-width="0.4"/>
<circle cx="664.3" cy="374.6" r="1.5" fill="#1c34cc" stroke="#101c88" stroke-width="0.4"/>
<circle cx="640.8" cy="346.9" r="1.5" fill="#1c34cc" stroke="#101c88" stroke-width="0.4"/>
<circle cx="589.8" cy="327.8" r="1.5" fill="#b81c1c" stroke="#841414" stroke-width="0.4"/>
<circle cx="634.4" cy="355.5" r="1.5" fill="#1c34cc" stroke="#101c88" stroke-width="0.4"/>
<circle cx="646.8" cy="380.3" r="1.5" fill="#1c34cc" stroke="#101c88" stroke-width="0.4"/>
<circle cx="597.1" cy="332.2" r="1.5" fill="#b81c1c" stroke="#841414" stroke-width="0.4"/>
<circle cx="578.3" cy="351.0" r="1.5" fill="#b81c1c" stroke="#841414" stroke-width="0.4"/>
<circle cx="632.5" cy="368.0" r="1.5" fill="#1c34cc" stroke="#101c88" stroke-width="0.4"/>
<circle cx="604.3" cy="403.8" r="1.5" fill="#2cb032" stroke="#1c8022" stroke-width="0.4"/>
<circle cx="637.5" cy="349.8" r="1.5" fill="#1c34cc" stroke="#101c88" stroke-width="0.4"/>
<circle cx="628.7" cy="339.5" r="1.5" fill="#2cb032" stroke="#1c8022" stroke-width="0.4"/>
<circle cx="603.8" cy="330.9" r="1.5" fill="#b81c1c" stroke="#841414" stroke-width="0.4"/>
<circle cx="660.4" cy="362.4" r="1.5" fill="#1c34cc" stroke="#101c88" stroke-width="0.4"/>
<circle cx="628.9" cy="350.5" r="1.5" fill="#1c34cc" stroke="#101c88" stroke-width="0.4"/>
<circle cx="564.4" cy="373.7" r="1.5" fill="#b81c1c" stroke="#841414" stroke-width="0.4"/>
<circle cx="607.4" cy="315.5" r="1.5" fill="#b81c1c" stroke="#841414" stroke-width="0.4"/>
<circle cx="643.5" cy="365.7" r="1.5" fill="#1c34cc" stroke="#101c88" stroke-width="0.4"/>
<circle cx="623.6" cy="343.7" r="1.5" fill="#2cb032" stroke="#1c8022" stroke-width="0.4"/>
<circle cx="603.1" cy="343.1" r="1.5" fill="#b81c1c" stroke="#841414" stroke-width="0.4"/>
<circle cx="636.3" cy="361.1" r="1.5" fill="#2cb032" stroke="#1c8022" stroke-width="0.4"/>
<circle cx="593.3" cy="344.0" r="1.5" fill="#b81c1c" stroke="#841414" stroke-width="0.4"/>
<circle cx="605.6" cy="354.8" r="1.5" fill="#b81c1c" stroke="#841414" stroke-width="0.4"/>
<circle cx="626.6" cy="306.3" r="1.5" fill="#b81c1c" stroke="#841414" stroke-width="0.4"/>
<circle cx="623.4" cy="356.0" r="1.5" fill="#1c34cc" stroke="#101c88" stroke-width="0.4"/>
<circle cx="627.5" cy="380.8" r="1.5" fill="#2cb032" stroke="#1c8022" stroke-width="0.4"/>
<circle cx="601.4" cy="324.7" r="1.5" fill="#b81c1c" stroke="#841414" stroke-width="0.4"/>
<circle cx="598.4" cy="319.3" r="1.5" fill="#b81c1c" stroke="#841414" stroke-width="0.4"/>
<circle cx="610.7" cy="311.3" r="1.5" fill="#b81c1c" stroke="#841414" stroke-width="0.4"/>
<circle cx="662.2" cy="372.2" r="1.5" fill="#1c34cc" stroke="#101c88" stroke-width="0.4"/>
<circle cx="649.9" cy="377.0" r="1.5" fill="#1c34cc" stroke="#101c88" stroke-width="0.4"/>
<circle cx="629.3" cy="364.6" r="1.5" fill="#2cb032" stroke="#1c8022" stroke-width="0.4"/>
<circle cx="631.4" cy="351.9" r="1.5" fill="#2cb032" stroke="#1c8022" stroke-width="0.4"/>
<circle cx="626.5" cy="393.2" r="1.5" fill="#2cb032" stroke="#1c8022" stroke-width="0.4"/>
<circle cx="606.6" cy="326.5" r="1.5" fill="#b81c1c" stroke="#841414" stroke-width="0.4"/>
<circle cx="648.4" cy="361.6" r="1.5" fill="#1c34cc" stroke="#101c88" stroke-width="0.4"/>
<circle cx="661.4" cy="371.4" r="1.5" fill="#1c34cc" stroke="#101c88" stroke-width="0.4"/>
<circle cx="638.1" cy="344.8" r="1.5" fill="#1c34cc" stroke="#101c88" stroke-width="0.4"/>
<circle cx="602.2" cy="331.9" r="1.5" fill="#b81c1c" stroke="#841414" stroke-width="0.4"/>
<circle cx="596.4" cy="335.5" r="1.5" fill="#b81c1c" stroke="#841414" stroke-width="0.4"/>
<circle cx="621.5" cy="367.1" r="1.5" fill="#2cb032" stroke="#1c8022" stroke-width="0.4"/>
<circle cx="643.9" cy="369.5" r="1.5" fill="#1c34cc" stroke="#101c88" stroke-width="0.4"/>
<circle cx="628.0" cy="352.1" r="1.5" fill="#2cb032" stroke="#1c8022" stroke-width="0.4"/>
<circle cx="614.9" cy="319.3" r="1.5" fill="#b81c1c" stroke="#841414" stroke-width="0.4"/>
<circle cx="637.6" cy="336.2" r="1.5" fill="#1c34cc" stroke="#101c88" stroke-width="0.4"/>
<circle cx="661.4" cy="368.0" r="1.5" fill="#1c34cc" stroke="#101c88" stroke-width="0.4"/>
<circle cx="602.8" cy="386.6" r="1.5" fill="#2cb032" stroke="#1c8022" stroke-width="0.4"/>
<circle cx="557.3" cy="314.2" r="1.5" fill="#b81c1c" stroke="#841414" stroke-width="0.4"/>
<circle cx="659.3" cy="334.3" r="1.5" fill="#1c34cc" stroke="#101c88" stroke-width="0.4"/>
<circle cx="653.9" cy="354.1" r="1.5" fill="#1c34cc" stroke="#101c88" stroke-width="0.4"/>
<circle cx="639.2" cy="352.6" r="1.5" fill="#2cb032" stroke="#1c8022" stroke-width="0.4"/>
<circle cx="645.0" cy="354.0" r="1.5" fill="#2cb032" stroke="#1c8022" stroke-width="0.4"/>
<circle cx="587.9" cy="354.1" r="1.5" fill="#b81c1c" stroke="#841414" stroke-width="0.4"/>
<circle cx="609.1" cy="331.8" r="1.5" fill="#b81c1c" stroke="#841414" stroke-width="0.4"/>
<circle cx="644.7" cy="356.9" r="1.5" fill="#2cb032" stroke="#1c8022" stroke-width="0.4"/>
<circle cx="587.1" cy="369.8" r="1.5" fill="#b81c1c" stroke="#841414" stroke-width="0.4"/>
<circle cx="625.2" cy="353.4" r="1.5" fill="#2cb032" stroke="#1c8022" stroke-width="0.4"/>
<circle cx="642.3" cy="355.7" r="1.5" fill="#2cb032" stroke="#1c8022" stroke-width="0.4"/>
<circle cx="614.1" cy="325.3" r="1.5" fill="#b81c1c" stroke="#841414" stroke-width="0.4"/>
<circle cx="643.2" cy="346.4" r="1.5" fill="#1c34cc" stroke="#101c88" stroke-width="0.4"/>
<circle cx="635.7" cy="352.0" r="1.5" fill="#1c34cc" stroke="#101c88" stroke-width="0.4"/>
<circle cx="604.6" cy="347.9" r="1.5" fill="#b81c1c" stroke="#841414" stroke-width="0.4"/>
<circle cx="610.8" cy="386.0" r="1.5" fill="#2cb032" stroke="#1c8022" stroke-width="0.4"/>
<circle cx="600.5" cy="328.8" r="1.5" fill="#b81c1c" stroke="#841414" stroke-width="0.4"/>
<circle cx="627.0" cy="389.2" r="1.5" fill="#2cb032" stroke="#1c8022" stroke-width="0.4"/>
<circle cx="629.3" cy="316.4" r="1.5" fill="#2cb032" stroke="#1c8022" stroke-width="0.4"/>
<circle cx="612.9" cy="335.4" r="1.5" fill="#b81c1c" stroke="#841414" stroke-width="0.4"/>
<circle cx="650.4" cy="339.5" r="1.5" fill="#1c34cc" stroke="#101c88" stroke-width="0.4"/>
<circle cx="600.3" cy="334.0" r="1.5" fill="#b81c1c" stroke="#841414" stroke-width="0.4"/>
<circle cx="627.8" cy="345.7" r="1.5" fill="#2cb032" stroke="#1c8022" stroke-width="0.4"/>
<circle cx="605.1" cy="326.4" r="1.5" fill="#b81c1c" stroke="#841414" stroke-width="0.4"/>
<circle cx="635.0" cy="350.2" r="1.5" fill="#1c34cc" stroke="#101c88" stroke-width="0.4"/>
<circle cx="591.7" cy="304.9" r="1.5" fill="#b81c1c" stroke="#841414" stroke-width="0.4"/>
<circle cx="516.2" cy="426.5" r="1.5" fill="#b81c1c" stroke="#841414" stroke-width="0.4"/>
<circle cx="647.5" cy="353.5" r="1.5" fill="#2cb032" stroke="#1c8022" stroke-width="0.4"/>
<circle cx="651.5" cy="360.4" r="1.5" fill="#1c34cc" stroke="#101c88" stroke-width="0.4"/>
<circle cx="633.8" cy="345.6" r="1.5" fill="#1c34cc" stroke="#101c88" stroke-width="0.4"/>
<circle cx="649.3" cy="335.5" r="1.5" fill="#1c34cc" stroke="#101c88" stroke-width="0.4"/>
<circle cx="660.0" cy="342.6" r="1.5" fill="#1c34cc" stroke="#101c88" stroke-width="0.4"/>
<circle cx="653.3" cy="352.3" r="1.5" fill="#1c34cc" stroke="#101c88" stroke-width="0.4"/>
<circle cx="651.9" cy="341.5" r="1.5" fill="#1c34cc" stroke="#101c88" stroke-width="0.4"/>
<circle cx="639.4" cy="350.0" r="1.5" fill="#1c34cc" stroke="#101c88" stroke-width="0.4"/>
<circle cx="635.5" cy="356.7" r="1.5" fill="#2cb032" stroke="#1c8022" stroke-width="0.4"/>
<circle cx="640.9" cy="352.0" r="1.5" fill="#1c34cc" stroke="#101c88" stroke-width="0.4"/>
<circle cx="610.7" cy="352.2" r="1.5" fill="#2cb032" stroke="#1c8022" stroke-width="0.4"/>
<circle cx="639.4" cy="360.8" r="1.5" fill="#1c34cc" stroke="#101c88" stroke-width="0.4"/>
<circle cx="628.1" cy="397.3" r="1.5" fill="#2cb032" stroke="#1c8022" stroke-width="0.4"/>
<circle cx="605.6" cy="368.4" r="1.5" fill="#1c34cc" stroke="#101c88" stroke-width="0.4"/>
<circle cx="617.3" cy="327.4" r="1.5" fill="#b81c1c" stroke="#841414" stroke-width="0.4"/>
<circle cx="573.2" cy="318.2" r="1.5" fill="#b81c1c" stroke="#841414" stroke-width="0.4"/>
<circle cx="639.4" cy="353.0" r="1.5" fill="#1c34cc" stroke="#101c88" stroke-width="0.4"/>
<circle cx="650.1" cy="335.6" r="1.5" fill="#1c34cc" stroke="#101c88" stroke-width="0.4"/>
<circle cx="631.5" cy="357.7" r="1.5" fill="#2cb032" stroke="#1c8022" stroke-width="0.4"/>
<circle cx="588.6" cy="345.7" r="1.5" fill="#b81c1c" stroke="#841414" stroke-width="0.4"/>
<circle cx="652.1" cy="368.8" r="1.5" fill="#2cb032" stroke="#1c8022" stroke-width="0.4"/>
<circle cx="621.1" cy="363.9" r="1.5" fill="#2cb032" stroke="#1c8022" stroke-width="0.4"/>
<circle cx="635.2" cy="369.5" r="1.5" fill="#1c34cc" stroke="#101c88" stroke-width="0.4"/>
<circle cx="634.1" cy="346.6" r="1.5" fill="#2cb032" stroke="#1c8022" stroke-width="0.4"/>
<circle cx="612.9" cy="332.7" r="1.5" fill="#b81c1c" stroke="#841414" stroke-width="0.4"/>
<circle cx="604.1" cy="325.8" r="1.5" fill="#b81c1c" stroke="#841414" stroke-width="0.4"/>
<circle cx="600.5" cy="379.1" r="1.5" fill="#2cb032" stroke="#1c8022" stroke-width="0.4"/>
<circle cx="658.2" cy="343.5" r="1.5" fill="#1c34cc" stroke="#101c88" stroke-width="0.4"/>
<circle cx="580.5" cy="327.0" r="1.5" fill="#b81c1c" stroke="#841414" stroke-width="0.4"/>
<circle cx="669.0" cy="355.8" r="1.5" fill="#1c34cc" stroke="#101c88" stroke-width="0.4"/>
<circle cx="650.1" cy="356.5" r="1.5" fill="#1c34cc" stroke="#101c88" stroke-width="0.4"/>
<circle cx="531.7" cy="439.9" r="1.5" fill="#b81c1c" stroke="#841414" stroke-width="0.4"/>
<circle cx="568.3" cy="310.8" r="1.5" fill="#b81c1c" stroke="#841414" stroke-width="0.4"/>
<circle cx="641.4" cy="377.4" r="1.5" fill="#1c34cc" stroke="#101c88" stroke-width="0.4"/>
<circle cx="661.1" cy="355.7" r="1.5" fill="#1c34cc" stroke="#101c88" stroke-width="0.4"/>
<circle cx="641.4" cy="358.4" r="1.5" fill="#1c34cc" stroke="#101c88" stroke-width="0.4"/>
<circle cx="644.4" cy="369.7" r="1.5" fill="#1c34cc" stroke="#101c88" stroke-width="0.4"/>
<circle cx="644.1" cy="349.1" r="1.5" fill="#1c34cc" stroke="#101c88" stroke-width="0.4"/>
<circle cx="585.6" cy="341.7" r="1.5" fill="#b81c1c" stroke="#841414" stroke-width="0.4"/>
<circle cx="646.8" cy="353.2" r="1.5" fill="#1c34cc" stroke="#101c88" stroke-width="0.4"/>
<circle cx="634.7" cy="357.0" r="1.5" fill="#1c34cc" stroke="#101c88" stroke-width="0.4"/>
<circle cx="594.7" cy="335.7" r="1.5" fill="#b81c1c" stroke="#841414" stroke-width="0.4"/>
<circle cx="641.2" cy="347.0" r="1.5" fill="#1c34cc" stroke="#101c88" stroke-width="0.4"/>
<circle cx="660.2" cy="347.6" r="1.5" fill="#1c34cc" stroke="#101c88" stroke-width="0.4"/>
<circle cx="600.5" cy="336.5" r="1.5" fill="#b81c1c" stroke="#841414" stroke-width="0.4"/>
<circle cx="614.7" cy="315.5" r="1.5" fill="#b81c1c" stroke="#841414" stroke-width="0.4"/>
<circle cx="602.9" cy="335.8" r="1.5" fill="#b81c1c" stroke="#841414" stroke-width="0.4"/>
<circle cx="604.9" cy="315.1" r="1.5" fill="#b81c1c" stroke="#841414" stroke-width="0.4"/>
<circle cx="643.9" cy="373.2" r="1.5" fill="#1c34cc" stroke="#101c88" stroke-width="0.4"/>
<circle cx="661.2" cy="355.1" r="1.5" fill="#1c34cc" stroke="#101c88" stroke-width="0.4"/>
<circle cx="613.1" cy="332.3" r="1.5" fill="#b81c1c" stroke="#841414" stroke-width="0.4"/>
<circle cx="608.1" cy="339.9" r="1.5" fill="#b81c1c" stroke="#841414" stroke-width="0.4"/>
<circle cx="596.1" cy="336.6" r="1.5" fill="#b81c1c" stroke="#841414" stroke-width="0.4"/>
<circle cx="652.2" cy="342.3" r="1.5" fill="#1c34cc" stroke="#101c88" stroke-width="0.4"/>
<circle cx="630.8" cy="363.2" r="1.5" fill="#2cb032" stroke="#1c8022" stroke-width="0.4"/>
<circle cx="616.4" cy="361.0" r="1.5" fill="#2cb032" stroke="#1c8022" stroke-width="0.4"/>
<circle cx="670.0" cy="372.9" r="1.5" fill="#1c34cc" stroke="#101c88" stroke-width="0.4"/>
<circle cx="639.5" cy="369.9" r="1.5" fill="#1c34cc" stroke="#101c88" stroke-width="0.4"/>
<circle cx="647.5" cy="327.8" r="1.5" fill="#1c34cc" stroke="#101c88" stroke-width="0.4"/>
<circle cx="621.5" cy="383.9" r="1.5" fill="#2cb032" stroke="#1c8022" stroke-width="0.4"/>
<circle cx="610.4" cy="330.7" r="1.5" fill="#b81c1c" stroke="#841414" stroke-width="0.4"/>
<circle cx="607.2" cy="333.7" r="1.5" fill="#b81c1c" stroke="#841414" stroke-width="0.4"/>
<circle cx="621.3" cy="354.2" r="1.5" fill="#2cb032" stroke="#1c8022" stroke-width="0.4"/>
<circle cx="603.2" cy="325.9" r="1.5" fill="#b81c1c" stroke="#841414" stroke-width="0.4"/>
<circle cx="551.9" cy="372.7" r="1.5" fill="#b81c1c" stroke="#841414" stroke-width="0.4"/>
<circle cx="577.8" cy="344.8" r="1.5" fill="#b81c1c" stroke="#841414" stroke-width="0.4"/>
<circle cx="595.4" cy="333.8" r="1.5" fill="#b81c1c" stroke="#841414" stroke-width="0.4"/>
<circle cx="619.6" cy="330.5" r="1.5" fill="#b81c1c" stroke="#841414" stroke-width="0.4"/>
<circle cx="635.0" cy="353.2" r="1.5" fill="#1c34cc" stroke="#101c88" stroke-width="0.4"/>
<circle cx="640.3" cy="358.6" r="1.5" fill="#1c34cc" stroke="#101c88" stroke-width="0.4"/>
<circle cx="603.0" cy="386.0" r="1.5" fill="#2cb032" stroke="#1c8022" stroke-width="0.4"/>
<circle cx="648.1" cy="348.5" r="1.5" fill="#1c34cc" stroke="#101c88" stroke-width="0.4"/>
<circle cx="649.2" cy="339.9" r="1.5" fill="#1c34cc" stroke="#101c88" stroke-width="0.4"/>
<circle cx="635.1" cy="441.6" r="1.5" fill="#2cb032" stroke="#1c8022" stroke-width="0.4"/>
<circle cx="553.1" cy="357.2" r="1.5" fill="#b81c1c" stroke="#841414" stroke-width="0.4"/>
<circle cx="637.5" cy="348.3" r="1.5" fill="#1c34cc" stroke="#101c88" stroke-width="0.4"/>
<circle cx="647.4" cy="344.8" r="1.5" fill="#1c34cc" stroke="#101c88" stroke-width="0.4"/>
<circle cx="613.4" cy="363.7" r="1.5" fill="#2cb032" stroke="#1c8022" stroke-width="0.4"/>
<circle cx="647.1" cy="397.6" r="1.5" fill="#1c34cc" stroke="#101c88" stroke-width="0.4"/>
<circle cx="645.1" cy="341.9" r="1.5" fill="#1c34cc" stroke="#101c88" stroke-width="0.4"/>
<circle cx="593.2" cy="342.7" r="1.5" fill="#b81c1c" stroke="#841414" stroke-width="0.4"/>
<circle cx="627.6" cy="339.7" r="1.5" fill="#2cb032" stroke="#1c8022" stroke-width="0.4"/>
<circle cx="594.1" cy="351.0" r="1.5" fill="#b81c1c" stroke="#841414" stroke-width="0.4"/>
<circle cx="637.5" cy="363.9" r="1.5" fill="#1c34cc" stroke="#101c88" stroke-width="0.4"/>
<circle cx="596.8" cy="303.4" r="1.5" fill="#b81c1c" stroke="#841414" stroke-width="0.4"/>
<circle cx="669.5" cy="372.6" r="1.5" fill="#1c34cc" stroke="#101c88" stroke-width="0.4"/>
<circle cx="623.8" cy="334.9" r="1.5" fill="#b81c1c" stroke="#841414" stroke-width="0.4"/>
<circle cx="661.7" cy="362.0" r="1.5" fill="#1c34cc" stroke="#101c88" stroke-width="0.4"/>
<circle cx="567.0" cy="348.6" r="1.5" fill="#b81c1c" stroke="#841414" stroke-width="0.4"/>
<circle cx="540.0" cy="350.2" r="1.5" fill="#b81c1c" stroke="#841414" stroke-width="0.4"/>
<circle cx="639.8" cy="355.1" r="1.5" fill="#2cb032" stroke="#1c8022" stroke-width="0.4"/>
<circle cx="650.9" cy="349.1" r="1.5" fill="#1c34cc" stroke="#101c88" stroke-width="0.4"/>
<circle cx="646.7" cy="345.2" r="1.5" fill="#1c34cc" stroke="#101c88" stroke-width="0.4"/>
<circle cx="649.4" cy="375.3" r="1.5" fill="#1c34cc" stroke="#101c88" stroke-width="0.4"/>
<circle cx="656.1" cy="342.4" r="1.5" fill="#1c34cc" stroke="#101c88" stroke-width="0.4"/>
<circle cx="636.8" cy="356.7" r="1.5" fill="#1c34cc" stroke="#101c88" stroke-width="0.4"/>
<circle cx="629.8" cy="361.1" r="1.5" fill="#2cb032" stroke="#1c8022" stroke-width="0.4"/>
<circle cx="642.0" cy="354.4" r="1.5" fill="#2cb032" stroke="#1c8022" stroke-width="0.4"/>
<circle cx="643.3" cy="342.6" r="1.5" fill="#1c34cc" stroke="#101c88" stroke-width="0.4"/>
<circle cx="612.3" cy="344.0" r="1.5" fill="#1c34cc" stroke="#101c88" stroke-width="0.4"/>
<circle cx="650.1" cy="356.0" r="1.5" fill="#1c34cc" stroke="#101c88" stroke-width="0.4"/>
<circle cx="628.9" cy="348.2" r="1.5" fill="#2cb032" stroke="#1c8022" stroke-width="0.4"/>
<circle cx="630.2" cy="354.4" r="1.5" fill="#2cb032" stroke="#1c8022" stroke-width="0.4"/>
<circle cx="593.7" cy="331.2" r="1.5" fill="#b81c1c" stroke="#841414" stroke-width="0.4"/>
<circle cx="519.0" cy="354.5" r="1.5" fill="#b81c1c" stroke="#841414" stroke-width="0.4"/>
<circle cx="614.3" cy="364.0" r="1.5" fill="#2cb032" stroke="#1c8022" stroke-width="0.4"/>
<circle cx="584.8" cy="346.6" r="1.5" fill="#b81c1c" stroke="#841414" stroke-width="0.4"/>
<circle cx="594.4" cy="317.3" r="1.5" fill="#b81c1c" stroke="#841414" stroke-width="0.4"/>
<circle cx="647.8" cy="332.5" r="1.5" fill="#1c34cc" stroke="#101c88" stroke-width="0.4"/>
<circle cx="645.6" cy="362.9" r="1.5" fill="#1c34cc" stroke="#101c88" stroke-width="0.4"/>
<circle cx="659.9" cy="361.7" r="1.5" fill="#1c34cc" stroke="#101c88" stroke-width="0.4"/>
<circle cx="647.1" cy="321.1" r="1.5" fill="#1c34cc" stroke="#101c88" stroke-width="0.4"/>
<circle cx="544.6" cy="360.5" r="1.5" fill="#b81c1c" stroke="#841414" stroke-width="0.4"/>
<circle cx="666.0" cy="353.6" r="1.5" fill="#1c34cc" stroke="#101c88" stroke-width="0.4"/>
<circle cx="604.9" cy="343.2" r="1.5" fill="#2cb032" stroke="#1c8022" stroke-width="0.4"/>
<circle cx="611.2" cy="325.3" r="1.5" fill="#b81c1c" stroke="#841414" stroke-width="0.4"/>
<circle cx="637.1" cy="350.4" r="1.5" fill="#2cb032" stroke="#1c8022" stroke-width="0.4"/>
<circle cx="604.8" cy="346.9" r="1.5" fill="#b81c1c" stroke="#841414" stroke-width="0.4"/>
<circle cx="628.1" cy="361.7" r="1.5" fill="#1c34cc" stroke="#101c88" stroke-width="0.4"/>
<circle cx="649.4" cy="364.7" r="1.5" fill="#1c34cc" stroke="#101c88" stroke-width="0.4"/>
<circle cx="636.1" cy="344.2" r="1.5" fill="#1c34cc" stroke="#101c88" stroke-width="0.4"/>
<circle cx="566.3" cy="340.5" r="1.5" fill="#b81c1c" stroke="#841414" stroke-width="0.4"/>
<circle cx="652.3" cy="348.2" r="1.5" fill="#1c34cc" stroke="#101c88" stroke-width="0.4"/>
<circle cx="634.6" cy="388.9" r="1.5" fill="#1c34cc" stroke="#101c88" stroke-width="0.4"/>
<circle cx="552.8" cy="359.2" r="1.5" fill="#b81c1c" stroke="#841414" stroke-width="0.4"/>
<circle cx="643.9" cy="350.8" r="1.5" fill="#1c34cc" stroke="#101c88" stroke-width="0.4"/>
<circle cx="662.6" cy="345.7" r="1.5" fill="#1c34cc" stroke="#101c88" stroke-width="0.4"/>
<circle cx="642.4" cy="376.3" r="1.5" fill="#1c34cc" stroke="#101c88" stroke-width="0.4"/>
<circle cx="656.8" cy="383.5" r="1.5" fill="#1c34cc" stroke="#101c88" stroke-width="0.4"/>
<circle cx="609.0" cy="327.1" r="1.5" fill="#b81c1c" stroke="#841414" stroke-width="0.4"/>
<circle cx="608.2" cy="322.5" r="1.5" fill="#b81c1c" stroke="#841414" stroke-width="0.4"/>
<circle cx="544.6" cy="323.5" r="1.5" fill="#b81c1c" stroke="#841414" stroke-width="0.4"/>
<circle cx="641.2" cy="352.6" r="1.5" fill="#1c34cc" stroke="#101c88" stroke-width="0.4"/>
<circle cx="622.3" cy="350.9" r="1.5" fill="#2cb032" stroke="#1c8022" stroke-width="0.4"/>
<circle cx="645.8" cy="345.9" r="1.5" fill="#1c34cc" stroke="#101c88" stroke-width="0.4"/>
<circle cx="630.6" cy="351.7" r="1.5" fill="#1c34cc" stroke="#101c88" stroke-width="0.4"/>
<circle cx="592.8" cy="358.4" r="1.5" fill="#b81c1c" stroke="#841414" stroke-width="0.4"/>
<circle cx="635.0" cy="339.1" r="1.5" fill="#1c34cc" stroke="#101c88" stroke-width="0.4"/>
<circle cx="662.5" cy="358.9" r="1.5" fill="#1c34cc" stroke="#101c88" stroke-width="0.4"/>
<circle cx="638.7" cy="342.8" r="1.5" fill="#1c34cc" stroke="#101c88" stroke-width="0.4"/>
<circle cx="601.7" cy="334.9" r="1.5" fill="#b81c1c" stroke="#841414" stroke-width="0.4"/>
<circle cx="623.0" cy="380.8" r="1.5" fill="#1c34cc" stroke="#101c88" stroke-width="0.4"/>
<circle cx="655.1" cy="364.3" r="1.5" fill="#1c34cc" stroke="#101c88" stroke-width="0.4"/>
<circle cx="643.7" cy="342.8" r="1.5" fill="#1c34cc" stroke="#101c88" stroke-width="0.4"/>
<circle cx="620.5" cy="399.7" r="1.5" fill="#1c34cc" stroke="#101c88" stroke-width="0.4"/>
<circle cx="621.5" cy="363.7" r="1.5" fill="#2cb032" stroke="#1c8022" stroke-width="0.4"/>
<circle cx="643.0" cy="345.3" r="1.5" fill="#1c34cc" stroke="#101c88" stroke-width="0.4"/>
<circle cx="582.0" cy="357.5" r="1.5" fill="#b81c1c" stroke="#841414" stroke-width="0.4"/>
<circle cx="658.6" cy="369.3" r="1.5" fill="#1c34cc" stroke="#101c88" stroke-width="0.4"/>
<circle cx="648.7" cy="354.3" r="1.5" fill="#1c34cc" stroke="#101c88" stroke-width="0.4"/>
<circle cx="583.6" cy="353.3" r="1.5" fill="#b81c1c" stroke="#841414" stroke-width="0.4"/>
<circle cx="637.0" cy="397.0" r="1.5" fill="#2cb032" stroke="#1c8022" stroke-width="0.4"/>
<circle cx="635.4" cy="394.0" r="1.5" fill="#1c34cc" stroke="#101c88" stroke-width="0.4"/>
<circle cx="575.5" cy="337.4" r="1.5" fill="#b81c1c" stroke="#841414" stroke-width="0.4"/>
<ellipse cx="595.5" cy="337.4" rx="54.4" ry="27.2" transform="rotate(-23.5 595.5 337.4)" fill="#F8766D" fill-opacity="0.17"/>
<ellipse cx="632.3" cy="354.4" rx="20.4" ry="35.1" transform="rotate(10.8 632.3 354.4)" fill="#00BA38" fill-opacity="0.17"/>
<ellipse cx="644.2" cy="353.8" rx="24.5" ry="34.1" transform="rotate(7.5 644.2 353.8)" fill="#619CFF" fill-opacity="0.17"/>
</g>
<rect x="493.6" y="300.3" width="179.60" height="180.90" fill="none" stroke="#111" stroke-width="1.6"/>
<g font-family='"Liberation Sans", Arial, Helvetica, sans-serif' fill="#111">
<text x="0.0" y="16.0" font-size="19" font-weight="bold">a</text>
<text x="125.5" y="20.3" font-size="13" text-anchor="middle">Genetics</text>
<text x="122.9" y="228.3" font-size="13" text-anchor="middle">PC1 (variation</text>
<text x="123.6" y="243.2" font-size="13" text-anchor="middle">explained of 4.88%)</text>
<text transform="translate(15.1,118.1) rotate(-90)" font-size="13" text-anchor="middle">PC2 (variation</text>
<text transform="translate(30.7,118.1) rotate(-90)" font-size="13" text-anchor="middle">explained of 0.49%)</text>
<text x="232.0" y="16.0" font-size="19" font-weight="bold">b</text>
<text x="355.6" y="18.7" font-size="13" text-anchor="middle">Transcriptomics</text>
<text x="354.4" y="227.8" font-size="13" text-anchor="middle">PC1 (variation</text>
<text x="354.5" y="242.9" font-size="13" text-anchor="middle">explained of 19.0%)</text>
<text transform="translate(243.5,120.7) rotate(-90)" font-size="13" text-anchor="middle">PC2 (variation</text>
<text transform="translate(259.0,121.1) rotate(-90)" font-size="13" text-anchor="middle">explained of 7.9%)</text>
<text x="472.6" y="16.0" font-size="19" font-weight="bold">c</text>
<text x="582.3" y="19.4" font-size="13" text-anchor="middle">MiRNA</text>
<text x="581.7" y="228.2" font-size="13" text-anchor="middle">PC1 (variation</text>
<text x="581.8" y="243.3" font-size="13" text-anchor="middle">explained of 38.9%)</text>
<text transform="translate(472.8,118.65) rotate(-90)" font-size="13" text-anchor="middle">PC2 (variation</text>
<text transform="translate(488.2,119.1) rotate(-90)" font-size="13" text-anchor="middle">explained of 10.4%)</text>
<text x="-0.8" y="289.5" font-size="19" font-weight="bold">d</text>
<text x="126.2" y="288.7" font-size="13" text-anchor="middle">Lipidomics</text>
<text x="126.1" y="499.6" font-size="13" text-anchor="middle">PC1 (variation</text>
<text x="126.1" y="514.4" font-size="13" text-anchor="middle">explained of 24.5%)</text>
<text transform="translate(10.8,390.5) rotate(-90)" font-size="13" text-anchor="middle">PC2 (variation</text>
<text transform="translate(27.0,390.5) rotate(-90)" font-size="13" text-anchor="middle">explained of 15.6%)</text>
<text x="231.4" y="290.0" font-size="19" font-weight="bold">e</text>
<text x="356.4" y="289.3" font-size="13" text-anchor="middle">Clinical-lifestyle-diet</text>
<text x="356.3" y="499.6" font-size="13" text-anchor="middle">PC1 (variation</text>
<text x="356.2" y="514.4" font-size="13" text-anchor="middle">explained of 17.7%)</text>
<text transform="translate(239.7,390.5) rotate(-90)" font-size="13" text-anchor="middle">PC2 (variation</text>
<text transform="translate(256.0,390.3) rotate(-90)" font-size="13" text-anchor="middle">explained of 10.7%)</text>
<text x="464.6" y="290.0" font-size="19" font-weight="bold">f</text>
<text x="582.4" y="289.3" font-size="13" text-anchor="middle">Diet only</text>
<text x="581.1" y="499.6" font-size="13" text-anchor="middle">PC1 (variation</text>
<text x="580.8" y="514.4" font-size="13" text-anchor="middle">explained of 4.8%)</text>
<text transform="translate(467.7,390.2) rotate(-90)" font-size="13" text-anchor="middle">PC2 (variation</text>
<text transform="translate(484.0,390.7) rotate(-90)" font-size="13" text-anchor="middle">explained of 2.9%)</text>
</g>
<rect x="149.4" y="35.3" width="56.2" height="41.4" fill="#fff" stroke="#333" stroke-width="0.9"/>
<circle cx="157.2" cy="43.3" r="3.1" fill="#e01515" stroke="#8c1010" stroke-width="0.7"/>
<text x="164.0" y="47.0" font-family='"Liberation Sans", Arial, sans-serif' font-size="11.3" fill="#111">Chinese</text>
<circle cx="157.2" cy="56.1" r="3.1" fill="#2ee22e" stroke="#189018" stroke-width="0.7"/>
<text x="164.0" y="59.8" font-family='"Liberation Sans", Arial, sans-serif' font-size="11.3" fill="#111">Malay</text>
<circle cx="157.2" cy="68.9" r="3.1" fill="#121290" stroke="#0a0a55" stroke-width="0.7"/>
<text x="164.0" y="72.6" font-family='"Liberation Sans", Arial, sans-serif' font-size="11.3" fill="#111">Indian</text>
</svg>
</body></html>
